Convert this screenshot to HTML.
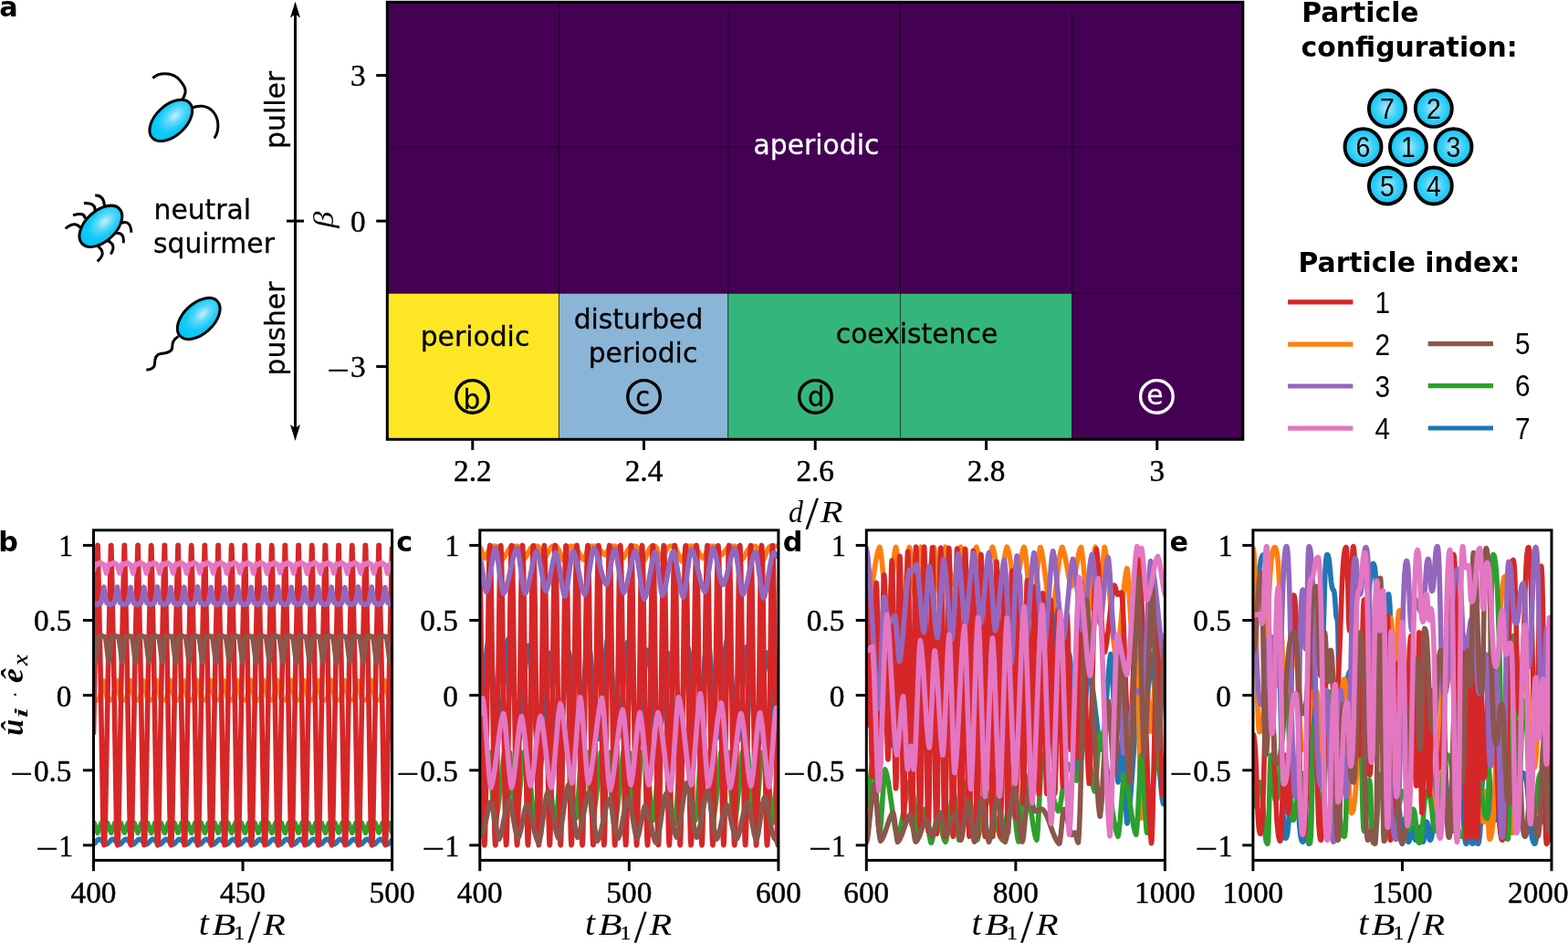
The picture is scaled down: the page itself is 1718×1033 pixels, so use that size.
<!DOCTYPE html>
<html lang="en"><head><meta charset="utf-8"><title>Squirmer cluster state diagram</title>
<style>
html,body{margin:0;padding:0;background:#fff;}
body{width:1718px;height:1033px;overflow:hidden;}
svg{display:block;}
text{white-space:pre;}
</style></head>
<body>
<svg width="1718" height="1033" viewBox="0 0 1718 1033">
<rect x="0" y="0" width="1718" height="1033" fill="#fff"/>
<defs>
<radialGradient id="cy" cx="62%" cy="48%" r="62%">
<stop offset="0" stop-color="#c4f2fe"/><stop offset="0.3" stop-color="#5fd8f9"/><stop offset="0.65" stop-color="#10caf7"/><stop offset="1" stop-color="#00c5f6"/>
</radialGradient>
</defs>
<rect x="424.3" y="2.3" width="937.5" height="479.0" fill="#440154"/>
<rect x="424.3" y="321.3" width="188.09999999999997" height="160.0" fill="#fde725"/>
<rect x="612.4" y="321.3" width="185.30000000000007" height="160.0" fill="#8bb5d7"/>
<rect x="797.7" y="321.3" width="376.79999999999995" height="160.0" fill="#34b67a"/>
<line x1="612.4" y1="2.3" x2="612.4" y2="481.3" stroke="#000" stroke-width="1" opacity="0.6"/>
<line x1="797.7" y1="2.3" x2="797.7" y2="481.3" stroke="#000" stroke-width="1" opacity="0.6"/>
<line x1="986.5" y1="2.3" x2="986.5" y2="481.3" stroke="#000" stroke-width="1" opacity="0.6"/>
<line x1="1174.5" y1="2.3" x2="1174.5" y2="481.3" stroke="#000" stroke-width="1" opacity="0.6"/>
<line x1="424.3" y1="161.3" x2="1361.8" y2="161.3" stroke="#000" stroke-width="1" opacity="0.6"/>
<line x1="424.3" y1="321.3" x2="1361.8" y2="321.3" stroke="#000" stroke-width="1" opacity="0.6"/>
<rect x="424.3" y="2.3" width="937.5" height="479.0" fill="none" stroke="#000" stroke-width="3"/>
<line x1="517.8" y1="482.5" x2="517.8" y2="493" stroke="#000" stroke-width="3" />
<text x="517.8" y="527.4" font-family='"Liberation Serif", "DejaVu Serif", serif' font-size="33.3" text-anchor="middle" font-weight="normal" font-style="normal" fill="#000"  stroke="#000" stroke-width="0.45">2.2</text>
<line x1="705.5" y1="482.5" x2="705.5" y2="493" stroke="#000" stroke-width="3" />
<text x="705.5" y="527.4" font-family='"Liberation Serif", "DejaVu Serif", serif' font-size="33.3" text-anchor="middle" font-weight="normal" font-style="normal" fill="#000"  stroke="#000" stroke-width="0.45">2.4</text>
<line x1="893.2" y1="482.5" x2="893.2" y2="493" stroke="#000" stroke-width="3" />
<text x="893.2" y="527.4" font-family='"Liberation Serif", "DejaVu Serif", serif' font-size="33.3" text-anchor="middle" font-weight="normal" font-style="normal" fill="#000"  stroke="#000" stroke-width="0.45">2.6</text>
<line x1="1080.6" y1="482.5" x2="1080.6" y2="493" stroke="#000" stroke-width="3" />
<text x="1080.6" y="527.4" font-family='"Liberation Serif", "DejaVu Serif", serif' font-size="33.3" text-anchor="middle" font-weight="normal" font-style="normal" fill="#000"  stroke="#000" stroke-width="0.45">2.8</text>
<line x1="1267.8" y1="482.5" x2="1267.8" y2="493" stroke="#000" stroke-width="3" />
<text x="1267.8" y="527.4" font-family='"Liberation Serif", "DejaVu Serif", serif' font-size="33.3" text-anchor="middle" font-weight="normal" font-style="normal" fill="#000"  stroke="#000" stroke-width="0.45">3</text>
<line x1="412.2" y1="82.6" x2="423" y2="82.6" stroke="#000" stroke-width="3" />
<text font-family='"Liberation Serif", "DejaVu Serif", serif' font-size="33.3" stroke="#000" stroke-width="0.45" x="383.95" y="94.20">3</text>
<line x1="412.2" y1="242.1" x2="423" y2="242.1" stroke="#000" stroke-width="3" />
<text font-family='"Liberation Serif", "DejaVu Serif", serif' font-size="33.3" stroke="#000" stroke-width="0.45" x="383.95" y="253.70">0</text>
<line x1="412.2" y1="401.5" x2="423" y2="401.5" stroke="#000" stroke-width="3" />
<text font-family='"Liberation Serif", "DejaVu Serif", serif' font-size="33.3" stroke="#000" stroke-width="0.45"><tspan x="358.55" y="416.70" textLength="24.5" lengthAdjust="spacingAndGlyphs">−</tspan><tspan x="383.95" y="413.10">3</tspan></text>
<text fill="#000"><tspan x="863.94" y="571.70" font-family='"Liberation Serif", "DejaVu Serif", serif' font-size="33.09" font-style="italic" font-weight="normal" textLength="15.96" lengthAdjust="spacingAndGlyphs">d</tspan><tspan x="882.01" y="575.80" font-family='"DejaVu Sans Light", "DejaVu Sans", "Liberation Sans", sans-serif' font-size="40.00" font-style="normal" font-weight="normal" textLength="15.47" lengthAdjust="spacingAndGlyphs" stroke="#000" stroke-width="0.3">/</tspan><tspan x="898.90" y="571.70" font-family='"Liberation Serif", "DejaVu Serif", serif' font-size="34.05" font-style="italic" font-weight="normal" textLength="24.54" lengthAdjust="spacingAndGlyphs">R</tspan></text>
<text transform="translate(365.7,250.3) rotate(-90)" fill="#000"><tspan x="0.55" y="-0.51" font-family='"Liberation Serif", "DejaVu Serif", serif' font-size="32.61" font-style="italic" font-weight="normal" textLength="18.16" lengthAdjust="spacingAndGlyphs">β</tspan></text>
<text x="894.4" y="169.4" font-family='"DejaVu Sans", "Liberation Sans", sans-serif' font-size="29.8" text-anchor="middle" font-weight="normal" font-style="normal" fill="#fff"  stroke="#fff" stroke-width="0.3">aperiodic</text>
<text x="520.5" y="378.5" font-family='"DejaVu Sans", "Liberation Sans", sans-serif' font-size="29.8" text-anchor="middle" font-weight="normal" font-style="normal" fill="#000"  stroke="#000" stroke-width="0.3">periodic</text>
<text x="699.5" y="359.8" font-family='"DejaVu Sans", "Liberation Sans", sans-serif' font-size="29.8" text-anchor="middle" font-weight="normal" font-style="normal" fill="#000"  stroke="#000" stroke-width="0.3">disturbed</text>
<text x="704.5" y="396.8" font-family='"DejaVu Sans", "Liberation Sans", sans-serif' font-size="29.8" text-anchor="middle" font-weight="normal" font-style="normal" fill="#000"  stroke="#000" stroke-width="0.3">periodic</text>
<text x="1004.5" y="375.5" font-family='"DejaVu Sans", "Liberation Sans", sans-serif' font-size="29.8" text-anchor="middle" font-weight="normal" font-style="normal" fill="#000"  stroke="#000" stroke-width="0.3">coexistence</text>
<circle cx="517.5" cy="434.4" r="17.8" fill="none" stroke="#000" stroke-width="3.4"/>
<text fill="#000"><tspan x="507.54" y="447.54" font-family='"DejaVu Sans", "Liberation Sans", sans-serif' font-size="30.58" font-style="normal" font-weight="normal" textLength="18.78" lengthAdjust="spacingAndGlyphs" stroke="#000" stroke-width="0.3">b</tspan></text>
<circle cx="705.55" cy="434.4" r="17.8" fill="none" stroke="#000" stroke-width="3.4"/>
<text fill="#000"><tspan x="696.22" y="445.05" font-family='"DejaVu Sans", "Liberation Sans", sans-serif' font-size="29.74" font-style="normal" font-weight="normal" textLength="15.80" lengthAdjust="spacingAndGlyphs" stroke="#000" stroke-width="0.3">c</tspan></text>
<circle cx="893.45" cy="434.4" r="17.8" fill="none" stroke="#000" stroke-width="3.4"/>
<text fill="#000"><tspan x="884.99" y="444.96" font-family='"DejaVu Sans", "Liberation Sans", sans-serif' font-size="29.29" font-style="normal" font-weight="normal" textLength="18.52" lengthAdjust="spacingAndGlyphs" stroke="#000" stroke-width="0.3">d</tspan></text>
<circle cx="1267.4" cy="434.4" r="17.8" fill="none" stroke="#fff" stroke-width="3.4"/>
<text fill="#fff"><tspan x="1256.16" y="442.64" font-family='"DejaVu Sans", "Liberation Sans", sans-serif' font-size="30.43" font-style="normal" font-weight="normal" textLength="18.34" lengthAdjust="spacingAndGlyphs" stroke="#fff" stroke-width="0.3">e</tspan></text>
<line x1="323.5" y1="12" x2="323.5" y2="472" stroke="#000" stroke-width="3" />
<path d="M323.5,1.7 L329,19.6 L323.5,15.6 L318,19.6 Z" fill="#000"/>
<path d="M323.5,482.9 L329,465 L323.5,469 L318,465 Z" fill="#000"/>
<line x1="314" y1="242.1" x2="333" y2="242.1" stroke="#000" stroke-width="3" />
<text transform="translate(312.3,162.9) rotate(-90)" font-family='"DejaVu Sans", "Liberation Sans", sans-serif' font-size="29.8" stroke="#000" stroke-width="0.3">puller</text>
<text transform="translate(312.3,411.4) rotate(-90)" font-family='"DejaVu Sans", "Liberation Sans", sans-serif' font-size="29.8" stroke="#000" stroke-width="0.3">pusher</text>
<text x="168.5" y="239.8" font-family='"DejaVu Sans", "Liberation Sans", sans-serif' font-size="29.8" text-anchor="start" font-weight="normal" font-style="normal" fill="#000"  stroke="#000" stroke-width="0.3">neutral</text>
<text x="168.0" y="276.8" font-family='"DejaVu Sans", "Liberation Sans", sans-serif' font-size="29.8" text-anchor="start" font-weight="normal" font-style="normal" fill="#000"  stroke="#000" stroke-width="0.3">squirmer</text>
<text x="-0.7" y="17.7" font-family='"DejaVu Sans", "Liberation Sans", sans-serif' font-size="30.3" text-anchor="start" font-weight="bold" font-style="normal" fill="#000" >a</text>
<path d="M167.4,85.6 C173.3,79.6 188.7,78.2 197.1,87.9 S204.0,101.9 199.6,109.6" fill="none" stroke="#000" stroke-width="3" stroke-linecap="butt"/>
<path d="M210.6,118.2 C216.6,115.2 226.4,115.2 232.7,121.5 S241.8,141.0 234.8,151.5" fill="none" stroke="#000" stroke-width="3" stroke-linecap="butt"/>
<ellipse cx="187.3" cy="131.9" rx="28" ry="16.6" transform="rotate(-43 187.3 131.9)" fill="url(#cy)" stroke="#000" stroke-width="3"/>
<path d="M114.5,225.4 Q113.7,213.5 104.2,213.9" fill="none" stroke="#000" stroke-width="3" stroke-linecap="butt"/>
<path d="M103.8,230.6 Q105.6,222.2 91.9,222.6" fill="none" stroke="#000" stroke-width="3" stroke-linecap="butt"/>
<path d="M93.3,239.7 Q92.9,231.8 80,235.9" fill="none" stroke="#000" stroke-width="3" stroke-linecap="butt"/>
<path d="M88,249.2 Q81.6,241.5 71.7,250.5" fill="none" stroke="#000" stroke-width="3" stroke-linecap="butt"/>
<path d="M132.8,244.3 Q143.2,240.5 143.9,254.7" fill="none" stroke="#000" stroke-width="3" stroke-linecap="butt"/>
<path d="M126.5,255.4 Q136.8,254.1 135.2,266.3" fill="none" stroke="#000" stroke-width="3" stroke-linecap="butt"/>
<path d="M117.5,263.5 Q128.2,267.8 121.3,278.5" fill="none" stroke="#000" stroke-width="3" stroke-linecap="butt"/>
<path d="M107.3,269.8 Q117.5,277.6 106.6,286.2" fill="none" stroke="#000" stroke-width="3" stroke-linecap="butt"/>
<ellipse cx="110.4" cy="247.8" rx="28" ry="16.6" transform="rotate(-43 110.4 247.8)" fill="url(#cy)" stroke="#000" stroke-width="3"/>
<path d="M195.5,368.5 C190,371.5 188.5,375 188.7,380.5 C188.9,386 181,387 176.1,387.5 C171.5,388 169.5,392 169.5,398.5 C169.5,403 165,405.2 160.3,404.9" fill="none" stroke="#000" stroke-width="3" stroke-linecap="butt"/>
<ellipse cx="217.7" cy="349" rx="28" ry="16.6" transform="rotate(-43 217.7 349)" fill="url(#cy)" stroke="#000" stroke-width="3"/>
<text x="1426.2" y="24.4" font-family='"DejaVu Sans", "Liberation Sans", sans-serif' font-size="29.8" text-anchor="start" font-weight="bold" font-style="normal" fill="#000" >Particle</text>
<text x="1425.6" y="62.0" font-family='"DejaVu Sans", "Liberation Sans", sans-serif' font-size="29.85" text-anchor="start" font-weight="bold" font-style="normal" fill="#000" >configuration:</text>
<radialGradient id="cy2" cx="50%" cy="50%" r="50%">
<stop offset="0" stop-color="#b4ecfc"/><stop offset="0.5" stop-color="#4ad3f7"/><stop offset="1" stop-color="#06c5f5"/>
</radialGradient>
<circle cx="1519.9" cy="118.9" r="20" fill="url(#cy2)" stroke="#000" stroke-width="3.9"/>
<text transform="translate(1519.9,130.1) scale(0.9,1)" font-family='"Liberation Sans", "DejaVu Sans", sans-serif' font-size="31.5" text-anchor="middle">7</text>
<circle cx="1570.8" cy="118.9" r="20" fill="url(#cy2)" stroke="#000" stroke-width="3.9"/>
<text transform="translate(1570.8,130.1) scale(0.9,1)" font-family='"Liberation Sans", "DejaVu Sans", sans-serif' font-size="31.5" text-anchor="middle">2</text>
<circle cx="1493.5" cy="161.1" r="20" fill="url(#cy2)" stroke="#000" stroke-width="3.9"/>
<text transform="translate(1493.5,172.29999999999998) scale(0.9,1)" font-family='"Liberation Sans", "DejaVu Sans", sans-serif' font-size="31.5" text-anchor="middle">6</text>
<circle cx="1542.9" cy="161.1" r="20" fill="url(#cy2)" stroke="#000" stroke-width="3.9"/>
<text transform="translate(1542.9,172.29999999999998) scale(0.9,1)" font-family='"Liberation Sans", "DejaVu Sans", sans-serif' font-size="31.5" text-anchor="middle">1</text>
<circle cx="1592.5" cy="161.1" r="20" fill="url(#cy2)" stroke="#000" stroke-width="3.9"/>
<text transform="translate(1592.5,172.29999999999998) scale(0.9,1)" font-family='"Liberation Sans", "DejaVu Sans", sans-serif' font-size="31.5" text-anchor="middle">3</text>
<circle cx="1519.9" cy="203.5" r="20" fill="url(#cy2)" stroke="#000" stroke-width="3.9"/>
<text transform="translate(1519.9,214.7) scale(0.9,1)" font-family='"Liberation Sans", "DejaVu Sans", sans-serif' font-size="31.5" text-anchor="middle">5</text>
<circle cx="1570.8" cy="203.5" r="20" fill="url(#cy2)" stroke="#000" stroke-width="3.9"/>
<text transform="translate(1570.8,214.7) scale(0.9,1)" font-family='"Liberation Sans", "DejaVu Sans", sans-serif' font-size="31.5" text-anchor="middle">4</text>
<text x="1422.5" y="297.9" font-family='"DejaVu Sans", "Liberation Sans", sans-serif' font-size="29.8" text-anchor="start" font-weight="bold" font-style="normal" fill="#000" >Particle index:</text>
<line x1="1411.1" y1="330.9" x2="1482.4" y2="330.9" stroke="#d62728" stroke-width="5.2" />
<text transform="translate(1514.7,342.59999999999997) scale(0.92,1)" font-family='"Liberation Sans", "DejaVu Sans", sans-serif' font-size="32.4" text-anchor="middle">1</text>
<line x1="1411.1" y1="377.1" x2="1482.4" y2="377.1" stroke="#ff7f0e" stroke-width="5.2" />
<text transform="translate(1514.7,388.8) scale(0.92,1)" font-family='"Liberation Sans", "DejaVu Sans", sans-serif' font-size="32.4" text-anchor="middle">2</text>
<line x1="1411.1" y1="423.0" x2="1482.4" y2="423.0" stroke="#9467bd" stroke-width="5.2" />
<text transform="translate(1514.7,434.7) scale(0.92,1)" font-family='"Liberation Sans", "DejaVu Sans", sans-serif' font-size="32.4" text-anchor="middle">3</text>
<line x1="1411.1" y1="469.2" x2="1482.4" y2="469.2" stroke="#e377c2" stroke-width="5.2" />
<text transform="translate(1514.7,480.9) scale(0.92,1)" font-family='"Liberation Sans", "DejaVu Sans", sans-serif' font-size="32.4" text-anchor="middle">4</text>
<line x1="1564.7" y1="376.7" x2="1636" y2="376.7" stroke="#8c564b" stroke-width="5.2" />
<text transform="translate(1668.2,388.4) scale(0.92,1)" font-family='"Liberation Sans", "DejaVu Sans", sans-serif' font-size="32.4" text-anchor="middle">5</text>
<line x1="1564.7" y1="422.6" x2="1636" y2="422.6" stroke="#2ca02c" stroke-width="5.2" />
<text transform="translate(1668.2,434.3) scale(0.92,1)" font-family='"Liberation Sans", "DejaVu Sans", sans-serif' font-size="32.4" text-anchor="middle">6</text>
<line x1="1564.7" y1="469.0" x2="1636" y2="469.0" stroke="#1f77b4" stroke-width="5.2" />
<text transform="translate(1668.2,480.7) scale(0.92,1)" font-family='"Liberation Sans", "DejaVu Sans", sans-serif' font-size="32.4" text-anchor="middle">7</text>
<rect x="102.5" y="580.8" width="327.1" height="361.6" fill="#fff"/>
<clipPath id="clipb"><rect x="102.5" y="580.8" width="327.1" height="361.6"/></clipPath>
<g clip-path="url(#clipb)" fill="none" stroke-width="5.6" stroke-linejoin="round" stroke-linecap="round">
<path d="M102.5,924.6 103.8,923.7 107.0,920.1 108.0,919.5 108.8,919.3 109.8,919.6 110.8,920.2 114.5,924.2 115.5,924.8 116.2,924.9 117.0,924.7 118.0,924.1 121.8,920.1 122.8,919.5 123.5,919.3 124.2,919.5 125.0,919.9 129.0,924.1 130.0,924.7 130.8,924.9 131.5,924.8 132.5,924.2 136.2,920.2 137.2,919.5 138.0,919.3 138.8,919.4 139.8,920.0 143.5,924.0 144.5,924.7 145.5,924.9 146.2,924.8 147.0,924.3 151.0,920.1 152.0,919.5 152.8,919.3 153.8,919.5 154.8,920.2 158.5,924.2 159.5,924.8 160.2,924.9 161.0,924.7 162.0,924.1 165.8,920.1 166.8,919.5 167.5,919.3 168.2,919.5 169.0,919.9 173.0,924.1 174.0,924.7 174.8,924.9 175.8,924.7 176.8,924.0 180.5,920.0 181.5,919.4 182.2,919.3 183.0,919.5 184.0,920.2 187.8,924.2 188.8,924.8 189.5,924.9 190.2,924.8 191.2,924.2 195.0,920.1 196.0,919.5 196.8,919.3 197.8,919.5 198.8,920.2 202.5,924.2 203.5,924.8 204.2,924.9 205.0,924.7 206.0,924.1 209.8,920.1 210.8,919.5 211.5,919.3 212.2,919.5 213.2,920.1 217.0,924.1 218.0,924.7 218.8,924.9 219.5,924.8 220.5,924.2 224.2,920.2 225.2,919.5 226.2,919.3 227.0,919.5 228.0,920.1 231.8,924.2 232.8,924.8 233.5,924.9 234.2,924.8 235.2,924.2 239.0,920.2 240.0,919.5 240.8,919.3 241.5,919.4 242.5,920.0 246.2,924.0 247.2,924.7 248.2,924.9 249.0,924.7 250.0,924.1 254.0,919.9 254.8,919.5 255.5,919.3 256.2,919.5 257.2,920.1 261.0,924.1 262.0,924.7 262.8,924.9 263.5,924.8 264.5,924.2 268.2,920.2 269.2,919.5 270.2,919.3 271.0,919.5 272.0,920.1 276.0,924.3 276.8,924.8 277.5,924.9 278.2,924.8 279.2,924.2 283.0,920.2 284.0,919.5 284.8,919.3 285.5,919.4 286.5,920.0 290.2,924.0 291.2,924.7 292.2,924.9 293.0,924.7 294.0,924.1 298.0,919.9 298.8,919.5 299.5,919.3 300.2,919.5 301.2,920.1 305.0,924.1 306.0,924.7 306.8,924.9 307.5,924.8 308.5,924.2 312.2,920.2 313.2,919.6 314.0,919.3 314.8,919.4 315.8,919.9 319.8,924.1 320.8,924.8 321.5,924.9 322.2,924.8 323.2,924.2 327.0,920.2 328.0,919.5 328.8,919.3 329.5,919.4 330.5,920.0 334.2,924.0 335.2,924.7 336.2,924.9 337.0,924.8 338.0,924.1 342.0,919.9 342.8,919.5 343.5,919.3 344.2,919.5 345.2,920.1 349.0,924.1 350.0,924.7 350.8,924.9 351.5,924.8 352.5,924.3 356.2,920.2 357.2,919.6 358.0,919.3 358.8,919.4 359.8,919.9 363.8,924.1 364.8,924.8 365.5,924.9 366.2,924.8 367.2,924.2 371.0,920.2 372.0,919.5 372.8,919.3 373.5,919.4 374.5,920.0 378.2,924.0 379.2,924.7 380.2,924.9 381.0,924.8 382.0,924.1 385.5,920.3 386.5,919.6 387.2,919.4 388.0,919.4 389.0,919.9 393.0,924.1 394.0,924.7 394.8,924.9 395.5,924.8 396.5,924.3 400.2,920.3 401.2,919.6 402.0,919.3 402.8,919.4 403.8,919.9 407.8,924.1 408.8,924.8 409.5,924.9 410.2,924.8 411.2,924.2 414.8,920.4 415.8,919.7 416.5,919.4 417.5,919.4 418.5,920.0 422.2,924.0 423.2,924.7 424.0,924.9 425.0,924.8 426.0,924.1 429.5,920.3" stroke="#1f77b4"/>
<path d="M102.5,763.7 103.0,766.1 103.2,766.6 108.8,766.6 109.0,766.4 113.2,745.7 113.5,745.9 117.8,766.5 123.5,766.6 123.8,766.0 128.0,745.4 132.5,766.6 138.2,766.6 142.8,745.5 147.0,766.1 147.2,766.6 152.8,766.6 153.0,766.4 157.2,745.8 157.5,745.9 161.8,766.5 167.5,766.6 167.8,766.0 172.0,745.4 176.5,766.6 182.2,766.6 186.8,745.4 191.0,766.0 191.2,766.6 197.0,766.5 201.2,745.8 201.5,745.8 205.8,766.4 206.0,766.6 211.5,766.6 211.8,766.1 216.0,745.5 220.5,766.6 226.2,766.6 230.8,745.4 235.0,766.0 235.2,766.6 241.0,766.5 245.2,745.9 245.5,745.8 249.8,766.4 250.0,766.6 255.5,766.6 255.8,766.1 260.0,745.5 264.5,766.6 270.2,766.6 274.8,745.3 279.2,766.6 285.0,766.6 289.2,745.9 289.5,745.7 293.8,766.3 294.0,766.6 299.5,766.6 299.8,766.2 304.0,745.6 304.2,746.1 308.5,766.6 314.2,766.6 318.8,745.3 323.2,766.6 329.0,766.6 333.2,746.0 333.5,745.7 337.8,766.3 338.0,766.6 343.5,766.6 343.8,766.2 348.0,745.6 348.2,746.1 352.5,766.6 358.2,766.6 362.8,745.2 367.2,766.6 373.0,766.6 377.2,746.0 377.5,745.6 381.8,766.2 382.0,766.6 387.5,766.6 387.8,766.3 392.0,745.7 392.2,746.0 396.5,766.6 402.2,766.6 406.8,745.3 411.2,766.6 417.0,766.6 421.2,746.1 421.5,745.6 425.8,766.2 426.0,766.6 429.5,766.6" stroke="#ff7f0e"/>
<path d="M102.5,901.3 103.0,901.4 107.0,912.3 111.2,901.3 117.5,901.3 121.8,912.3 125.8,901.5 126.0,901.3 132.2,901.3 136.2,912.1 136.5,912.1 140.5,901.3 146.8,901.3 147.0,901.4 151.0,912.3 155.2,901.3 161.5,901.3 165.8,912.4 169.8,901.5 170.0,901.3 176.2,901.3 180.2,912.0 180.5,912.2 184.5,901.3 184.8,901.3 191.0,901.4 195.0,912.2 195.2,911.9 199.2,901.3 205.5,901.3 209.8,912.4 213.8,901.5 214.0,901.3 220.2,901.3 224.2,912.0 224.5,912.2 228.5,901.3 228.8,901.3 235.0,901.3 239.0,912.2 239.2,912.0 243.2,901.3 249.5,901.3 249.8,901.6 253.8,912.4 257.8,901.6 258.0,901.3 264.2,901.3 268.2,912.0 268.5,912.2 272.5,901.3 272.8,901.3 279.0,901.3 283.0,912.2 283.2,912.0 287.2,901.3 293.5,901.3 293.8,901.5 297.8,912.4 302.0,901.3 308.2,901.3 312.2,911.9 312.5,912.2 316.5,901.4 316.8,901.3 323.0,901.3 327.0,912.2 327.2,912.0 331.2,901.3 337.5,901.3 337.8,901.5 341.8,912.4 346.0,901.3 352.2,901.3 356.5,912.3 360.5,901.4 360.8,901.3 367.0,901.3 371.0,912.1 371.2,912.1 375.2,901.3 381.5,901.3 381.8,901.5 385.8,912.3 390.0,901.3 396.2,901.3 400.5,912.3 404.5,901.4 404.8,901.3 411.0,901.3 415.0,912.1 415.2,912.1 419.2,901.3 425.5,901.3 425.8,901.4 429.5,911.6" stroke="#2ca02c"/>
<path d="M102.5,803.0 104.8,687.6 106.8,601.2 107.0,597.4 107.2,597.5 110.0,730.0 112.8,894.5 113.5,920.3 114.0,925.8 114.2,925.4 114.5,923.1 115.0,912.4 115.5,894.3 118.8,717.8 121.5,597.5 121.8,597.4 122.0,601.4 124.5,720.9 127.5,898.1 128.2,921.8 128.5,925.0 128.8,925.9 129.0,924.9 129.5,916.9 130.2,890.8 133.5,714.0 136.0,605.2 136.2,597.4 136.5,597.4 139.2,725.2 142.0,890.2 142.8,918.2 143.0,923.1 143.2,925.5 143.5,925.8 144.0,920.6 144.8,898.1 148.2,710.3 150.8,601.6 151.0,597.4 151.2,597.4 154.0,729.4 156.8,894.0 157.5,920.0 157.8,924.1 158.0,925.8 158.2,925.5 158.8,919.0 159.5,894.7 162.8,718.3 165.5,598.0 165.8,597.4 166.0,600.9 168.5,720.4 171.5,897.7 172.2,921.6 172.5,924.9 172.8,925.9 173.0,925.0 173.2,922.1 173.5,917.2 174.2,891.3 177.5,714.5 180.0,605.7 180.2,597.4 180.5,597.4 183.2,724.6 186.0,889.7 186.8,918.0 187.0,922.9 187.2,925.5 187.5,925.8 188.0,920.7 188.8,898.5 192.2,710.8 194.8,602.1 195.0,597.4 195.2,597.4 198.0,728.9 200.8,893.6 201.5,919.8 201.8,924.0 202.0,925.8 202.2,925.5 202.8,919.2 203.5,895.2 206.8,718.8 209.5,598.5 209.8,597.4 210.0,600.5 212.5,719.9 215.5,897.2 216.2,921.4 216.5,924.8 216.8,925.9 217.0,925.0 217.2,922.2 217.5,917.4 218.2,891.7 221.5,715.0 224.0,606.2 224.2,597.4 224.5,597.4 227.2,724.1 230.0,889.2 230.8,917.7 231.0,922.8 231.2,925.4 231.5,925.8 232.0,920.9 232.8,898.9 236.2,711.2 238.8,602.5 239.0,597.4 239.2,597.4 242.0,728.4 244.8,893.1 245.5,919.6 245.8,923.9 246.0,925.8 246.2,925.6 246.8,919.4 247.5,895.6 250.8,719.2 253.5,598.9 253.8,597.4 254.0,600.0 256.5,719.4 259.5,896.8 260.2,921.2 260.5,924.7 260.8,925.9 261.0,925.1 261.2,922.4 261.5,917.6 262.2,892.1 265.5,715.4 268.0,606.6 268.2,597.4 268.5,597.4 271.2,723.6 274.0,888.7 274.8,917.5 275.0,922.6 275.2,925.4 275.5,925.8 276.0,921.1 276.8,899.3 280.2,711.7 282.8,603.0 283.0,597.4 283.2,597.4 286.0,727.8 288.8,892.6 289.5,919.4 289.8,923.8 290.0,925.7 290.2,925.6 290.8,919.6 291.5,896.0 294.8,719.7 297.5,599.4 297.8,597.4 298.0,599.5 300.5,718.9 303.5,896.3 304.2,921.1 304.5,924.7 304.8,925.9 305.0,925.2 305.2,922.5 305.5,917.9 306.2,892.6 309.5,715.9 312.0,607.1 312.2,597.4 312.5,597.4 315.2,723.0 318.0,888.2 318.8,917.2 319.0,922.5 319.2,925.3 319.5,925.9 320.0,921.3 320.8,899.7 324.2,712.2 326.8,603.4 327.0,597.4 327.2,597.4 330.0,727.3 332.8,892.1 333.5,919.2 333.8,923.6 334.0,925.7 334.2,925.6 334.8,919.8 335.5,896.4 338.8,720.2 341.5,599.8 341.8,597.4 342.0,599.0 344.5,718.3 347.5,895.9 348.2,920.9 348.8,925.9 349.0,925.2 349.2,922.7 349.5,918.1 350.2,893.0 353.5,716.4 356.2,597.4 356.5,597.4 356.8,602.9 359.2,722.5 362.0,887.7 362.8,917.0 363.0,922.3 363.2,925.2 363.5,925.9 364.0,921.4 364.2,916.2 365.0,889.5 368.2,712.6 370.8,603.9 371.0,597.4 371.2,597.4 374.0,726.8 376.8,891.7 377.5,918.9 377.8,923.5 378.0,925.7 378.2,925.7 378.8,920.0 379.5,896.8 382.8,720.7 385.5,600.3 385.8,597.4 386.0,598.5 388.5,717.8 391.5,895.4 392.2,920.7 392.8,925.9 393.0,925.3 393.2,922.8 393.5,918.3 394.2,893.4 397.5,716.9 400.2,597.4 400.5,597.4 400.8,602.4 403.2,722.0 406.2,899.0 407.0,922.1 407.2,925.2 407.5,925.9 408.0,921.6 408.2,916.5 409.0,889.9 412.2,713.1 414.8,604.3 415.0,597.4 415.2,597.4 418.0,726.2 420.8,891.2 421.5,918.7 421.8,923.4 422.0,925.6 422.2,925.7 422.5,924.0 423.0,914.4 423.8,886.2 426.5,733.4 429.5,600.7" stroke="#d62728"/>
<path d="M102.5,660.5 103.5,660.6 105.5,662.1 106.5,662.4 107.5,662.1 109.5,660.6 110.5,660.5 111.0,659.0 112.0,654.1 113.8,643.1 115.8,654.9 117.0,660.5 118.2,660.7 120.2,662.2 121.2,662.4 122.2,662.0 124.0,660.7 124.5,660.5 125.2,660.5 126.8,653.6 128.5,643.0 130.2,654.0 131.2,658.9 131.8,660.5 132.8,660.6 134.8,662.1 135.8,662.4 136.8,662.1 138.8,660.7 139.8,660.5 140.0,660.3 141.5,653.2 143.0,643.7 143.2,643.5 144.8,653.1 146.2,660.2 146.5,660.5 147.0,660.5 147.8,660.8 149.8,662.3 150.5,662.4 151.0,662.3 153.2,660.7 154.0,660.5 154.5,660.5 154.8,660.0 156.2,652.8 157.8,643.2 159.8,654.8 161.0,660.5 162.2,660.7 164.5,662.3 165.5,662.4 168.0,660.7 168.8,660.5 169.2,660.5 170.8,653.7 172.5,642.9 174.2,653.9 175.8,660.5 176.8,660.6 178.8,662.1 179.8,662.4 180.8,662.1 182.8,660.7 184.0,660.3 185.5,653.3 187.0,643.8 187.2,643.5 188.8,653.0 190.2,660.2 190.5,660.5 191.0,660.5 191.8,660.8 193.8,662.3 194.8,662.4 195.5,662.1 197.5,660.6 198.5,660.5 198.8,660.1 200.2,652.8 201.8,643.2 203.8,654.8 205.0,660.4 206.2,660.7 208.2,662.2 209.2,662.4 210.2,662.0 212.0,660.7 212.8,660.5 213.2,660.5 214.8,653.7 216.5,642.8 218.2,653.9 219.8,660.5 220.8,660.6 222.8,662.1 223.8,662.4 224.8,662.1 226.8,660.7 228.0,660.4 229.5,653.3 231.0,643.9 231.2,643.4 232.8,652.9 234.2,660.2 234.5,660.5 235.5,660.6 237.5,662.1 238.5,662.4 239.5,662.1 241.5,660.6 242.5,660.5 243.0,659.1 244.0,654.2 245.8,643.3 246.0,644.0 247.8,654.7 249.0,660.4 250.2,660.7 252.2,662.2 253.2,662.4 254.0,662.2 256.2,660.6 257.2,660.5 258.8,653.8 260.5,642.7 262.2,653.8 263.8,660.5 264.8,660.6 267.0,662.2 267.8,662.4 268.8,662.2 270.8,660.7 272.0,660.4 273.2,654.7 275.0,643.9 275.2,643.3 277.0,654.3 278.0,659.1 278.5,660.5 279.5,660.6 281.5,662.1 282.5,662.4 283.5,662.1 285.5,660.6 286.5,660.5 287.0,659.2 288.0,654.3 289.8,643.4 290.0,643.9 291.8,654.7 293.0,660.4 294.2,660.7 296.2,662.2 297.2,662.4 298.2,662.1 300.2,660.6 301.2,660.5 302.8,653.9 304.5,642.8 306.2,653.8 307.8,660.5 308.2,660.5 309.0,660.7 310.8,662.0 311.8,662.4 312.8,662.2 314.8,660.7 316.0,660.4 317.2,654.8 319.2,643.3 321.0,654.2 322.0,659.1 322.5,660.5 323.5,660.6 325.5,662.1 326.5,662.4 327.5,662.1 329.5,660.6 330.5,660.5 331.0,659.2 332.0,654.3 333.8,643.4 334.0,643.8 335.5,653.3 337.0,660.3 338.2,660.7 340.2,662.1 341.2,662.4 342.2,662.1 344.2,660.6 345.2,660.5 345.5,659.9 347.0,652.5 348.5,642.9 350.2,653.7 351.8,660.5 352.2,660.5 353.0,660.7 354.8,662.0 355.8,662.4 356.8,662.2 358.8,660.7 360.0,660.5 361.2,654.8 363.2,643.2 365.0,654.1 366.0,659.0 366.5,660.5 367.5,660.6 369.5,662.1 370.5,662.4 371.5,662.1 373.5,660.6 374.5,660.5 374.8,660.2 375.0,659.2 376.0,654.4 377.8,643.5 378.0,643.8 379.5,653.2 381.0,660.3 382.2,660.7 384.2,662.1 385.2,662.4 386.2,662.1 388.2,660.6 389.2,660.5 389.5,659.9 391.0,652.6 392.5,642.9 394.2,653.7 395.8,660.5 396.5,660.5 397.0,660.7 398.8,662.0 399.8,662.4 400.8,662.2 402.8,660.7 404.0,660.5 405.2,654.9 407.2,643.1 409.0,654.1 410.0,659.0 410.5,660.5 411.5,660.6 413.5,662.1 414.5,662.4 415.5,662.1 417.5,660.6 418.5,660.5 418.8,660.2 419.8,655.7 421.8,643.6 422.0,643.7 423.5,653.2 425.0,660.3 425.2,660.5 425.8,660.5 426.5,660.8 428.5,662.3 429.5,662.4" stroke="#9467bd"/>
<path d="M102.5,709.9 104.2,724.2 104.5,724.8 108.0,697.6 108.2,697.2 109.0,697.8 109.8,697.9 111.2,696.8 112.0,696.6 112.5,696.8 114.0,697.8 114.5,697.9 115.2,697.6 115.5,698.0 116.5,704.9 119.0,724.9 119.2,724.2 122.8,697.1 124.0,697.9 124.8,697.7 126.5,696.6 127.2,696.8 128.8,697.9 129.2,697.9 130.0,697.5 131.5,707.3 133.8,725.5 136.2,705.4 137.5,697.2 138.8,697.9 139.2,697.8 140.8,696.8 141.2,696.6 141.8,696.7 143.5,697.9 144.0,697.9 144.8,697.4 146.2,707.9 148.2,724.2 148.5,724.9 152.0,697.7 152.2,697.2 153.0,697.8 153.8,697.9 155.5,696.7 156.2,696.7 158.0,697.8 158.5,697.9 159.2,697.6 159.5,698.0 161.0,708.5 163.0,724.8 163.2,724.3 166.8,697.1 167.8,697.8 168.2,697.9 168.8,697.7 170.0,696.8 170.8,696.6 172.8,697.9 173.2,697.9 174.0,697.5 174.2,698.5 177.8,725.4 180.5,703.6 181.5,697.2 182.2,697.7 183.0,697.9 184.8,696.8 185.5,696.6 187.5,697.9 188.0,697.9 188.8,697.4 190.2,707.8 192.2,724.1 192.5,725.0 196.0,697.8 196.2,697.2 197.0,697.8 197.8,697.9 199.5,696.7 200.0,696.6 200.5,696.8 202.0,697.8 202.5,697.9 203.2,697.6 203.5,697.9 205.0,708.4 207.0,724.7 207.2,724.4 210.8,697.2 211.8,697.8 212.2,697.9 212.8,697.8 214.0,696.8 214.8,696.6 216.8,697.9 217.2,697.9 218.0,697.5 218.2,698.4 221.8,725.3 224.5,703.7 225.5,697.2 226.2,697.7 227.0,697.9 228.8,696.8 229.5,696.6 231.5,697.9 232.0,697.9 232.8,697.4 236.5,725.0 240.0,697.8 240.2,697.2 241.0,697.8 241.8,697.9 243.5,696.7 244.0,696.6 244.5,696.8 246.0,697.8 246.5,697.9 247.2,697.6 247.5,697.8 249.0,708.3 251.0,724.6 251.2,724.5 254.8,697.3 256.2,697.9 256.8,697.8 258.0,696.8 258.8,696.6 260.8,697.9 261.2,697.9 262.0,697.5 262.2,698.4 265.8,725.3 268.5,703.7 269.5,697.1 270.2,697.7 271.0,697.9 272.8,696.8 273.5,696.6 275.5,697.9 276.0,697.9 276.8,697.5 280.5,725.1 284.0,697.9 284.2,697.2 285.0,697.8 285.8,697.9 287.5,696.7 288.0,696.6 288.5,696.7 290.0,697.8 290.5,697.9 291.2,697.6 291.5,697.7 293.0,708.3 295.0,724.6 295.2,724.5 298.8,697.3 299.0,697.3 300.0,697.9 300.5,697.9 302.0,696.8 302.8,696.6 304.8,697.9 305.2,697.9 306.0,697.5 306.2,698.3 307.8,708.9 309.8,725.2 313.5,697.1 314.2,697.7 315.0,697.9 316.8,696.8 317.5,696.6 319.5,697.9 320.0,697.9 320.8,697.5 322.0,705.7 324.5,725.2 328.0,698.0 328.2,697.2 329.0,697.8 329.8,697.9 331.5,696.7 332.0,696.6 332.5,696.7 334.2,697.9 335.2,697.6 335.5,697.7 337.0,708.2 339.0,724.5 339.2,724.6 342.8,697.4 343.0,697.3 343.8,697.8 344.5,697.9 346.0,696.8 346.8,696.6 348.8,697.9 349.2,697.9 350.0,697.5 350.2,698.2 351.8,708.8 353.8,725.1 357.5,697.1 358.2,697.7 359.0,697.9 360.8,696.8 361.5,696.6 363.5,697.9 364.0,697.9 364.8,697.5 366.0,705.6 368.5,725.3 372.0,698.0 372.2,697.2 373.0,697.8 373.8,697.9 375.5,696.7 376.0,696.6 376.5,696.7 378.2,697.9 379.5,697.6 381.0,708.1 383.0,724.4 383.2,724.7 386.8,697.5 387.0,697.3 387.8,697.8 388.5,697.9 390.0,696.8 390.8,696.6 392.8,697.9 393.2,697.9 394.0,697.5 394.2,698.2 395.8,708.7 397.8,725.0 398.0,724.1 401.5,697.1 402.2,697.7 403.0,697.9 404.8,696.8 405.5,696.6 407.5,697.9 408.0,697.9 408.8,697.5 410.2,707.4 412.5,725.3 415.2,703.4 416.2,697.2 417.0,697.8 417.8,697.9 419.5,696.7 420.0,696.6 420.5,696.7 422.2,697.9 423.5,697.5 425.0,708.0 427.0,724.3 427.2,724.8 429.5,706.6" stroke="#8c564b"/>
<path d="M102.5,624.4 103.5,620.3 104.5,617.8 104.8,617.7 106.0,618.4 106.8,618.4 109.2,616.6 110.2,616.5 111.0,616.8 112.8,618.1 113.5,618.4 114.5,621.0 116.5,627.9 118.0,620.9 118.8,618.6 119.2,617.7 120.5,618.3 121.2,618.4 122.0,618.1 123.8,616.7 124.8,616.5 125.5,616.7 127.2,618.0 128.2,618.5 129.5,622.1 131.0,627.7 131.2,627.4 132.8,620.6 133.8,618.0 134.0,617.6 135.0,618.3 136.0,618.4 136.8,618.0 138.5,616.7 139.5,616.5 140.2,616.7 143.0,618.7 144.5,623.2 145.8,628.1 147.2,621.2 148.5,617.8 148.8,617.7 149.8,618.3 150.8,618.4 153.0,616.8 154.0,616.5 155.0,616.8 156.8,618.1 157.5,618.4 157.8,618.9 160.5,627.9 162.0,620.9 162.8,618.7 163.2,617.7 164.5,618.3 165.2,618.4 166.0,618.1 167.8,616.7 168.8,616.5 169.5,616.7 171.2,618.0 172.2,618.5 173.5,622.0 175.0,627.7 175.2,627.5 176.8,620.7 177.8,618.0 178.0,617.6 179.2,618.4 180.0,618.4 180.8,618.0 182.5,616.7 183.5,616.5 184.2,616.7 187.0,618.7 188.5,623.1 189.8,628.0 191.2,621.3 192.5,617.8 192.8,617.6 193.8,618.3 194.8,618.4 197.0,616.8 198.0,616.5 199.0,616.8 200.8,618.1 201.5,618.4 201.8,618.8 203.0,622.6 204.5,628.0 206.0,621.0 206.8,618.7 207.2,617.7 207.5,617.7 208.5,618.3 209.2,618.4 210.0,618.1 211.8,616.7 212.8,616.5 213.5,616.7 215.2,618.0 216.2,618.5 217.5,622.0 219.0,627.6 219.2,627.5 220.8,620.7 221.5,618.5 222.0,617.6 223.2,618.4 224.0,618.4 224.8,618.0 226.5,616.7 227.5,616.5 228.2,616.7 231.0,618.6 232.5,623.1 233.8,628.0 235.2,621.3 236.5,617.9 236.8,617.6 237.8,618.3 238.8,618.4 241.0,616.8 242.0,616.5 243.0,616.8 244.8,618.1 245.5,618.4 245.8,618.8 247.0,622.5 248.5,628.0 250.0,621.0 250.8,618.7 251.2,617.7 251.5,617.7 252.5,618.3 253.2,618.4 254.0,618.1 255.8,616.8 256.8,616.5 257.5,616.7 259.2,618.0 260.2,618.5 261.5,622.0 263.0,627.6 263.2,627.6 264.8,620.7 265.5,618.5 266.0,617.7 267.2,618.4 268.0,618.4 268.8,618.0 270.5,616.7 271.5,616.5 272.2,616.7 275.0,618.6 276.5,623.1 277.8,628.0 279.2,621.3 280.5,617.9 280.8,617.6 281.8,618.3 282.8,618.4 285.0,616.8 286.0,616.5 287.0,616.8 288.8,618.1 289.5,618.4 289.8,618.8 291.0,622.5 292.5,628.1 294.0,621.0 295.2,617.8 295.5,617.7 296.5,618.3 297.2,618.4 298.0,618.1 299.8,616.8 300.8,616.5 301.5,616.7 303.2,618.0 304.2,618.5 305.5,621.9 307.0,627.6 307.2,627.6 308.8,620.8 309.5,618.5 310.0,617.7 311.2,618.4 312.0,618.4 312.8,618.0 314.5,616.7 315.5,616.5 316.2,616.7 318.0,618.1 319.0,618.6 320.5,623.0 321.8,627.9 323.2,621.4 324.5,617.9 324.8,617.6 325.8,618.3 326.8,618.4 329.2,616.7 330.0,616.5 331.0,616.8 332.8,618.1 333.5,618.4 333.8,618.8 335.0,622.5 336.5,628.2 338.0,621.1 339.2,617.8 339.5,617.7 340.5,618.3 341.2,618.4 342.0,618.1 343.8,616.8 344.8,616.5 345.5,616.7 347.2,618.0 348.2,618.4 349.5,621.9 351.0,627.5 351.2,627.7 352.8,620.8 353.5,618.6 354.0,617.7 355.2,618.3 356.0,618.4 356.8,618.1 358.5,616.7 359.5,616.5 360.2,616.7 362.0,618.1 363.0,618.6 364.2,622.2 365.8,627.9 367.2,621.4 368.5,617.9 368.8,617.6 369.8,618.3 370.8,618.4 373.2,616.7 374.0,616.5 375.0,616.8 376.8,618.1 377.5,618.4 377.8,618.7 379.2,623.3 380.5,628.2 382.0,621.1 383.2,617.8 383.5,617.7 384.8,618.4 385.5,618.4 387.8,616.8 388.8,616.5 389.5,616.7 391.2,618.0 392.2,618.4 393.5,621.9 395.0,627.5 395.2,627.8 396.8,620.8 397.5,618.6 398.0,617.7 399.2,618.3 400.0,618.4 400.8,618.1 402.5,616.7 403.5,616.5 404.2,616.7 406.0,618.1 407.0,618.6 408.2,622.1 409.8,627.8 410.0,627.3 411.5,620.5 412.5,617.9 412.8,617.6 413.8,618.3 414.8,618.4 417.2,616.7 418.0,616.5 419.0,616.8 421.8,618.7 423.2,623.2 424.5,628.2 425.8,622.1 427.0,618.2 427.5,617.7 428.5,618.3 429.5,618.4" stroke="#e377c2"/>
</g>
<rect x="102.5" y="580.8" width="327.1" height="361.6" fill="none" stroke="#000" stroke-width="3"/>
<line x1="102.5" y1="943.5" x2="102.5" y2="954.2" stroke="#000" stroke-width="3" />
<text x="102.5" y="989.3" font-family='"Liberation Serif", "DejaVu Serif", serif' font-size="33.3" text-anchor="middle" font-weight="normal" font-style="normal" fill="#000"  stroke="#000" stroke-width="0.45">400</text>
<line x1="266.05" y1="943.5" x2="266.05" y2="954.2" stroke="#000" stroke-width="3" />
<text x="266.05" y="989.3" font-family='"Liberation Serif", "DejaVu Serif", serif' font-size="33.3" text-anchor="middle" font-weight="normal" font-style="normal" fill="#000"  stroke="#000" stroke-width="0.45">450</text>
<line x1="429.6" y1="943.5" x2="429.6" y2="954.2" stroke="#000" stroke-width="3" />
<text x="429.6" y="989.3" font-family='"Liberation Serif", "DejaVu Serif", serif' font-size="33.3" text-anchor="middle" font-weight="normal" font-style="normal" fill="#000"  stroke="#000" stroke-width="0.45">500</text>
<line x1="90.9" y1="597.4" x2="101.5" y2="597.4" stroke="#000" stroke-width="3" />
<text font-family='"Liberation Serif", "DejaVu Serif", serif' font-size="33.3" stroke="#000" stroke-width="0.45" x="64.32" y="609.30" textLength="15.77" lengthAdjust="spacingAndGlyphs">1</text>
<line x1="90.9" y1="679.525" x2="101.5" y2="679.525" stroke="#000" stroke-width="3" />
<text font-family='"Liberation Serif", "DejaVu Serif", serif' font-size="33.3" stroke="#000" stroke-width="0.45" x="36.88" y="691.42">0.5</text>
<line x1="90.9" y1="761.65" x2="101.5" y2="761.65" stroke="#000" stroke-width="3" />
<text font-family='"Liberation Serif", "DejaVu Serif", serif' font-size="33.3" stroke="#000" stroke-width="0.45" x="61.85" y="773.55">0</text>
<line x1="90.9" y1="843.775" x2="101.5" y2="843.775" stroke="#000" stroke-width="3" />
<text font-family='"Liberation Serif", "DejaVu Serif", serif' font-size="33.3" stroke="#000" stroke-width="0.45"><tspan x="11.47" y="859.27" textLength="24.5" lengthAdjust="spacingAndGlyphs">−</tspan><tspan x="36.88" y="855.67">0.5</tspan></text>
<line x1="90.9" y1="925.9" x2="101.5" y2="925.9" stroke="#000" stroke-width="3" />
<text font-family='"Liberation Serif", "DejaVu Serif", serif' font-size="33.3" stroke="#000" stroke-width="0.45"><tspan x="39.45" y="941.40" textLength="24.5" lengthAdjust="spacingAndGlyphs">−</tspan><tspan x="64.32" y="937.80" textLength="15.77" lengthAdjust="spacingAndGlyphs">1</tspan></text>
<text fill="#000"><tspan x="217.80" y="1024.00" font-family='"Liberation Serif", "DejaVu Serif", serif' font-size="37.88" font-style="italic" font-weight="normal" textLength="11.11" lengthAdjust="spacingAndGlyphs">t</tspan><tspan x="232.17" y="1024.00" font-family='"Liberation Serif", "DejaVu Serif", serif' font-size="34.66" font-style="italic" font-weight="normal" textLength="26.01" lengthAdjust="spacingAndGlyphs">B</tspan><tspan x="256.19" y="1028.70" font-family='"Liberation Serif", "DejaVu Serif", serif' font-size="21.82" font-style="normal" font-weight="normal" textLength="11.83" lengthAdjust="spacingAndGlyphs" stroke="#000" stroke-width="0.3">1</tspan><tspan x="271.04" y="1028.66" font-family='"DejaVu Sans Light", "DejaVu Sans", "Liberation Sans", sans-serif' font-size="41.45" font-style="normal" font-weight="normal" textLength="14.91" lengthAdjust="spacingAndGlyphs" stroke="#000" stroke-width="0.3">/</tspan><tspan x="288.20" y="1024.00" font-family='"Liberation Serif", "DejaVu Serif", serif' font-size="34.66" font-style="italic" font-weight="normal" textLength="24.64" lengthAdjust="spacingAndGlyphs">R</tspan></text>
<text x="-1.7" y="604.4" font-family='"DejaVu Sans", "Liberation Sans", sans-serif' font-size="30.3" text-anchor="start" font-weight="bold" font-style="normal" fill="#000" >b</text>
<rect x="525.8" y="580.8" width="327.1" height="361.6" fill="#fff"/>
<clipPath id="clipc"><rect x="525.8" y="580.8" width="327.1" height="361.6"/></clipPath>
<g clip-path="url(#clipc)" fill="none" stroke-width="5.6" stroke-linejoin="round" stroke-linecap="round">
<path d="M525.8,809.9 526.8,802.0 527.8,790.5 531.5,733.5 532.8,717.4 533.5,710.0 534.3,704.8 535.0,701.9 535.5,701.5 536.0,702.1 536.8,705.1 537.5,710.5 538.3,718.0 539.5,734.0 542.5,778.8 544.0,796.5 545.3,805.4 545.8,807.1 546.3,807.8 546.8,807.3 547.5,804.5 548.3,799.3 549.0,792.0 550.3,776.2 553.5,727.4 555.0,710.1 555.8,704.3 556.5,700.9 557.0,699.9 557.3,699.9 557.5,700.1 558.0,701.4 559.0,707.3 560.3,720.1 564.3,779.9 565.5,795.8 566.3,803.1 567.0,808.1 567.8,810.8 568.3,811.2 568.8,810.5 569.5,807.4 571.0,794.5 575.3,734.3 576.8,717.3 577.5,711.6 578.3,708.2 578.8,707.3 579.0,707.3 579.5,708.0 580.0,709.9 580.8,714.8 582.0,727.6 586.0,787.9 587.5,806.8 588.8,816.8 589.5,819.6 590.0,820.2 590.5,819.6 591.3,816.6 592.0,811.3 592.8,803.9 594.0,787.9 597.0,743.4 598.5,725.9 599.8,717.1 600.5,715.0 600.8,714.9 601.0,715.0 601.5,716.1 602.3,719.8 603.8,733.8 607.8,792.5 609.3,811.1 610.5,820.8 611.3,823.6 611.8,824.0 612.3,823.3 613.0,820.1 614.3,809.8 615.5,794.2 619.8,731.7 621.3,718.1 622.0,714.7 622.5,713.7 622.8,713.7 623.0,713.9 623.8,716.3 625.0,725.4 626.5,743.3 629.5,787.6 630.8,803.1 631.5,810.2 632.3,815.2 633.0,817.8 633.5,818.2 634.0,817.4 634.8,814.2 636.0,803.7 637.3,787.9 641.5,724.2 643.0,710.1 643.8,706.3 644.3,705.2 644.5,705.1 644.8,705.2 645.5,707.4 646.8,716.1 648.3,733.7 651.3,778.0 652.5,793.8 653.3,801.0 654.0,806.2 654.8,809.1 655.3,809.6 655.8,809.0 656.5,806.1 657.8,796.0 659.3,777.1 663.0,721.1 664.3,707.8 665.0,702.6 665.5,700.5 666.0,699.4 666.3,699.3 666.5,699.5 667.0,700.7 667.8,704.6 668.5,710.7 670.0,728.6 674.3,790.7 675.8,804.2 676.5,807.5 677.0,808.4 677.3,808.4 677.5,808.2 678.3,805.7 679.0,800.9 679.8,793.9 681.3,775.0 684.3,730.5 685.8,713.3 687.0,705.0 687.8,703.2 688.0,703.1 688.3,703.4 688.8,704.7 689.5,708.7 691.0,723.3 695.0,783.6 696.5,802.5 697.8,812.6 698.5,815.5 699.0,816.1 699.5,815.5 700.3,812.6 701.0,807.3 701.8,800.0 703.0,784.2 706.0,740.0 707.5,722.7 708.8,714.2 709.5,712.2 709.8,712.1 710.0,712.2 710.5,713.4 711.3,717.2 712.8,731.5 716.8,791.1 718.3,810.0 719.5,820.0 720.3,822.9 720.8,823.4 721.3,822.8 722.0,819.9 722.8,814.5 723.5,807.1 724.8,791.0 727.8,745.7 729.3,727.6 730.5,718.3 731.3,715.8 731.5,715.6 731.8,715.6 732.3,716.4 733.0,719.8 734.5,733.1 738.5,790.7 740.0,809.0 741.3,818.7 742.0,821.4 742.5,821.8 743.0,821.1 743.8,818.0 745.0,807.6 746.3,791.9 750.5,728.5 751.8,716.1 752.5,711.6 753.0,709.9 753.5,709.4 753.8,709.5 754.3,710.7 755.0,714.4 755.8,720.4 757.3,737.8 760.3,781.9 761.5,797.6 762.3,804.8 763.0,809.9 763.8,812.7 764.3,813.2 764.8,812.5 765.5,809.5 766.8,799.2 768.3,780.1 772.0,723.4 773.3,709.8 774.0,704.5 774.5,702.2 775.0,701.1 775.3,701.0 775.5,701.1 776.0,702.2 776.8,705.9 777.5,711.9 779.0,729.5 782.0,774.4 783.3,790.6 784.8,803.7 785.5,806.9 786.0,807.7 786.5,807.3 787.3,804.7 788.5,795.2 790.0,776.9 793.0,731.8 794.3,715.9 795.0,708.6 795.8,703.4 796.5,700.7 797.0,700.2 797.5,700.9 798.3,704.0 799.5,714.3 800.8,729.8 805.0,793.0 806.3,805.3 807.0,809.7 807.5,811.4 808.0,811.9 808.3,811.7 808.8,810.6 809.5,806.8 810.3,800.8 811.8,783.3 814.8,739.2 816.0,723.5 816.8,716.3 817.5,711.2 818.3,708.5 818.8,708.0 819.3,708.7 820.0,711.8 821.3,722.0 822.8,741.2 826.5,798.2 827.8,811.8 828.5,817.2 829.0,819.5 829.5,820.6 829.8,820.8 830.0,820.7 830.5,819.6 831.3,816.0 832.0,810.1 833.5,792.6 836.5,748.0 837.8,731.9 839.3,719.0 840.0,715.9 840.5,715.2 841.0,715.6 841.8,718.3 842.5,723.3 843.3,730.5 844.8,750.0 847.8,795.4 849.5,815.2 850.5,821.7 851.3,823.7 851.5,823.9 852.0,823.2 852.8,820.2" stroke="#1f77b4"/>
<path d="M525.8,599.5 527.3,602.1 530.0,609.5 531.3,611.5 532.0,610.8 532.8,609.6 536.5,601.0 538.0,598.7 538.8,598.2 543.5,598.3 544.3,599.0 545.0,600.3 548.5,609.8 549.5,611.8 550.0,612.4 550.3,612.5 551.5,611.4 552.8,609.9 557.5,601.9 559.8,599.1 561.3,598.2 567.3,598.3 568.0,599.0 568.8,600.3 572.3,609.8 573.3,611.8 573.8,612.4 574.0,612.4 575.0,611.6 576.3,609.9 581.3,600.8 582.5,599.3 583.8,598.4 584.3,598.2 588.8,598.2 589.8,598.9 591.5,601.5 595.0,609.0 596.0,610.5 596.5,610.9 596.8,610.9 597.5,610.3 598.5,609.0 602.3,601.8 604.0,599.3 605.0,598.5 605.8,598.2 609.0,598.2 610.0,598.9 611.3,600.6 612.5,603.3 615.8,611.7 616.8,613.4 617.3,614.0 617.5,614.0 618.3,612.9 619.0,611.3 622.8,600.6 623.8,598.9 624.8,598.2 628.8,598.2 629.5,598.5 630.5,599.3 632.5,602.1 637.0,610.6 638.3,612.3 639.3,613.0 640.0,612.1 641.0,610.1 644.8,600.6 645.8,599.0 646.8,598.2 653.0,598.2 654.0,598.6 656.0,600.3 660.8,606.2 662.0,607.2 663.0,607.7 664.5,605.9 667.3,600.7 668.8,598.6 669.5,598.2 674.3,598.3 675.0,598.8 676.0,600.3 680.0,609.6 681.0,611.3 681.8,612.0 682.8,611.2 684.0,609.6 688.3,602.0 690.3,599.3 691.3,598.5 692.0,598.2 696.3,598.2 697.3,598.8 698.5,600.8 699.8,604.0 702.8,612.8 703.8,614.8 704.5,615.7 705.5,614.6 706.8,612.4 710.3,603.9 711.8,600.9 713.3,598.9 714.5,598.2 717.8,598.2 718.8,599.2 720.0,601.9 723.0,611.3 724.3,613.5 725.3,612.6 726.3,611.1 730.5,602.1 731.5,600.4 732.5,599.1 733.3,598.5 734.0,598.2 738.0,598.2 738.5,598.4 739.5,599.2 740.8,601.2 745.0,611.6 746.0,613.4 747.0,614.6 747.8,613.6 748.5,612.0 752.3,600.7 753.3,598.8 754.0,598.2 759.5,598.2 761.0,599.0 763.3,601.5 768.3,609.2 769.5,610.6 770.8,611.5 771.5,610.7 772.3,609.3 775.8,600.4 776.5,599.1 777.3,598.3 782.8,598.2 783.5,598.6 785.3,600.5 788.8,606.0 789.8,607.2 790.5,607.7 791.5,607.2 792.5,606.3 797.0,600.3 798.8,598.7 799.8,598.2 805.5,598.2 806.3,598.7 807.3,600.5 810.8,610.3 811.5,611.9 812.3,613.0 813.3,612.4 814.8,610.6 819.5,602.3 821.8,599.4 822.8,598.6 823.8,598.2 827.5,598.2 828.5,598.8 829.8,601.0 833.5,612.2 834.3,614.0 835.0,615.1 835.3,615.0 835.8,614.5 836.8,612.9 841.0,602.5 842.3,600.1 843.3,598.9 844.5,598.2 852.8,598.3" stroke="#ff7f0e"/>
<path d="M525.8,824.1 536.5,824.1 536.8,824.3 540.0,880.2 541.3,895.2 542.3,902.2 543.0,900.0 544.0,895.5 545.8,884.2 547.5,869.4 551.3,833.9 552.5,824.1 558.3,824.1 558.5,824.2 562.8,883.9 564.0,896.3 565.0,902.2 565.5,900.5 566.3,896.6 567.8,885.0 572.3,834.6 573.3,824.6 573.5,824.1 578.3,824.1 579.3,834.2 583.3,882.3 584.5,893.2 585.8,899.7 586.3,898.3 587.0,894.6 588.5,883.3 594.0,824.4 594.3,824.1 599.5,824.1 600.8,835.4 605.5,884.3 607.0,895.4 607.8,899.3 608.5,902.1 609.0,900.2 609.5,897.0 610.8,885.3 612.3,865.7 615.0,824.5 615.3,824.1 623.0,824.1 628.0,876.2 629.8,889.4 630.5,893.3 631.3,896.1 631.8,894.0 632.3,890.2 633.5,876.2 636.8,824.1 643.8,824.1 647.0,876.9 648.3,890.7 649.0,895.7 649.3,896.0 650.0,893.4 651.0,888.6 652.8,876.6 654.3,863.4 658.3,824.1 667.3,824.1 670.5,881.3 671.5,894.7 672.3,901.9 672.5,902.9 673.8,902.8 674.8,897.7 676.0,889.2 677.8,873.8 681.5,835.3 682.8,824.1 689.3,824.1 689.5,824.6 693.5,881.7 694.8,893.7 695.5,898.1 695.8,898.3 697.0,891.2 698.3,879.8 702.8,824.1 708.3,824.1 713.0,881.7 714.3,892.6 715.0,897.0 715.5,898.5 716.8,891.5 718.0,880.2 722.5,824.4 722.8,824.1 729.0,824.1 735.5,885.4 737.3,897.7 738.3,902.7 738.5,902.9 739.5,902.9 739.8,902.2 740.8,892.2 742.3,869.8 744.8,824.1 753.5,824.1 756.8,860.4 758.5,877.8 760.3,891.1 761.3,896.2 761.8,898.1 762.0,898.4 763.0,892.0 764.3,878.7 767.8,824.2 775.3,824.1 775.5,824.6 778.5,877.5 779.8,892.8 780.8,899.9 781.5,897.2 782.5,892.2 784.3,879.4 789.8,824.1 798.0,824.1 802.0,881.7 803.3,894.6 804.5,902.2 805.3,899.4 806.0,895.4 807.5,884.0 813.3,824.1 819.3,824.1 824.5,882.2 826.0,894.1 827.3,899.9 828.5,893.1 829.8,881.9 834.3,825.4 834.5,824.1 839.8,824.1 840.5,831.3 844.5,882.6 845.8,894.0 847.0,901.0 847.8,896.4 848.8,885.7 852.3,827.3 852.5,824.1 852.8,824.1" stroke="#2ca02c"/>
<path d="M525.8,616.0 526.8,674.0 529.3,874.3 530.0,911.7 530.5,923.9 530.8,925.9 531.0,924.9 531.5,914.7 532.3,879.8 535.5,631.8 536.0,610.1 536.5,598.8 536.8,597.4 537.0,598.8 537.3,603.1 537.8,619.7 538.5,662.6 541.3,879.8 542.0,914.7 542.5,924.9 542.8,925.9 543.0,923.9 543.5,911.7 544.3,874.3 546.8,674.0 547.5,627.2 548.3,601.2 548.5,598.0 548.8,597.6 549.0,600.0 549.5,613.3 550.3,651.9 553.3,885.1 554.0,917.3 554.5,925.6 554.8,925.5 555.0,922.5 555.5,908.3 556.3,868.5 559.3,635.6 560.0,604.8 560.5,597.5 560.8,598.1 561.5,616.8 562.3,657.8 565.3,890.1 566.0,919.6 566.5,925.9 566.8,924.7 567.0,920.8 567.8,892.8 571.0,645.0 571.8,609.4 572.3,598.6 572.5,597.4 572.8,599.1 573.3,610.8 574.0,647.4 576.5,847.5 577.3,894.8 578.0,921.6 578.3,925.1 578.5,925.8 578.8,923.6 579.3,911.0 580.0,873.0 583.0,639.6 583.8,606.7 584.3,597.8 584.5,597.7 584.8,600.4 585.3,614.0 586.0,653.2 589.0,886.3 589.8,917.9 590.3,925.7 590.5,925.4 591.0,916.2 591.8,882.8 595.0,634.5 595.8,604.3 596.3,597.5 596.5,598.3 597.3,617.6 598.0,659.1 601.0,891.2 601.8,920.1 602.0,924.4 602.3,925.9 602.5,924.5 603.0,913.4 603.8,877.4 606.3,677.7 607.0,629.7 607.8,602.2 608.0,598.4 608.3,597.4 608.5,599.3 609.0,611.5 609.8,648.7 612.8,882.2 613.5,915.9 614.0,925.3 614.3,925.7 614.5,923.3 615.0,910.2 615.8,871.7 618.8,638.5 619.5,606.1 620.0,597.7 620.3,597.8 620.5,600.7 621.0,614.8 621.8,654.5 624.8,887.4 625.5,918.4 626.0,925.8 626.3,925.2 626.5,921.8 627.3,895.3 628.0,848.2 630.5,648.1 631.3,611.1 631.8,599.2 632.0,597.4 632.3,598.5 632.5,602.4 633.3,630.3 636.5,878.0 637.3,913.7 637.8,924.6 638.0,925.9 638.3,924.3 638.8,912.7 639.5,876.2 642.0,676.2 642.8,628.7 643.5,601.8 643.8,598.2 644.0,597.5 644.3,599.6 644.8,612.2 645.5,650.0 648.5,883.4 649.3,916.5 649.8,925.4 650.0,925.6 650.3,923.0 650.8,909.5 651.5,870.5 654.5,637.3 655.3,605.6 655.8,597.6 656.0,597.9 656.8,615.6 657.5,655.8 660.5,888.5 661.3,918.9 661.8,925.8 662.0,925.0 662.3,921.4 663.0,894.3 663.8,846.8 666.3,646.8 667.0,610.4 667.5,598.9 667.8,597.4 668.0,598.7 668.5,609.8 669.3,645.6 672.5,893.3 673.3,921.0 673.5,924.8 673.8,925.9 674.0,924.0 674.5,912.0 675.3,874.9 678.3,641.4 679.0,607.6 679.5,598.1 679.8,597.5 680.0,599.9 680.5,612.9 681.3,651.2 684.3,884.5 685.0,917.1 685.5,925.5 685.8,925.5 686.0,922.7 686.5,908.7 687.3,869.2 690.3,636.2 691.0,605.0 691.5,597.5 691.8,598.1 692.3,607.6 693.0,641.4 696.0,874.9 696.8,912.0 697.3,924.0 697.5,925.9 697.8,924.8 698.0,921.0 698.8,893.3 702.0,645.6 702.8,609.8 703.3,598.7 703.5,597.4 703.8,598.9 704.3,610.4 705.0,646.8 707.5,846.8 708.3,894.3 709.0,921.4 709.3,925.0 709.5,925.8 709.8,923.8 710.3,911.3 711.0,873.7 714.0,640.2 714.8,607.0 715.3,597.9 715.5,597.6 716.0,605.6 716.8,637.3 719.8,870.5 720.5,909.5 721.0,923.0 721.3,925.6 721.5,925.4 722.0,916.5 722.8,883.4 725.8,650.0 726.5,612.2 727.0,599.6 727.3,597.5 727.5,598.2 727.8,601.8 728.5,628.7 729.3,676.2 731.8,876.2 732.5,912.7 733.0,924.3 733.3,925.9 733.5,924.6 734.0,913.7 734.8,878.0 738.0,630.3 738.8,602.4 739.0,598.5 739.3,597.4 739.5,599.2 740.0,611.1 740.8,648.1 743.3,848.2 744.0,895.3 744.8,921.8 745.0,925.2 745.3,925.8 745.5,923.5 746.0,910.6 746.8,872.4 749.8,639.0 750.5,606.4 751.0,597.8 751.3,597.7 751.5,600.5 752.0,614.4 752.8,653.8 755.8,886.8 756.5,918.1 757.0,925.7 757.3,925.3 757.8,915.9 758.5,882.2 761.5,648.7 762.3,611.5 762.8,599.3 763.0,597.4 763.3,598.4 763.5,602.2 764.3,629.7 765.0,677.7 767.5,877.4 768.3,913.4 768.8,924.5 769.0,925.9 769.3,924.4 769.8,913.0 770.5,876.8 773.0,676.9 773.8,629.2 774.5,602.0 774.8,598.3 775.0,597.5 775.3,599.5 775.8,611.8 776.5,649.3 779.5,882.8 780.3,916.2 780.8,925.4 781.0,925.7 781.3,923.2 781.8,909.8 782.5,871.1 785.5,637.9 786.3,605.8 786.8,597.7 787.0,597.8 787.8,615.2 788.5,655.1 791.5,887.9 792.3,918.7 792.8,925.8 793.0,925.1 793.3,921.6 794.0,894.8 794.8,847.5 797.3,647.4 798.0,610.8 798.5,599.1 798.8,597.4 799.0,598.6 799.5,609.4 800.3,645.0 803.5,892.8 804.3,920.8 804.5,924.7 804.8,925.9 805.0,924.2 805.5,912.4 806.3,875.6 808.8,675.4 809.5,628.2 810.3,601.6 810.5,598.1 810.8,597.5 811.0,599.7 811.5,612.5 812.3,650.6 815.3,884.0 816.0,916.8 816.5,925.5 816.8,925.6 817.0,922.9 817.5,909.1 818.3,869.8 821.3,636.8 822.0,605.3 822.5,597.6 822.8,598.0 823.3,607.3 824.0,640.8 827.0,874.3 827.8,911.7 828.3,923.9 828.5,925.9 828.8,924.9 829.0,921.2 829.8,893.8 830.5,846.0 833.0,646.2 833.8,610.1 834.3,598.8 834.5,597.4 834.8,598.8 835.3,610.1 836.0,646.2 838.5,846.0 839.3,893.8 840.0,921.2 840.3,924.9 840.5,925.9 840.8,923.9 841.3,911.7 842.0,874.3 845.0,640.8 845.8,607.3 846.3,598.0 846.5,597.6 846.8,600.0 847.3,613.3 848.0,651.9 850.3,833.8 851.3,898.3 852.0,922.9 852.3,925.6 852.5,925.5 852.8,922.5" stroke="#d62728"/>
<path d="M525.8,612.6 526.0,612.8 526.5,614.0 527.5,618.3 531.0,641.6 532.0,646.3 532.8,648.3 533.3,647.6 533.8,646.3 535.0,641.4 536.3,634.4 540.3,609.0 541.5,603.5 542.3,601.4 542.8,600.6 543.8,603.4 545.0,609.8 548.5,635.7 549.8,643.6 550.8,648.1 551.5,650.2 551.8,650.3 552.5,649.2 553.5,647.1 555.5,640.9 557.3,633.7 561.3,615.4 563.3,607.6 565.0,602.8 565.8,601.4 566.5,600.6 567.5,603.4 568.8,609.8 572.3,635.7 573.5,643.6 574.5,648.1 575.3,650.2 575.5,650.2 576.8,648.0 578.3,643.3 580.0,635.9 584.8,612.9 586.5,606.8 588.0,603.8 588.3,603.5 589.0,605.0 590.3,609.3 591.8,616.8 595.5,638.9 596.8,644.2 598.0,647.3 598.3,647.3 599.0,645.9 600.5,641.4 602.0,634.7 606.3,613.1 607.8,607.9 609.0,605.5 609.5,606.4 610.3,608.6 611.5,614.1 615.5,639.6 616.8,646.5 618.0,651.4 618.8,653.1 619.0,653.2 620.0,650.2 621.3,643.8 625.8,611.4 626.8,606.5 627.8,603.6 628.5,604.5 629.3,606.1 631.0,611.9 632.5,618.6 636.3,637.6 638.0,645.0 639.5,649.4 640.3,650.8 640.8,651.3 642.0,647.8 643.3,641.8 648.3,608.7 649.5,603.2 650.5,600.6 651.3,601.3 652.3,603.0 654.0,607.5 655.8,613.6 659.8,629.3 661.5,635.0 663.0,638.6 664.0,640.1 664.5,640.4 665.5,638.1 666.8,633.1 670.3,612.8 671.5,606.7 672.8,602.6 673.3,601.6 673.5,601.8 674.8,605.3 676.0,611.1 679.8,635.2 681.0,642.2 682.3,647.2 683.3,649.4 684.5,647.3 686.0,642.9 687.8,635.7 692.8,612.1 694.5,606.4 695.3,604.7 696.0,603.6 696.5,604.3 697.0,605.7 698.3,611.2 699.5,618.8 703.5,646.9 704.8,653.0 705.5,655.4 706.0,656.3 707.3,653.7 708.5,649.2 710.0,641.7 714.8,614.3 716.3,608.2 717.0,606.1 717.8,604.6 718.0,604.8 718.5,606.2 719.5,610.9 723.8,643.6 724.8,649.2 725.8,652.3 726.5,651.2 727.3,649.3 728.8,643.7 733.5,617.9 735.0,610.8 736.5,605.7 737.3,604.1 737.5,603.7 737.8,603.7 739.0,606.7 740.5,613.2 746.0,646.3 747.3,651.4 748.5,654.3 749.5,651.6 750.8,645.0 755.5,609.1 756.5,604.2 757.0,602.5 757.5,601.6 758.3,602.5 759.3,604.4 761.3,610.2 763.0,616.9 767.0,634.2 769.0,641.5 770.8,646.1 772.3,648.4 773.3,645.9 774.3,641.3 778.8,610.3 780.0,603.9 781.0,600.9 781.3,600.6 782.0,601.8 783.5,606.1 785.0,612.4 789.3,633.0 790.8,638.1 792.0,640.4 792.8,639.7 793.5,638.3 795.3,633.5 796.8,628.0 800.5,612.1 802.3,605.9 803.8,602.2 804.5,601.0 805.0,600.7 806.0,603.6 807.0,608.6 811.5,641.7 812.8,648.2 813.8,651.2 814.0,651.2 814.3,650.9 815.0,649.6 816.8,645.0 818.5,638.3 822.5,619.9 824.3,612.7 826.0,607.4 827.0,605.4 827.8,604.6 828.8,607.5 829.8,612.5 834.3,645.6 835.5,652.2 836.5,655.2 836.8,655.1 837.0,654.7 837.8,652.8 839.3,646.8 844.3,617.0 845.5,611.0 846.5,607.5 847.3,605.8 847.5,605.5 847.8,605.6 849.0,606.4 851.5,609.3 852.8,610.3" stroke="#9467bd"/>
<path d="M525.8,910.4 527.0,913.3 527.8,914.3 528.0,914.2 528.5,913.5 529.3,911.7 531.0,905.2 535.3,884.9 536.5,880.8 537.8,878.4 538.8,880.6 540.0,885.7 544.8,913.6 545.8,917.3 546.3,918.6 546.8,919.3 548.0,916.7 549.5,911.3 555.0,883.3 556.3,879.0 557.5,876.5 558.5,878.3 559.8,882.6 561.0,888.7 564.8,909.9 566.0,915.0 567.3,918.1 567.5,918.3 568.3,917.0 569.5,913.4 570.8,908.2 574.8,888.4 576.0,884.0 577.3,881.5 577.8,881.8 578.5,883.1 580.0,886.9 581.8,893.4 585.5,910.0 587.0,915.9 588.8,921.0 589.5,922.4 590.3,923.2 591.3,920.5 592.5,914.5 597.5,878.2 598.8,871.6 600.0,867.7 600.3,867.7 600.5,868.1 601.3,869.8 602.8,875.1 604.3,882.5 609.0,909.3 610.5,915.1 611.3,917.1 612.0,918.3 613.3,914.9 614.5,909.1 620.0,870.8 621.5,863.4 622.8,859.8 623.0,859.9 623.8,861.9 625.0,867.8 626.3,876.1 630.3,906.9 631.5,913.6 632.8,917.4 634.0,915.1 635.5,910.4 637.3,902.6 642.3,877.0 644.0,870.7 644.8,868.9 645.5,867.6 645.8,867.8 646.5,870.0 647.5,874.9 648.8,883.5 652.3,911.5 653.5,918.3 654.5,921.3 655.8,919.3 657.3,915.0 659.0,907.9 664.0,884.2 665.8,878.4 666.5,876.7 667.3,875.6 667.5,875.6 667.8,876.0 668.5,877.8 669.8,882.5 674.0,906.6 675.3,912.7 676.5,916.9 677.3,918.3 677.5,918.1 678.8,915.2 680.3,909.3 684.3,887.3 685.8,880.1 687.0,875.8 687.8,874.1 688.3,873.6 689.5,876.6 690.8,881.9 695.8,911.2 697.0,916.0 698.0,918.3 698.5,917.7 699.0,916.5 700.0,913.2 704.8,888.7 706.0,884.3 707.0,882.4 708.3,884.5 709.5,888.1 711.0,893.9 715.8,915.6 717.3,920.4 718.0,922.1 718.8,923.2 719.3,922.6 720.0,920.6 721.3,915.4 722.8,906.8 727.0,879.1 728.5,872.5 729.3,870.4 729.8,869.5 730.5,870.8 731.3,872.7 732.8,878.2 737.5,903.5 739.0,910.4 740.5,915.3 741.5,917.2 741.8,917.1 743.0,913.4 744.5,905.7 748.8,874.8 750.0,866.9 751.3,861.0 752.0,858.6 752.5,857.6 753.8,861.1 755.0,867.0 756.3,875.0 760.5,905.9 762.0,913.5 763.3,917.2 763.5,917.2 763.8,916.8 764.5,915.1 766.0,909.9 767.5,902.5 772.3,875.7 773.8,869.8 774.5,867.8 775.3,866.5 776.3,869.1 777.5,874.7 782.5,909.0 783.8,915.3 785.0,919.1 785.3,919.2 786.0,918.0 787.5,913.9 789.0,907.9 793.3,888.3 794.8,883.6 796.0,881.4 796.5,882.0 797.3,883.5 798.8,888.1 803.0,907.6 804.5,913.7 805.8,917.4 806.5,918.8 807.0,919.3 807.8,918.1 808.5,916.5 810.0,911.6 814.8,890.0 816.3,884.1 817.5,880.5 818.8,878.4 819.3,879.1 820.0,881.0 821.3,885.8 825.3,908.1 826.5,914.2 827.8,918.5 828.5,920.1 828.8,920.2 829.8,917.5 830.8,912.9 835.3,882.4 836.5,876.3 837.5,873.6 838.0,874.1 838.8,875.8 840.3,881.2 845.0,906.8 846.8,914.3 848.0,917.6 849.8,919.6 851.8,923.2 852.8,924.6" stroke="#8c564b"/>
<path d="M525.8,781.6 527.8,768.9 528.5,765.5 528.8,764.8 529.0,765.2 529.5,767.9 530.5,776.2 531.5,787.7 535.8,847.5 536.8,857.0 537.8,862.9 538.5,861.1 539.3,858.4 540.8,850.9 542.5,839.3 548.0,797.3 549.8,787.6 550.8,783.7 551.5,781.7 551.8,781.9 552.5,785.5 553.5,793.1 558.3,847.6 559.5,858.0 560.5,862.9 561.0,861.5 561.8,858.3 563.0,850.4 564.3,840.1 568.5,800.2 570.0,790.0 571.3,784.8 571.5,784.7 572.3,787.6 573.5,795.4 574.8,806.2 578.8,846.3 580.0,855.4 581.3,860.8 581.8,859.7 582.5,856.5 584.0,847.1 588.5,806.3 589.8,796.3 591.0,788.7 591.8,785.7 592.3,784.5 593.0,786.9 593.8,790.2 595.3,799.4 600.0,840.2 601.5,851.4 602.8,858.4 604.0,862.8 604.5,861.2 605.0,858.5 606.3,848.8 611.5,787.2 612.8,776.6 613.5,772.3 614.0,770.6 614.8,773.0 615.5,776.2 617.3,787.1 622.3,831.2 624.0,844.8 625.8,854.5 626.8,857.8 627.0,857.3 628.0,851.0 629.3,838.4 633.8,778.1 634.8,769.0 635.8,763.7 636.8,769.4 638.0,781.4 642.8,844.5 643.8,853.3 644.5,857.5 644.8,857.7 645.5,855.6 646.5,851.5 648.5,839.9 650.3,826.6 654.3,792.8 656.3,778.5 658.0,769.3 658.8,766.5 659.5,764.7 660.5,770.8 661.8,783.7 665.3,835.4 666.5,851.5 667.5,860.9 668.3,865.4 668.5,865.6 669.3,863.4 670.3,859.2 672.0,848.7 677.5,803.1 679.3,790.4 680.8,782.4 681.5,779.5 682.3,777.5 683.3,782.5 684.3,790.5 688.8,843.3 690.0,854.2 691.0,859.5 691.3,859.6 692.0,856.6 693.3,848.4 694.5,837.1 698.5,795.5 699.8,786.1 701.0,780.5 701.5,782.0 702.3,785.8 703.5,794.9 708.8,847.9 710.0,856.3 710.8,859.4 711.0,859.8 712.0,855.5 713.3,846.7 718.3,795.8 719.5,786.4 720.8,780.6 721.0,780.8 721.5,782.2 722.5,786.0 724.3,795.8 726.0,808.7 730.0,841.6 731.8,853.7 733.5,862.4 734.5,865.5 734.8,865.6 735.8,859.2 736.8,849.1 741.3,783.6 742.5,770.3 743.5,763.9 743.8,764.0 744.8,767.5 746.5,777.3 748.3,790.9 752.3,828.1 754.0,842.6 755.8,853.6 756.8,857.9 757.3,859.5 757.5,859.7 758.5,854.4 759.8,843.4 764.8,779.2 766.0,767.2 767.3,759.9 767.5,760.4 768.3,765.0 769.3,774.6 774.0,842.3 775.3,855.1 776.3,860.9 777.8,855.7 779.3,847.3 781.0,834.3 786.5,787.1 788.3,776.3 789.3,772.0 790.0,769.8 790.3,770.1 791.0,773.8 792.3,783.5 793.5,796.9 797.5,845.8 798.8,856.6 800.0,862.9 801.3,858.4 802.8,849.5 804.3,837.5 808.8,797.4 810.3,787.6 811.0,784.2 811.8,781.7 812.0,781.8 812.8,784.5 814.3,793.4 815.8,806.0 820.0,846.3 821.5,856.1 822.8,861.0 824.0,855.3 825.3,846.0 829.3,803.8 830.5,792.3 831.8,784.0 832.5,780.8 832.8,780.8 834.0,786.8 835.3,796.5 840.3,848.7 841.5,857.6 842.5,861.9 843.5,856.2 844.5,846.3 848.0,797.1 849.5,781.1 850.5,775.5 851.3,777.3 852.8,783.2" stroke="#e377c2"/>
</g>
<rect x="525.8" y="580.8" width="327.1" height="361.6" fill="none" stroke="#000" stroke-width="3"/>
<line x1="525.8" y1="943.5" x2="525.8" y2="954.2" stroke="#000" stroke-width="3" />
<text x="525.8" y="989.3" font-family='"Liberation Serif", "DejaVu Serif", serif' font-size="33.3" text-anchor="middle" font-weight="normal" font-style="normal" fill="#000"  stroke="#000" stroke-width="0.45">400</text>
<line x1="689.3499999999999" y1="943.5" x2="689.3499999999999" y2="954.2" stroke="#000" stroke-width="3" />
<text x="689.3499999999999" y="989.3" font-family='"Liberation Serif", "DejaVu Serif", serif' font-size="33.3" text-anchor="middle" font-weight="normal" font-style="normal" fill="#000"  stroke="#000" stroke-width="0.45">500</text>
<line x1="852.9" y1="943.5" x2="852.9" y2="954.2" stroke="#000" stroke-width="3" />
<text x="852.9" y="989.3" font-family='"Liberation Serif", "DejaVu Serif", serif' font-size="33.3" text-anchor="middle" font-weight="normal" font-style="normal" fill="#000"  stroke="#000" stroke-width="0.45">600</text>
<line x1="514.1999999999999" y1="597.4" x2="524.8" y2="597.4" stroke="#000" stroke-width="3" />
<text font-family='"Liberation Serif", "DejaVu Serif", serif' font-size="33.3" stroke="#000" stroke-width="0.45" x="487.62" y="609.30" textLength="15.77" lengthAdjust="spacingAndGlyphs">1</text>
<line x1="514.1999999999999" y1="679.525" x2="524.8" y2="679.525" stroke="#000" stroke-width="3" />
<text font-family='"Liberation Serif", "DejaVu Serif", serif' font-size="33.3" stroke="#000" stroke-width="0.45" x="460.17" y="691.42">0.5</text>
<line x1="514.1999999999999" y1="761.65" x2="524.8" y2="761.65" stroke="#000" stroke-width="3" />
<text font-family='"Liberation Serif", "DejaVu Serif", serif' font-size="33.3" stroke="#000" stroke-width="0.45" x="485.15" y="773.55">0</text>
<line x1="514.1999999999999" y1="843.775" x2="524.8" y2="843.775" stroke="#000" stroke-width="3" />
<text font-family='"Liberation Serif", "DejaVu Serif", serif' font-size="33.3" stroke="#000" stroke-width="0.45"><tspan x="434.77" y="859.27" textLength="24.5" lengthAdjust="spacingAndGlyphs">−</tspan><tspan x="460.17" y="855.67">0.5</tspan></text>
<line x1="514.1999999999999" y1="925.9" x2="524.8" y2="925.9" stroke="#000" stroke-width="3" />
<text font-family='"Liberation Serif", "DejaVu Serif", serif' font-size="33.3" stroke="#000" stroke-width="0.45"><tspan x="462.75" y="941.40" textLength="24.5" lengthAdjust="spacingAndGlyphs">−</tspan><tspan x="487.62" y="937.80" textLength="15.77" lengthAdjust="spacingAndGlyphs">1</tspan></text>
<text fill="#000"><tspan x="641.10" y="1024.00" font-family='"Liberation Serif", "DejaVu Serif", serif' font-size="37.88" font-style="italic" font-weight="normal" textLength="11.11" lengthAdjust="spacingAndGlyphs">t</tspan><tspan x="655.47" y="1024.00" font-family='"Liberation Serif", "DejaVu Serif", serif' font-size="34.66" font-style="italic" font-weight="normal" textLength="26.01" lengthAdjust="spacingAndGlyphs">B</tspan><tspan x="679.49" y="1028.70" font-family='"Liberation Serif", "DejaVu Serif", serif' font-size="21.82" font-style="normal" font-weight="normal" textLength="11.83" lengthAdjust="spacingAndGlyphs" stroke="#000" stroke-width="0.3">1</tspan><tspan x="694.34" y="1028.66" font-family='"DejaVu Sans Light", "DejaVu Sans", "Liberation Sans", sans-serif' font-size="41.45" font-style="normal" font-weight="normal" textLength="14.91" lengthAdjust="spacingAndGlyphs" stroke="#000" stroke-width="0.3">/</tspan><tspan x="711.50" y="1024.00" font-family='"Liberation Serif", "DejaVu Serif", serif' font-size="34.66" font-style="italic" font-weight="normal" textLength="24.64" lengthAdjust="spacingAndGlyphs">R</tspan></text>
<text x="434.3" y="604.4" font-family='"DejaVu Sans", "Liberation Sans", sans-serif' font-size="30.3" text-anchor="start" font-weight="bold" font-style="normal" fill="#000" >c</text>
<rect x="949.3" y="580.8" width="327.1" height="361.6" fill="#fff"/>
<clipPath id="clipd"><rect x="949.3" y="580.8" width="327.1" height="361.6"/></clipPath>
<g clip-path="url(#clipd)" fill="none" stroke-width="5.6" stroke-linejoin="round" stroke-linecap="round">
<path d="M949.3,674.0 950.3,679.3 951.5,691.4 953.0,712.3 957.0,776.8 958.5,793.7 959.8,801.5 960.3,800.1 960.8,797.7 962.0,788.8 963.3,776.3 967.0,733.4 968.3,723.0 969.5,716.8 969.8,716.6 970.3,719.4 971.3,729.0 972.5,747.1 975.5,797.9 976.5,810.0 977.5,817.0 977.8,817.0 978.5,814.0 979.8,805.7 981.0,793.9 985.0,750.7 986.3,741.3 987.0,737.6 987.5,736.1 988.0,738.3 988.8,743.3 990.0,755.9 994.0,814.0 995.3,829.7 996.5,840.7 997.3,844.7 997.5,844.7 998.3,840.8 999.0,835.1 1000.5,818.6 1005.0,749.0 1006.5,728.4 1008.0,713.5 1009.3,706.4 1010.0,708.6 1010.8,711.9 1012.3,721.4 1014.0,736.5 1017.8,775.3 1019.5,791.6 1021.3,804.0 1022.3,808.8 1023.0,811.2 1023.3,811.1 1023.5,810.2 1024.3,806.4 1025.8,794.4 1027.3,777.7 1032.0,717.1 1033.5,703.9 1034.3,699.4 1035.0,696.5 1035.8,698.5 1036.8,702.3 1038.5,712.1 1040.5,727.4 1044.8,765.9 1046.8,782.2 1048.8,794.4 1049.8,798.6 1050.8,801.5 1051.0,801.2 1051.5,799.6 1052.3,796.4 1053.8,786.7 1055.3,773.8 1058.8,739.6 1060.3,727.6 1061.3,721.6 1062.3,717.5 1062.8,716.4 1063.3,717.6 1064.0,720.1 1065.0,724.7 1067.0,737.5 1073.0,790.4 1075.0,805.7 1076.8,815.6 1077.8,819.4 1078.5,821.3 1079.3,819.2 1080.3,814.8 1082.0,803.2 1084.0,785.1 1088.3,739.3 1090.3,720.0 1092.3,705.3 1093.3,700.2 1094.3,696.8 1094.5,696.9 1094.8,697.8 1095.5,701.2 1097.0,712.2 1098.5,727.5 1103.3,782.8 1104.8,794.9 1105.5,799.0 1106.3,801.5 1107.3,793.1 1108.5,774.1 1112.0,696.0 1113.3,671.8 1114.3,658.1 1115.0,651.8 1115.3,651.5 1116.5,661.3 1118.0,681.8 1122.3,764.7 1123.5,786.1 1124.8,802.1 1126.0,811.4 1126.8,805.8 1127.8,792.0 1131.8,704.6 1132.8,687.9 1133.8,677.8 1134.0,676.9 1135.0,681.8 1136.5,694.5 1138.0,712.4 1142.8,778.4 1144.3,793.0 1145.0,798.0 1145.8,801.4 1146.3,799.4 1146.8,795.7 1148.0,781.7 1149.3,762.1 1153.3,690.5 1154.5,675.2 1155.3,669.2 1155.8,667.1 1156.3,672.9 1157.0,687.7 1160.0,781.5 1160.8,799.4 1161.5,810.3 1161.8,811.2 1162.5,807.8 1163.8,798.3 1165.0,784.6 1169.0,733.9 1170.3,722.8 1171.5,716.4 1172.0,718.7 1172.8,724.8 1174.0,740.4 1178.0,813.1 1179.3,832.9 1180.5,847.1 1181.0,850.8 1181.5,852.9 1182.8,846.7 1184.3,833.9 1185.8,816.4 1190.0,760.6 1191.5,746.0 1192.3,740.8 1193.0,737.1 1193.3,736.3 1193.5,736.5 1194.3,738.5 1195.3,742.5 1196.3,747.9 1198.0,760.1 1202.0,793.6 1203.8,806.6 1204.8,812.6 1205.8,817.3 1206.8,820.5 1207.0,821.1 1207.3,821.1 1208.5,813.9 1209.8,801.4 1214.8,733.1 1216.0,721.7 1217.0,716.5 1217.5,719.4 1218.0,724.7 1219.0,740.6 1222.5,821.9 1223.5,841.0 1224.3,851.1 1225.0,856.9 1225.8,852.6 1226.5,844.8 1228.8,815.3 1229.5,809.0 1229.8,807.8 1230.0,807.6 1230.5,812.7 1231.3,826.0 1233.8,888.0 1234.5,899.5 1234.8,901.7 1235.0,902.1 1235.8,898.7 1236.5,893.9 1238.3,877.4 1240.0,855.2 1244.5,791.1 1246.0,774.0 1247.3,763.4 1248.5,756.7 1248.8,755.9 1249.3,757.7 1250.5,766.6 1253.3,794.1 1254.0,799.1 1254.5,801.2 1254.8,801.2 1255.5,795.1 1256.3,784.8 1259.3,729.4 1260.0,720.4 1260.5,716.8 1260.8,716.9 1261.5,720.7 1262.5,728.4 1264.3,748.0 1270.0,838.0 1272.3,865.9 1273.5,876.0 1274.5,880.7 1275.3,877.4 1276.3,869.8" stroke="#1f77b4"/>
<path d="M949.3,670.0 950.0,668.7 950.8,666.6 952.5,659.5 954.3,649.6 958.3,622.9 960.0,612.4 962.0,603.5 963.0,600.6 963.8,599.2 964.8,603.2 966.0,612.2 969.5,649.5 970.8,661.1 971.8,667.7 972.5,670.7 972.8,670.8 973.8,666.6 975.0,657.2 978.5,619.8 979.8,608.4 981.0,601.0 981.5,599.3 981.8,599.8 982.5,604.0 983.5,613.2 987.3,661.1 988.3,669.5 989.0,672.7 989.8,669.1 990.8,660.6 994.5,612.6 995.5,603.6 996.3,599.6 996.5,599.4 996.8,600.4 997.8,606.8 1001.3,645.2 1002.0,651.0 1002.8,654.5 1003.0,654.2 1003.5,651.9 1004.3,646.5 1007.5,610.5 1008.5,602.4 1009.3,599.2 1010.0,601.2 1011.0,606.4 1014.8,634.2 1015.5,637.7 1016.0,639.2 1016.3,639.5 1017.0,637.2 1018.0,631.9 1021.8,604.1 1022.8,600.0 1023.0,599.4 1023.3,599.5 1024.0,602.9 1024.8,608.5 1028.0,641.9 1028.8,647.2 1029.5,650.3 1030.3,647.7 1031.0,642.6 1034.3,609.3 1035.3,602.0 1036.0,599.2 1037.0,601.7 1038.3,607.4 1042.5,634.3 1043.5,638.5 1044.3,640.3 1044.5,640.4 1045.5,637.7 1046.5,633.2 1051.0,604.9 1052.0,601.0 1052.8,599.2 1053.5,602.0 1054.5,608.9 1055.8,621.7 1059.0,660.4 1060.3,670.7 1060.8,673.3 1061.3,674.8 1062.0,671.6 1063.0,664.4 1067.5,612.8 1068.5,604.5 1069.5,599.5 1069.8,599.3 1070.3,600.4 1071.5,604.7 1072.8,611.2 1076.3,632.1 1077.5,637.2 1078.5,639.5 1079.5,637.4 1080.8,632.4 1085.5,604.9 1086.5,601.2 1087.0,599.9 1087.5,599.3 1088.3,601.1 1089.3,605.5 1093.3,631.8 1094.3,636.7 1095.3,639.5 1095.5,639.4 1096.0,638.2 1097.0,634.2 1101.3,606.5 1102.3,601.8 1103.3,599.2 1103.8,600.0 1104.5,602.0 1105.8,607.2 1109.5,629.3 1110.8,635.6 1111.8,639.1 1112.5,640.8 1112.8,640.9 1113.8,638.6 1115.0,633.7 1120.0,605.3 1121.0,601.5 1122.0,599.2 1122.5,600.6 1123.0,603.0 1124.0,610.0 1128.8,661.6 1130.0,671.0 1131.0,675.0 1132.0,670.7 1133.0,663.3 1137.5,614.0 1138.8,604.1 1139.8,599.5 1140.0,599.4 1141.0,602.4 1142.5,610.2 1144.0,621.2 1148.8,660.9 1150.3,669.6 1151.0,672.5 1151.8,674.5 1153.0,670.6 1154.5,662.5 1156.0,651.4 1160.5,613.6 1162.0,604.6 1162.8,601.5 1163.5,599.4 1163.8,599.3 1164.5,600.8 1165.8,604.8 1167.3,611.8 1171.3,633.7 1172.8,639.4 1174.0,642.1 1175.0,640.2 1176.3,636.0 1177.5,630.2 1181.8,607.0 1183.0,602.2 1184.3,599.4 1184.5,599.4 1185.0,601.5 1186.0,608.4 1187.3,621.3 1190.3,657.3 1191.3,665.8 1192.3,670.8 1192.5,670.4 1193.0,668.2 1194.0,661.0 1198.3,612.0 1199.3,603.7 1200.3,599.2 1200.8,602.9 1201.5,613.0 1204.0,662.3 1204.8,671.9 1205.3,674.6 1205.8,670.6 1206.5,660.2 1209.0,610.9 1209.8,601.7 1210.0,599.8 1210.3,599.5 1211.0,602.6 1211.8,607.0 1213.5,622.3 1218.5,684.8 1220.3,703.7 1221.8,715.2 1223.0,720.6 1224.3,715.7 1225.8,705.1 1227.3,690.5 1231.8,641.1 1233.3,629.4 1234.0,625.4 1234.8,622.6 1235.0,622.9 1235.5,626.3 1236.3,634.8 1239.3,685.9 1240.5,699.3 1240.8,700.6 1241.0,700.4 1241.5,698.4 1243.8,681.2 1244.3,678.4 1244.8,676.8 1245.5,690.6 1246.3,715.8 1249.5,868.2 1250.3,889.4 1250.8,896.1 1251.3,887.9 1251.8,874.4 1254.3,770.5 1255.0,747.1 1255.5,737.8 1255.8,736.5 1256.5,742.7 1259.5,791.9 1260.3,799.7 1260.5,801.2 1260.8,801.1 1261.5,796.8 1262.5,787.3 1266.3,734.9 1267.8,720.1 1268.5,716.3 1269.5,715.1 1270.8,712.3 1274.5,699.8 1276.3,695.3" stroke="#ff7f0e"/>
<path d="M949.3,883.5 950.0,881.3 951.0,875.5 954.8,841.7 955.8,834.9 956.8,831.0 957.0,831.7 957.5,834.8 958.3,842.1 962.0,899.5 963.0,910.1 963.8,914.4 964.5,909.7 965.3,901.4 968.5,851.7 969.3,845.0 969.8,842.9 970.5,844.5 971.5,847.8 973.3,856.5 975.0,867.8 978.8,895.0 980.5,905.7 982.0,912.4 982.8,914.7 983.5,916.3 984.3,915.1 985.0,913.2 986.5,907.7 988.3,898.8 993.8,866.4 995.5,859.1 996.5,856.3 997.3,854.8 997.5,854.9 998.3,857.1 999.5,863.3 1000.8,872.1 1004.8,905.0 1006.0,912.2 1007.3,916.3 1008.0,914.5 1008.8,911.1 1012.0,890.3 1012.8,887.3 1013.3,886.4 1014.0,888.4 1014.8,891.8 1018.3,915.8 1019.3,920.8 1020.0,923.1 1020.3,923.2 1020.5,922.8 1021.5,920.0 1025.3,901.4 1026.3,897.8 1027.0,896.3 1027.3,896.4 1028.0,897.5 1029.0,899.9 1033.8,917.7 1035.0,920.9 1036.0,922.3 1037.0,919.1 1038.0,913.7 1042.5,877.5 1043.8,870.2 1044.8,866.8 1045.0,866.9 1045.5,869.2 1046.3,875.0 1049.3,910.0 1050.0,916.4 1050.8,920.1 1051.0,919.8 1051.5,917.9 1052.5,911.5 1056.8,868.0 1057.8,860.7 1058.8,856.6 1060.0,859.9 1061.5,866.8 1063.0,876.2 1067.5,908.2 1069.0,915.8 1069.8,918.4 1070.5,920.2 1070.8,920.1 1071.5,918.1 1072.8,912.7 1074.0,904.9 1078.0,876.2 1079.3,870.0 1080.5,866.5 1081.5,867.7 1082.8,870.0 1085.0,876.2 1087.3,884.5 1092.3,905.1 1094.5,912.8 1095.8,916.1 1096.8,918.2 1098.0,920.0 1098.3,920.3 1098.5,920.0 1099.8,916.1 1101.0,909.5 1104.8,882.4 1106.0,874.6 1107.3,869.0 1107.8,867.5 1108.3,866.6 1109.0,869.1 1110.0,875.0 1114.0,911.3 1115.0,918.0 1116.0,922.0 1116.3,921.8 1116.8,918.5 1117.5,910.4 1120.5,861.3 1121.3,852.2 1122.0,847.0 1122.3,847.0 1122.5,847.5 1123.5,850.4 1125.0,856.9 1127.0,869.1 1132.3,906.1 1134.0,914.9 1135.0,918.3 1135.8,920.1 1136.0,919.9 1136.5,916.1 1137.3,906.3 1140.3,845.6 1141.0,834.3 1141.8,827.5 1142.0,827.1 1143.5,829.5 1144.5,832.0 1145.8,835.9 1148.0,844.8 1153.0,868.5 1155.3,877.9 1156.5,882.1 1157.8,885.5 1159.0,887.8 1159.5,888.5 1159.8,888.5 1160.8,885.9 1162.0,880.3 1166.8,848.0 1168.0,841.5 1169.0,838.0 1169.5,836.9 1169.8,836.9 1171.3,838.7 1172.8,841.6 1177.0,851.8 1178.3,853.9 1179.0,854.7 1179.5,855.0 1180.5,852.6 1181.8,847.5 1186.8,816.3 1188.0,810.6 1189.3,807.3 1189.5,807.4 1190.3,809.6 1191.5,815.7 1192.8,824.3 1196.8,856.1 1198.0,863.0 1198.8,865.7 1199.3,866.9 1200.0,862.7 1200.8,855.4 1204.0,811.2 1204.8,805.2 1205.3,803.3 1206.3,805.6 1207.5,809.8 1209.8,821.0 1212.3,837.7 1219.3,891.3 1221.5,904.5 1222.8,910.1 1223.8,913.5 1225.0,916.3 1226.0,910.9 1227.3,898.2 1230.3,859.9 1231.3,851.6 1231.8,849.2 1232.0,848.9 1232.8,850.5 1233.5,852.9 1235.3,861.1 1240.3,894.9 1242.0,905.1 1243.5,911.4 1244.8,914.4 1245.5,908.9 1246.3,898.9 1249.5,838.2 1250.3,829.8 1250.8,827.1 1251.5,833.0 1252.3,843.1 1255.3,898.7 1256.0,908.0 1256.5,911.7 1256.8,912.2 1258.0,907.3 1259.5,897.4 1265.3,841.3 1266.8,830.3 1268.0,824.4 1268.5,823.0 1269.0,824.3 1269.5,826.6 1270.5,833.5 1272.8,852.7 1273.5,857.5 1274.3,860.5 1274.5,860.9 1275.0,859.0 1276.3,850.0" stroke="#2ca02c"/>
<path d="M949.3,794.9 950.5,682.7 951.3,651.5 951.8,645.1 952.0,646.3 952.5,657.7 953.3,695.4 954.8,819.8 955.5,846.9 955.8,850.3 956.0,850.8 956.3,848.4 956.8,834.9 957.5,794.5 958.3,721.1 959.0,669.4 959.8,642.5 960.0,639.1 960.3,638.5 960.8,645.9 961.5,677.3 962.5,764.0 963.3,811.8 964.0,835.6 964.3,838.1 964.5,837.8 965.0,828.8 965.8,795.7 966.8,707.9 967.5,659.0 968.3,633.5 968.5,630.3 968.8,629.8 969.3,637.1 970.0,667.8 971.0,752.6 971.8,799.7 972.5,827.0 972.8,830.9 973.0,832.0 973.5,825.7 974.3,794.9 976.0,649.4 976.8,619.5 977.0,615.3 977.3,614.1 977.8,621.4 978.5,655.9 979.8,780.8 980.5,834.2 981.3,861.1 981.5,863.7 981.8,863.0 982.3,851.7 983.0,810.4 984.0,700.3 984.8,642.4 985.5,612.5 985.8,609.2 986.0,609.3 986.5,620.3 987.3,662.4 989.0,848.3 989.8,887.5 990.3,896.1 990.5,894.9 990.8,890.0 991.5,853.3 992.3,781.9 992.8,708.2 993.5,642.8 994.3,608.7 994.5,604.6 994.8,604.2 995.3,614.7 996.0,657.4 997.3,806.1 998.0,868.8 998.8,900.1 999.0,903.2 999.3,902.6 999.8,890.2 1000.5,844.8 1002.3,648.8 1003.0,608.1 1003.5,599.1 1003.8,600.2 1004.0,605.0 1004.8,641.6 1005.5,710.2 1006.5,838.0 1007.3,888.4 1007.8,904.4 1008.0,906.8 1008.3,905.5 1008.5,900.5 1009.3,863.7 1010.0,795.2 1011.0,667.8 1011.8,617.5 1012.3,601.5 1012.5,599.0 1012.8,600.3 1013.0,605.3 1013.8,642.0 1014.5,710.2 1015.5,838.8 1016.3,890.4 1016.8,907.2 1017.0,910.2 1017.3,909.3 1017.5,904.8 1018.3,869.5 1019.0,802.7 1019.5,727.2 1020.3,652.4 1021.0,610.0 1021.5,599.7 1021.8,600.1 1022.3,612.1 1023.0,657.0 1024.3,810.0 1025.0,875.3 1025.8,909.2 1026.0,913.2 1026.3,913.4 1026.8,902.7 1027.5,859.6 1028.3,783.4 1028.8,707.5 1029.5,640.6 1030.3,605.2 1030.5,600.8 1030.8,600.1 1031.3,610.0 1032.0,652.2 1032.8,727.3 1033.3,804.5 1034.0,873.4 1034.8,910.2 1035.0,915.2 1035.3,916.3 1035.5,913.6 1036.0,897.0 1036.8,845.3 1037.8,714.6 1038.5,644.6 1039.3,607.0 1039.5,601.8 1039.8,600.4 1040.0,602.9 1040.5,619.1 1041.3,670.6 1042.3,801.5 1043.0,871.9 1043.8,909.8 1044.0,915.0 1044.3,916.3 1044.5,913.8 1045.0,897.3 1045.8,845.3 1046.8,713.7 1047.5,643.9 1048.3,606.7 1048.5,601.9 1048.8,600.9 1049.3,610.7 1050.0,653.5 1050.8,730.4 1051.3,808.1 1052.0,876.4 1052.8,911.7 1053.0,915.8 1053.3,916.0 1053.8,904.5 1054.5,859.0 1056.3,654.5 1057.0,611.1 1057.5,601.4 1057.8,602.5 1058.0,607.6 1058.8,646.0 1059.5,718.5 1060.5,850.4 1061.3,900.7 1061.8,915.1 1062.0,916.3 1062.5,906.5 1063.3,862.7 1065.0,657.3 1065.8,613.1 1066.3,603.3 1066.5,604.5 1066.8,609.7 1067.5,649.1 1069.3,854.4 1070.0,902.9 1070.5,915.7 1070.8,916.0 1071.0,912.1 1071.8,876.6 1072.5,806.5 1073.0,727.7 1073.8,652.9 1074.5,613.5 1074.8,608.4 1075.0,607.4 1075.5,617.7 1076.3,662.9 1078.0,867.9 1078.8,909.0 1079.0,914.8 1079.3,916.4 1079.8,907.1 1080.5,863.2 1082.3,659.6 1083.0,618.5 1083.3,612.8 1083.5,611.3 1084.0,620.7 1084.8,665.0 1086.5,868.8 1087.3,909.5 1087.5,915.0 1087.8,916.3 1088.3,906.5 1089.0,861.6 1090.8,659.5 1091.5,620.8 1091.8,616.0 1092.0,615.4 1092.5,626.7 1093.0,654.2 1093.8,724.7 1094.8,855.2 1095.5,903.6 1096.0,915.9 1096.3,915.8 1096.5,911.5 1097.3,874.5 1099.0,675.2 1099.8,630.2 1100.3,620.2 1100.5,621.4 1100.8,626.8 1101.3,649.7 1102.0,712.7 1103.3,864.6 1104.0,905.1 1104.3,910.6 1104.5,912.1 1105.0,902.9 1105.8,860.2 1107.5,667.7 1108.3,630.7 1108.5,626.1 1108.8,625.4 1109.3,635.6 1110.0,678.6 1111.0,796.1 1111.8,860.9 1112.3,885.8 1112.8,895.9 1113.0,895.3 1113.3,891.0 1114.0,856.4 1115.8,678.4 1116.5,639.0 1117.0,630.3 1117.3,631.3 1117.5,635.9 1118.3,670.2 1120.0,838.7 1120.8,873.6 1121.0,878.5 1121.3,880.0 1121.8,872.7 1122.5,837.5 1124.3,674.6 1125.0,641.8 1125.3,637.2 1125.5,635.9 1126.0,643.0 1126.8,676.8 1128.5,833.1 1129.3,864.8 1129.5,869.3 1129.8,870.6 1130.3,863.9 1131.0,831.2 1132.8,679.1 1133.5,648.3 1133.8,644.0 1134.0,642.7 1134.5,649.4 1135.0,667.8 1135.8,716.5 1137.0,831.6 1137.8,863.3 1138.3,870.1 1138.5,869.0 1138.8,864.9 1139.5,835.7 1141.3,689.9 1142.0,657.5 1142.5,649.8 1142.8,650.3 1143.0,653.7 1143.8,680.5 1144.5,731.2 1145.5,823.8 1146.0,849.7 1146.5,865.1 1146.8,868.7 1147.0,869.5 1147.3,867.5 1148.0,845.1 1148.8,799.7 1150.0,693.3 1150.8,663.9 1151.3,657.3 1151.5,658.2 1151.8,661.7 1152.5,687.7 1153.3,736.1 1154.3,824.3 1155.0,858.0 1155.5,868.0 1155.8,869.0 1156.3,863.3 1157.0,835.9 1158.8,703.2 1159.5,673.2 1160.0,665.4 1160.3,665.3 1160.5,667.6 1161.3,689.1 1162.0,730.8 1163.3,827.5 1164.0,854.7 1164.5,861.2 1164.8,860.9 1165.0,858.2 1165.8,836.7 1166.5,796.1 1167.0,750.4 1167.8,704.4 1168.5,679.0 1169.0,673.0 1169.3,673.4 1169.5,675.9 1170.3,696.5 1171.0,735.0 1171.8,792.9 1172.5,816.4 1173.0,821.4 1173.3,821.3 1173.8,816.8 1174.8,796.6 1176.0,761.8 1176.3,758.0 1176.5,756.9 1176.8,757.7 1177.0,760.1 1177.5,769.3 1179.5,828.7 1179.8,829.8 1180.0,828.4 1180.8,805.6 1183.3,670.4 1184.0,644.6 1184.3,639.4 1184.5,637.9 1185.5,651.1 1186.8,679.8 1191.3,824.0 1192.3,845.7 1193.3,858.5 1193.5,856.9 1194.0,848.9 1195.0,823.0 1199.3,647.1 1200.3,617.7 1201.3,601.6 1202.3,608.0 1203.3,618.9 1207.8,692.5 1209.0,707.3 1210.0,714.2 1210.3,714.5 1211.0,712.2 1212.5,704.1 1214.0,692.4 1218.0,656.4 1219.3,648.0 1220.3,643.3 1221.0,641.1 1221.5,641.8 1223.8,649.8 1224.5,651.3 1225.5,651.1 1228.3,649.2 1228.8,649.1 1229.0,649.5 1229.8,657.5 1230.8,675.9 1234.8,787.9 1235.8,808.6 1236.8,820.7 1237.0,820.5 1237.3,818.6 1238.0,810.8 1239.3,790.7 1240.8,757.2 1245.0,649.8 1246.5,624.1 1247.3,615.9 1247.8,612.5 1248.5,619.2 1249.3,629.0 1250.8,657.3 1252.5,702.4 1256.3,817.6 1258.0,865.9 1259.8,902.6 1260.8,916.7 1261.5,923.7 1261.8,922.3 1262.3,913.3 1263.0,891.9 1266.8,721.9 1267.8,690.1 1268.5,676.9 1269.0,685.7 1269.8,711.2 1272.0,826.5 1272.8,855.7 1273.3,867.8 1273.5,870.7 1274.3,864.8 1275.0,854.4 1276.3,831.7" stroke="#d62728"/>
<path d="M949.3,600.7 950.0,604.3 950.8,609.9 952.3,626.3 954.0,652.5 959.3,742.8 961.0,764.0 962.0,772.0 962.8,775.9 963.5,768.0 964.3,753.9 967.5,669.4 968.3,657.8 968.8,654.1 969.8,658.1 972.3,676.9 973.0,681.1 973.5,682.8 973.8,683.0 974.0,682.9 975.3,681.7 978.3,677.0 979.5,675.5 980.5,674.8 980.8,675.4 981.3,678.5 982.0,685.9 984.3,715.5 985.0,722.2 985.5,724.6 986.0,722.9 986.8,719.0 988.0,709.0 989.3,695.7 993.5,643.8 995.0,630.9 996.3,624.7 996.5,624.3 996.8,624.3 999.5,625.5 1000.5,625.6 1001.5,624.0 1003.8,618.9 1004.3,618.4 1004.8,620.0 1005.5,624.6 1006.5,633.8 1010.5,682.2 1011.5,689.8 1012.3,692.9 1013.0,688.0 1013.8,679.5 1017.0,629.3 1017.8,622.4 1018.0,621.0 1018.3,620.6 1019.3,625.2 1020.5,635.3 1025.0,686.4 1026.0,694.1 1027.0,698.7 1027.3,698.1 1027.8,694.9 1028.5,687.4 1032.3,628.0 1033.3,616.9 1034.0,612.4 1035.0,617.3 1036.3,628.4 1039.8,674.2 1041.0,688.5 1042.0,696.6 1042.8,700.4 1043.0,700.4 1043.8,695.0 1044.8,682.4 1048.3,621.0 1049.0,612.2 1049.8,606.8 1050.0,607.0 1050.5,609.4 1051.5,617.0 1055.8,669.3 1056.8,678.1 1057.8,683.0 1058.8,678.7 1060.0,669.0 1063.5,628.8 1064.8,616.3 1065.8,609.2 1066.5,605.9 1066.8,605.8 1067.8,611.3 1068.8,620.5 1072.8,671.0 1073.8,679.2 1074.5,682.8 1075.0,681.6 1075.5,679.2 1076.5,671.9 1081.3,619.2 1082.5,609.6 1083.0,607.1 1083.5,605.6 1084.3,610.2 1085.3,621.3 1089.0,680.0 1089.8,687.3 1090.3,690.4 1090.5,690.7 1091.8,685.3 1093.0,676.1 1098.0,625.7 1099.3,617.3 1100.3,613.5 1100.8,616.0 1101.3,620.3 1102.3,633.1 1106.5,710.5 1107.5,722.0 1108.3,726.4 1109.0,718.3 1109.8,704.4 1113.0,622.7 1113.8,611.7 1114.0,609.5 1114.3,608.8 1115.3,614.9 1116.5,628.2 1121.0,694.7 1122.0,704.7 1123.0,710.6 1123.5,709.0 1124.0,706.1 1125.3,695.1 1126.5,679.8 1130.5,623.9 1131.8,611.9 1132.5,607.3 1133.0,605.6 1134.3,611.8 1135.5,622.4 1141.0,690.9 1142.5,704.2 1143.8,710.5 1144.0,710.2 1144.8,706.2 1146.0,695.2 1147.3,679.7 1151.3,622.6 1152.5,610.3 1153.3,605.5 1153.8,603.6 1155.0,609.2 1156.3,618.9 1157.5,631.9 1161.8,682.2 1163.3,694.6 1164.5,700.5 1164.8,700.5 1165.0,699.7 1165.8,696.4 1167.0,688.0 1168.5,673.9 1172.8,628.3 1174.3,617.4 1175.5,612.4 1176.8,616.9 1178.3,626.6 1182.5,667.0 1184.0,679.6 1185.5,688.2 1186.3,690.7 1186.5,690.7 1187.8,684.8 1189.0,674.8 1194.0,620.5 1195.3,611.6 1196.3,607.5 1197.3,611.5 1198.5,620.8 1203.3,672.2 1204.3,679.3 1204.8,681.6 1205.3,682.9 1206.3,678.7 1207.3,671.5 1211.8,624.3 1213.0,614.9 1214.0,610.7 1214.3,611.1 1214.8,614.3 1215.8,625.2 1219.0,679.1 1220.3,694.1 1221.0,698.8 1222.0,698.5 1224.3,696.8 1224.8,696.6 1225.0,696.7 1225.5,701.7 1226.8,726.6 1229.5,804.2 1230.3,818.3 1230.8,824.1 1231.0,825.2 1231.8,823.6 1232.5,821.4 1234.3,813.7 1236.0,803.2 1240.8,771.3 1242.3,763.5 1243.5,758.8 1244.5,756.3 1244.8,755.9 1245.0,755.9 1246.0,756.4 1247.0,757.2 1251.0,761.2 1252.5,762.0 1252.8,761.6 1253.5,754.7 1254.5,739.0 1258.5,643.0 1259.5,625.3 1260.5,615.0 1260.8,614.7 1261.3,616.1 1262.8,622.1 1264.0,629.3 1265.3,638.1 1267.5,657.7 1273.3,714.0 1274.8,726.6 1276.3,737.1" stroke="#9467bd"/>
<path d="M949.3,923.1 950.3,919.5 951.3,913.0 955.5,871.5 956.8,862.7 957.8,858.7 958.5,861.6 959.3,867.1 963.0,910.2 964.0,918.2 964.8,921.3 966.3,919.7 967.8,916.8 969.5,912.4 975.0,896.1 976.8,892.4 977.8,891.0 978.5,890.3 979.0,891.5 979.8,895.5 982.3,916.3 983.0,920.7 983.5,922.3 984.3,921.7 985.0,920.8 986.5,918.1 988.3,913.8 993.8,898.0 995.5,894.4 996.5,893.0 997.3,892.3 997.5,892.4 998.0,893.7 998.8,896.9 1002.3,919.0 1003.0,921.7 1003.3,922.2 1003.5,922.2 1004.8,920.9 1006.0,918.7 1007.5,915.1 1012.0,903.0 1013.5,900.0 1015.0,898.3 1015.3,898.2 1015.8,899.0 1016.5,900.8 1020.0,914.2 1021.0,916.2 1021.3,916.3 1021.5,916.0 1022.5,914.1 1023.5,911.3 1028.0,894.3 1029.0,891.8 1030.0,890.3 1030.8,891.4 1031.5,893.6 1035.3,910.2 1036.3,913.2 1037.0,914.4 1038.0,913.1 1039.3,910.1 1042.8,898.1 1044.0,894.4 1045.3,891.9 1045.8,891.4 1046.0,891.4 1046.8,893.2 1047.8,897.1 1051.3,916.0 1052.0,918.7 1052.8,920.3 1053.5,918.6 1054.5,914.1 1058.8,884.1 1059.8,879.1 1060.3,877.4 1060.8,876.5 1061.5,879.0 1062.5,885.0 1066.3,916.5 1067.0,920.4 1067.5,922.0 1067.8,922.1 1068.8,918.7 1069.8,913.0 1073.8,881.8 1074.8,876.7 1075.5,874.5 1076.3,876.3 1077.3,881.1 1081.5,913.9 1082.5,919.3 1083.5,922.3 1084.5,919.6 1085.8,913.5 1089.3,888.7 1090.5,881.0 1091.5,876.6 1092.3,874.7 1092.5,874.6 1093.5,877.5 1094.8,883.8 1099.3,914.9 1100.3,919.6 1101.3,922.3 1101.8,921.2 1102.5,918.6 1103.8,911.8 1107.8,880.0 1109.0,871.3 1110.3,865.1 1111.0,862.9 1111.3,862.7 1112.3,866.2 1113.3,872.1 1117.8,910.9 1119.0,918.6 1120.0,922.1 1120.3,921.9 1120.8,919.8 1121.5,915.0 1125.3,876.7 1126.3,869.5 1127.0,866.5 1127.8,867.7 1128.8,870.5 1132.0,884.0 1132.8,886.4 1133.5,888.1 1134.0,888.7 1135.0,888.5 1139.8,886.8 1141.8,886.3 1142.8,887.0 1144.0,888.5 1145.8,891.4 1147.8,895.8 1153.5,911.5 1155.8,917.1 1157.8,921.0 1159.5,923.4 1160.5,924.2 1160.8,924.1 1161.3,922.0 1162.3,914.4 1164.5,892.0 1165.3,887.5 1165.5,886.6 1165.8,886.5 1166.8,888.2 1168.0,891.9 1171.8,907.5 1173.3,912.3 1174.5,914.4 1175.3,914.0 1177.0,912.2 1177.5,912.1 1177.8,912.4 1178.5,914.1 1180.5,921.5 1181.3,923.1 1181.5,922.7 1182.3,912.1 1183.3,888.4 1184.5,846.2 1188.0,707.2 1189.3,672.6 1190.3,656.8 1190.5,656.8 1190.8,658.2 1191.8,666.4 1193.5,689.2 1195.5,725.9 1199.8,819.0 1201.5,852.7 1203.5,881.2 1204.5,890.4 1205.0,893.7 1205.3,894.3 1206.3,886.9 1207.3,874.5 1211.8,791.9 1213.0,775.5 1214.0,768.0 1214.3,768.2 1214.8,771.1 1215.8,780.8 1218.8,825.8 1219.8,838.3 1220.8,846.0 1221.0,847.1 1221.3,845.8 1222.3,835.6 1223.3,819.2 1227.3,734.5 1228.3,721.4 1228.8,717.3 1229.0,716.6 1230.0,724.9 1231.3,743.2 1234.8,817.3 1236.0,840.0 1237.3,855.1 1237.8,858.5 1238.0,857.6 1239.0,843.5 1240.3,813.5 1244.8,666.3 1245.8,644.6 1246.8,632.2 1247.5,642.7 1248.5,667.9 1252.3,803.3 1253.0,820.4 1253.5,827.6 1253.8,828.8 1254.8,817.9 1256.0,793.9 1260.5,672.8 1261.5,654.5 1262.5,643.6 1263.0,648.5 1263.8,665.6 1267.0,790.4 1267.8,811.3 1268.5,823.2 1269.5,816.3 1270.8,800.2 1274.5,728.5 1276.3,702.7" stroke="#8c564b"/>
<path d="M949.3,713.5 950.8,712.8 954.0,709.5 955.8,708.4 956.3,712.3 957.0,724.1 957.8,741.3 961.0,837.5 962.0,857.6 962.8,865.9 963.8,855.3 965.0,831.1 968.5,731.1 969.8,699.9 970.8,682.1 971.3,676.1 971.5,673.9 971.8,673.2 973.0,682.5 974.3,698.3 979.5,794.8 980.8,812.6 981.8,822.6 982.5,827.1 983.0,825.6 983.8,820.6 984.8,810.7 987.8,774.0 988.8,765.8 989.5,762.8 990.0,766.8 990.8,777.7 993.3,830.1 994.0,840.2 994.5,843.0 995.3,839.6 997.3,822.7 998.3,817.3 998.5,817.5 999.0,820.6 1001.0,841.7 1001.3,842.9 1001.8,839.8 1002.5,829.4 1003.3,814.0 1006.8,722.1 1007.5,709.2 1008.3,701.6 1009.3,707.0 1010.5,719.4 1011.8,736.7 1015.5,796.0 1016.8,810.3 1018.0,818.8 1018.3,818.9 1018.5,817.0 1019.3,807.5 1022.8,728.8 1023.5,717.5 1024.0,712.9 1024.3,713.0 1025.3,720.1 1026.5,735.2 1031.0,809.9 1032.0,820.9 1033.0,827.3 1033.8,820.4 1034.8,803.5 1038.5,712.3 1039.3,700.7 1039.8,695.8 1040.0,695.1 1040.8,705.7 1041.5,723.9 1044.5,823.1 1045.3,839.5 1045.8,846.1 1046.0,846.5 1047.3,836.6 1048.8,815.9 1053.0,732.4 1054.3,710.9 1055.5,694.9 1056.8,685.7 1057.5,695.0 1058.5,717.8 1062.3,841.0 1063.0,856.7 1063.5,863.3 1063.8,864.4 1064.5,855.6 1065.5,835.4 1069.5,712.4 1070.5,689.8 1071.5,676.5 1071.8,677.0 1072.3,682.9 1073.3,702.4 1077.5,836.9 1078.5,859.7 1079.5,872.7 1080.5,861.7 1081.5,841.7 1085.8,722.7 1086.8,705.2 1087.3,699.8 1087.5,699.0 1088.3,707.1 1089.3,725.7 1093.3,839.1 1094.3,859.9 1095.3,872.2 1095.5,871.6 1096.0,865.7 1097.0,846.3 1101.3,712.5 1102.3,689.7 1103.3,676.8 1104.3,686.6 1105.5,709.3 1110.3,833.1 1111.3,850.0 1112.0,857.8 1112.3,858.5 1113.5,845.1 1114.8,822.0 1119.8,695.2 1121.0,674.0 1122.0,664.3 1122.5,667.9 1123.0,674.7 1124.0,694.9 1128.8,841.6 1130.0,868.3 1130.5,875.3 1131.0,879.6 1132.3,866.9 1133.5,845.1 1139.0,703.5 1140.5,675.8 1141.8,662.5 1142.0,663.0 1142.8,671.8 1144.0,696.3 1145.3,731.0 1149.3,859.1 1150.5,886.9 1151.3,897.8 1151.8,902.5 1152.3,898.0 1153.0,887.4 1154.3,860.5 1158.3,736.7 1159.5,703.1 1160.8,679.4 1161.5,670.9 1161.8,670.6 1163.0,687.6 1164.3,716.8 1169.3,875.8 1170.5,902.1 1171.5,914.1 1172.0,910.0 1172.8,899.0 1174.0,871.4 1175.5,825.8 1179.5,688.1 1181.0,651.5 1182.3,633.7 1182.5,632.4 1183.3,635.3 1184.0,639.7 1185.0,647.7 1186.5,663.3 1191.3,720.4 1192.8,733.1 1193.5,737.4 1194.3,740.3 1194.8,738.3 1195.3,734.9 1196.5,721.7 1201.3,648.8 1202.3,638.7 1202.8,635.3 1203.3,633.5 1204.5,646.7 1206.0,673.9 1207.8,718.2 1212.8,863.7 1214.5,898.8 1215.3,909.0 1216.0,915.9 1216.3,914.7 1216.8,907.9 1217.8,885.7 1221.8,742.7 1222.8,715.0 1223.8,697.8 1224.0,695.5 1225.0,697.4 1226.0,700.5 1227.5,707.0 1232.3,732.1 1233.8,737.3 1234.8,739.3 1235.0,738.9 1236.3,730.2 1237.8,712.2 1242.0,639.4 1243.3,620.6 1244.5,606.6 1245.8,598.6 1246.3,599.8 1247.5,606.0 1248.0,607.7 1248.3,607.7 1248.8,606.6 1250.0,602.0 1250.5,600.8 1250.8,600.7 1251.3,602.9 1252.5,614.0 1255.3,648.2 1256.0,654.4 1256.5,656.9 1256.8,657.2 1257.8,655.3 1259.3,650.3 1260.8,643.4 1265.5,618.1 1267.0,612.6 1267.8,610.7 1268.5,609.5 1269.5,611.9 1270.8,617.4 1274.5,642.2 1276.3,651.1" stroke="#e377c2"/>
</g>
<rect x="949.3" y="580.8" width="327.1" height="361.6" fill="none" stroke="#000" stroke-width="3"/>
<line x1="949.3" y1="943.5" x2="949.3" y2="954.2" stroke="#000" stroke-width="3" />
<text x="949.3" y="989.3" font-family='"Liberation Serif", "DejaVu Serif", serif' font-size="33.3" text-anchor="middle" font-weight="normal" font-style="normal" fill="#000"  stroke="#000" stroke-width="0.45">600</text>
<line x1="1112.85" y1="943.5" x2="1112.85" y2="954.2" stroke="#000" stroke-width="3" />
<text x="1112.85" y="989.3" font-family='"Liberation Serif", "DejaVu Serif", serif' font-size="33.3" text-anchor="middle" font-weight="normal" font-style="normal" fill="#000"  stroke="#000" stroke-width="0.45">800</text>
<line x1="1276.4" y1="943.5" x2="1276.4" y2="954.2" stroke="#000" stroke-width="3" />
<text x="1276.4" y="989.3" font-family='"Liberation Serif", "DejaVu Serif", serif' font-size="33.3" text-anchor="middle" font-weight="normal" font-style="normal" fill="#000"  stroke="#000" stroke-width="0.45">1000</text>
<line x1="937.6999999999999" y1="597.4" x2="948.3" y2="597.4" stroke="#000" stroke-width="3" />
<text font-family='"Liberation Serif", "DejaVu Serif", serif' font-size="33.3" stroke="#000" stroke-width="0.45" x="911.12" y="609.30" textLength="15.77" lengthAdjust="spacingAndGlyphs">1</text>
<line x1="937.6999999999999" y1="679.525" x2="948.3" y2="679.525" stroke="#000" stroke-width="3" />
<text font-family='"Liberation Serif", "DejaVu Serif", serif' font-size="33.3" stroke="#000" stroke-width="0.45" x="883.67" y="691.42">0.5</text>
<line x1="937.6999999999999" y1="761.65" x2="948.3" y2="761.65" stroke="#000" stroke-width="3" />
<text font-family='"Liberation Serif", "DejaVu Serif", serif' font-size="33.3" stroke="#000" stroke-width="0.45" x="908.65" y="773.55">0</text>
<line x1="937.6999999999999" y1="843.775" x2="948.3" y2="843.775" stroke="#000" stroke-width="3" />
<text font-family='"Liberation Serif", "DejaVu Serif", serif' font-size="33.3" stroke="#000" stroke-width="0.45"><tspan x="858.27" y="859.27" textLength="24.5" lengthAdjust="spacingAndGlyphs">−</tspan><tspan x="883.67" y="855.67">0.5</tspan></text>
<line x1="937.6999999999999" y1="925.9" x2="948.3" y2="925.9" stroke="#000" stroke-width="3" />
<text font-family='"Liberation Serif", "DejaVu Serif", serif' font-size="33.3" stroke="#000" stroke-width="0.45"><tspan x="886.25" y="941.40" textLength="24.5" lengthAdjust="spacingAndGlyphs">−</tspan><tspan x="911.12" y="937.80" textLength="15.77" lengthAdjust="spacingAndGlyphs">1</tspan></text>
<text fill="#000"><tspan x="1064.60" y="1024.00" font-family='"Liberation Serif", "DejaVu Serif", serif' font-size="37.88" font-style="italic" font-weight="normal" textLength="11.11" lengthAdjust="spacingAndGlyphs">t</tspan><tspan x="1078.97" y="1024.00" font-family='"Liberation Serif", "DejaVu Serif", serif' font-size="34.66" font-style="italic" font-weight="normal" textLength="26.01" lengthAdjust="spacingAndGlyphs">B</tspan><tspan x="1102.99" y="1028.70" font-family='"Liberation Serif", "DejaVu Serif", serif' font-size="21.82" font-style="normal" font-weight="normal" textLength="11.83" lengthAdjust="spacingAndGlyphs" stroke="#000" stroke-width="0.3">1</tspan><tspan x="1117.84" y="1028.66" font-family='"DejaVu Sans Light", "DejaVu Sans", "Liberation Sans", sans-serif' font-size="41.45" font-style="normal" font-weight="normal" textLength="14.91" lengthAdjust="spacingAndGlyphs" stroke="#000" stroke-width="0.3">/</tspan><tspan x="1135.00" y="1024.00" font-family='"Liberation Serif", "DejaVu Serif", serif' font-size="34.66" font-style="italic" font-weight="normal" textLength="24.64" lengthAdjust="spacingAndGlyphs">R</tspan></text>
<text x="857.7" y="604.4" font-family='"DejaVu Sans", "Liberation Sans", sans-serif' font-size="30.3" text-anchor="start" font-weight="bold" font-style="normal" fill="#000" >d</text>
<rect x="1372.9" y="580.8" width="327.1" height="361.6" fill="#fff"/>
<clipPath id="clipe"><rect x="1372.9" y="580.8" width="327.1" height="361.6"/></clipPath>
<g clip-path="url(#clipe)" fill="none" stroke-width="5.6" stroke-linejoin="round" stroke-linecap="round">
<path d="M1372.9,654.2 1373.9,653.8 1374.9,652.5 1375.9,649.9 1376.7,646.7 1377.9,638.9 1380.2,620.7 1381.7,612.5 1382.4,610.2 1383.4,608.3 1383.9,607.8 1384.7,607.5 1385.2,607.7 1385.4,608.2 1386.2,611.6 1386.7,615.9 1387.7,631.2 1390.7,721.0 1391.4,735.6 1392.4,746.2 1392.9,748.8 1393.4,750.1 1393.7,750.3 1394.2,750.1 1394.9,748.5 1395.9,742.3 1397.4,725.2 1398.2,719.6 1398.9,717.0 1399.7,716.3 1400.2,717.0 1400.7,719.4 1401.7,730.7 1402.7,754.7 1404.9,854.1 1405.9,889.2 1406.4,900.6 1407.2,911.5 1407.7,915.6 1408.4,918.3 1408.9,918.2 1409.7,917.0 1410.4,914.1 1410.9,910.9 1411.9,900.5 1413.9,868.1 1414.9,856.2 1415.4,852.4 1416.2,848.8 1416.9,847.1 1417.2,846.8 1417.7,846.8 1418.4,847.6 1419.2,849.6 1419.9,853.4 1420.4,857.2 1421.4,868.6 1423.9,906.2 1424.7,913.5 1425.4,918.1 1425.9,920.1 1426.7,921.8 1427.4,922.3 1427.9,921.9 1428.7,918.7 1429.9,908.3 1430.4,906.6 1430.7,906.2 1431.2,906.2 1431.7,907.3 1431.9,908.5 1433.4,922.3 1433.7,923.4 1434.2,924.3 1434.4,924.2 1434.7,923.6 1434.9,922.3 1435.7,913.3 1436.4,893.4 1437.2,858.3 1438.7,767.5 1439.2,746.2 1439.9,726.8 1440.4,720.1 1440.7,718.1 1441.2,716.3 1441.7,716.4 1442.2,716.8 1442.9,718.1 1443.7,720.7 1445.2,727.8 1446.2,730.0 1446.9,730.5 1447.4,730.4 1447.9,728.8 1448.4,725.2 1449.2,714.6 1449.7,702.7 1451.4,641.2 1452.2,622.5 1452.7,614.9 1453.2,610.4 1453.7,608.1 1453.9,607.6 1454.2,607.5 1454.7,607.8 1455.2,608.7 1456.2,612.9 1456.9,619.3 1458.4,636.3 1459.2,641.9 1459.9,644.9 1460.4,645.9 1461.4,646.6 1461.9,648.5 1462.4,652.9 1463.9,674.3 1464.4,677.0 1465.2,678.3 1465.4,680.3 1465.9,690.9 1466.4,715.1 1467.4,796.8 1467.9,824.4 1468.4,837.4 1468.9,841.2 1469.2,841.1 1469.7,840.5 1470.4,838.1 1471.2,833.6 1471.7,828.9 1472.9,809.9 1474.7,771.5 1475.7,754.0 1476.9,741.6 1477.7,738.0 1478.4,736.3 1478.9,736.1 1479.7,736.6 1480.7,738.7 1481.7,743.2 1482.4,748.5 1483.7,762.3 1486.2,798.7 1486.9,806.9 1487.9,814.5 1489.2,819.5 1489.9,820.9 1490.7,821.4 1491.2,821.1 1491.4,820.8 1491.9,819.5 1492.9,814.6 1493.7,808.3 1494.4,799.2 1495.7,775.9 1498.9,680.7 1500.2,651.3 1500.9,638.9 1501.7,630.0 1502.4,623.9 1503.2,620.0 1503.7,618.4 1504.2,617.6 1504.7,617.4 1505.2,617.9 1505.7,619.2 1506.2,621.4 1506.9,627.2 1507.9,641.0 1509.9,683.2 1510.7,695.5 1511.7,705.4 1512.2,708.1 1512.9,710.3 1513.4,710.8 1513.9,710.5 1514.2,710.2 1514.9,708.1 1515.4,705.5 1516.4,696.1 1518.2,669.5 1519.2,658.4 1519.7,655.0 1520.4,652.2 1521.2,651.1 1521.4,651.0 1521.7,651.4 1522.4,656.8 1522.9,664.7 1523.9,696.0 1526.2,841.6 1527.2,889.2 1528.2,912.0 1528.7,917.2 1529.2,919.2 1529.4,919.3 1529.7,918.9 1530.2,916.1 1531.7,891.0 1532.2,887.3 1532.7,886.3 1533.2,887.3 1533.7,890.9 1535.2,918.8 1535.7,923.0 1536.2,924.3 1536.4,924.2 1536.7,923.8 1537.2,921.4 1538.7,900.9 1539.2,897.4 1539.7,896.2 1539.9,896.2 1540.2,896.6 1540.7,898.8 1542.2,918.7 1542.4,920.5 1542.9,922.1 1543.2,922.3 1543.7,922.0 1544.2,920.8 1545.9,908.5 1546.4,906.8 1546.7,906.4 1547.2,906.1 1547.7,906.4 1547.9,906.9 1548.4,908.6 1549.9,918.4 1550.4,919.8 1550.7,920.1 1551.2,920.3 1551.7,919.9 1551.9,919.4 1552.4,917.6 1553.9,907.9 1554.7,906.3 1555.2,906.1 1555.4,906.3 1555.9,907.2 1556.4,909.5 1557.9,920.5 1558.7,922.2 1559.2,922.3 1559.4,922.0 1559.9,920.6 1560.4,917.3 1561.9,902.5 1562.4,900.7 1562.9,900.2 1563.4,900.5 1563.7,901.1 1564.2,903.2 1565.4,915.2 1565.9,918.4 1566.4,919.9 1566.9,920.3 1567.4,920.0 1567.9,919.1 1568.7,916.4 1569.2,913.5 1570.4,900.9 1571.4,883.9 1573.4,841.1 1574.7,821.9 1575.9,811.7 1576.7,808.7 1577.2,807.6 1577.7,807.2 1578.4,807.4 1578.9,808.0 1579.9,810.3 1580.9,814.7 1581.9,821.8 1583.4,838.8 1586.7,887.0 1587.9,899.0 1589.2,905.9 1590.4,909.4 1590.9,910.1 1591.7,910.4 1592.2,910.1 1592.7,909.1 1593.4,905.9 1594.2,899.8 1594.7,893.7 1596.4,865.3 1597.2,856.1 1597.7,852.1 1598.4,848.5 1599.2,846.9 1599.7,846.7 1599.9,847.0 1600.4,848.2 1600.9,850.8 1601.7,858.2 1602.4,871.3 1603.9,905.2 1604.7,916.1 1605.4,921.8 1605.9,923.6 1606.4,924.3 1606.9,924.1 1607.4,923.3 1608.7,917.8 1609.2,916.5 1609.7,916.0 1610.4,916.3 1610.9,917.2 1612.2,922.5 1612.7,923.8 1613.2,924.3 1613.7,924.2 1614.2,923.5 1615.4,917.5 1615.7,916.7 1616.2,916.0 1616.7,916.1 1617.2,916.9 1618.4,922.9 1618.9,924.1 1619.4,924.3 1619.7,924.1 1620.4,922.0 1621.4,914.3 1622.2,902.9 1624.2,854.3 1624.9,840.7 1625.9,830.8 1626.4,828.4 1626.7,827.6 1627.2,827.0 1627.7,827.0 1628.2,827.5 1629.2,829.9 1629.9,833.2 1630.7,838.3 1631.7,848.6 1633.9,878.8 1634.7,886.4 1635.4,891.8 1636.4,896.1 1637.4,898.2 1637.9,898.5 1638.4,898.5 1638.9,898.0 1639.4,897.0 1640.2,894.3 1640.7,891.5 1641.9,879.8 1644.7,834.5 1645.9,819.0 1647.2,810.8 1647.9,808.4 1648.7,807.3 1649.2,807.2 1649.7,807.6 1650.4,809.5 1651.2,813.3 1651.7,817.2 1652.9,833.3 1655.7,883.4 1656.9,895.1 1657.7,898.6 1658.4,900.2 1658.7,900.5 1659.2,900.5 1659.7,900.2 1660.2,899.5 1660.9,897.6 1661.7,894.2 1662.7,886.8 1664.7,864.8 1665.7,855.8 1666.9,849.5 1667.4,848.2 1668.2,847.0 1668.7,846.7 1669.4,846.9 1670.4,848.2 1671.4,851.1 1672.2,854.6 1673.7,866.4 1676.4,899.9 1677.7,911.9 1678.4,916.7 1679.2,920.1 1680.2,922.9 1681.2,924.1 1681.7,924.3 1681.9,924.2 1682.4,923.0 1682.7,921.8 1683.2,917.4 1684.2,903.3 1684.9,897.5 1685.4,896.3 1685.7,896.2 1686.2,896.4 1686.7,897.1 1687.7,899.8 1688.2,900.4 1688.7,900.6 1689.4,900.4 1690.2,899.9 1690.9,899.0 1691.7,897.5 1692.7,894.6 1693.4,891.4 1696.2,875.5 1697.2,870.8 1698.4,866.8 1699.2,865.4 1699.9,864.4" stroke="#1f77b4"/>
<path d="M1372.9,600.7 1373.2,600.9 1373.4,601.8 1373.9,605.7 1374.4,613.2 1374.9,625.6 1375.7,656.5 1377.7,767.3 1378.7,793.1 1379.2,798.8 1379.7,801.3 1379.9,801.6 1380.4,801.4 1381.2,800.2 1381.9,797.8 1382.7,794.2 1383.9,784.6 1384.9,772.7 1386.7,740.9 1390.2,655.3 1391.2,636.4 1392.2,622.2 1393.2,612.2 1394.4,604.4 1394.9,602.5 1395.7,600.5 1396.4,599.6 1396.9,599.6 1397.2,599.8 1397.7,600.5 1398.2,601.8 1399.2,606.4 1400.2,614.6 1400.9,623.7 1402.4,651.1 1405.4,722.0 1406.4,738.7 1407.7,752.0 1408.7,758.1 1409.7,761.2 1410.2,761.9 1410.9,761.9 1411.7,761.1 1412.2,760.0 1412.9,757.2 1413.7,752.5 1415.9,729.7 1416.9,722.2 1417.7,718.9 1418.4,717.1 1418.9,716.5 1419.4,716.3 1419.9,716.7 1420.2,717.3 1420.7,719.5 1421.2,723.1 1422.2,737.1 1424.2,789.0 1425.2,808.5 1425.9,816.4 1426.4,819.4 1426.9,820.9 1427.2,821.3 1427.7,821.4 1428.4,820.9 1428.9,820.4 1429.9,818.4 1430.9,815.0 1431.9,809.7 1432.7,804.2 1435.7,775.5 1437.2,764.9 1438.2,760.5 1439.2,757.8 1440.4,756.2 1441.2,755.9 1441.7,756.1 1442.4,757.4 1443.2,760.3 1444.4,770.4 1445.4,784.6 1447.4,819.6 1448.4,831.2 1449.2,836.5 1449.9,839.5 1450.4,840.6 1450.9,841.1 1451.4,841.1 1451.7,840.7 1452.2,839.4 1452.7,836.9 1453.4,830.0 1455.9,786.0 1456.4,780.1 1457.2,774.9 1457.7,773.1 1457.9,772.6 1458.4,772.3 1459.2,772.9 1459.9,774.8 1460.9,780.7 1462.9,802.6 1463.7,808.2 1464.2,810.5 1464.9,812.4 1465.7,812.9 1466.2,812.5 1466.7,811.2 1467.2,808.7 1467.9,801.9 1470.2,761.6 1470.9,752.0 1471.4,748.1 1472.2,744.9 1472.4,744.4 1472.9,744.0 1473.4,744.8 1473.9,747.1 1474.4,751.4 1475.4,768.3 1477.7,847.7 1478.7,873.9 1479.7,886.6 1480.2,889.4 1480.7,890.6 1481.2,890.5 1481.9,889.5 1482.7,887.3 1483.2,885.1 1484.4,876.2 1485.4,864.8 1487.2,833.0 1489.9,763.3 1491.2,736.6 1491.9,724.4 1492.9,712.3 1493.7,706.0 1494.7,700.4 1495.2,698.7 1495.9,697.0 1496.7,696.5 1497.4,696.9 1498.2,698.1 1498.7,699.4 1499.9,705.0 1500.9,712.7 1501.9,723.8 1504.9,769.8 1506.4,787.0 1507.4,794.1 1508.4,798.4 1508.9,799.8 1509.7,801.1 1510.4,801.6 1510.9,801.4 1511.4,800.8 1511.9,799.7 1512.9,795.6 1513.7,790.5 1514.4,783.0 1515.7,764.5 1518.7,706.2 1519.7,693.0 1520.9,683.0 1521.9,678.8 1522.4,677.6 1522.9,676.9 1523.4,676.7 1523.7,677.0 1524.4,680.1 1525.2,689.2 1526.9,723.8 1527.7,729.3 1527.9,730.1 1528.2,730.5 1528.4,730.5 1528.9,729.4 1529.2,728.1 1529.7,723.5 1530.2,715.2 1531.7,679.5 1532.4,671.3 1532.7,670.0 1533.2,668.8 1533.7,669.0 1534.2,669.9 1535.2,673.7 1536.2,681.4 1536.9,690.5 1538.4,719.8 1541.7,805.5 1542.9,825.2 1544.2,835.9 1544.7,838.3 1545.4,840.5 1545.9,841.1 1546.2,841.2 1546.7,840.9 1547.4,839.3 1547.9,837.5 1548.9,831.2 1549.7,823.5 1550.4,812.6 1553.4,750.2 1554.7,731.7 1555.7,723.0 1556.7,718.3 1557.2,717.1 1557.7,716.4 1557.9,716.3 1558.4,716.5 1558.9,717.2 1559.9,720.5 1560.9,726.8 1561.7,734.2 1562.4,744.5 1563.7,768.8 1566.4,837.1 1567.9,863.4 1568.7,871.8 1569.4,877.6 1570.4,882.4 1570.9,883.8 1571.4,884.5 1571.9,884.7 1572.2,884.6 1572.7,883.9 1573.4,881.7 1573.9,879.3 1574.9,871.6 1575.9,859.1 1577.4,828.7 1580.4,746.2 1581.2,730.4 1582.2,715.0 1582.9,707.2 1583.9,700.6 1584.9,697.3 1585.4,696.6 1585.7,696.5 1586.2,696.7 1586.9,697.7 1587.4,698.9 1588.4,703.1 1589.4,710.2 1590.2,717.9 1591.4,736.2 1594.2,786.8 1595.7,806.0 1596.4,812.1 1597.2,816.3 1598.2,819.8 1598.7,820.7 1599.2,821.3 1599.7,821.4 1600.4,820.9 1601.2,819.6 1601.7,818.2 1602.7,813.8 1603.7,806.7 1605.2,789.5 1608.2,743.5 1608.9,734.8 1609.9,726.3 1611.2,720.0 1611.7,718.5 1612.4,717.0 1613.2,716.3 1613.7,716.4 1614.2,717.2 1614.7,718.9 1615.4,723.3 1616.2,730.6 1617.4,751.7 1620.9,856.2 1621.7,872.8 1622.7,887.7 1623.4,894.5 1624.2,898.5 1624.9,900.3 1625.4,900.5 1625.7,900.1 1626.2,897.5 1626.4,895.0 1627.9,870.1 1628.4,867.2 1628.7,866.6 1628.9,866.5 1629.2,867.1 1629.7,871.0 1629.9,875.2 1630.9,905.0 1631.4,914.9 1631.7,917.5 1632.2,919.3 1632.4,919.3 1632.9,918.7 1633.4,917.5 1634.7,911.4 1635.7,902.4 1636.7,888.7 1637.7,869.1 1639.2,827.2 1642.4,713.1 1644.2,669.4 1645.2,653.4 1646.2,642.5 1647.4,634.6 1647.9,632.8 1648.7,631.4 1649.2,631.3 1649.4,632.0 1650.2,638.6 1651.2,662.2 1652.2,711.7 1654.4,864.5 1655.4,897.7 1655.9,906.1 1656.7,912.0 1656.9,912.4 1657.2,912.4 1657.7,911.6 1658.7,907.1 1659.4,900.6 1660.2,890.4 1661.7,855.7 1663.9,779.4 1664.9,752.1 1665.7,737.6 1666.4,727.6 1667.2,721.3 1668.2,717.1 1668.7,716.3 1669.2,716.4 1669.9,717.6 1670.4,719.2 1671.4,724.7 1672.2,731.7 1673.4,750.1 1675.9,803.5 1676.9,820.2 1678.2,833.1 1678.9,837.4 1679.7,840.0 1680.2,840.9 1680.7,841.2 1681.2,840.8 1681.7,839.5 1682.4,835.4 1683.2,827.9 1684.4,804.8 1686.4,745.5 1687.4,721.3 1688.7,704.2 1689.4,699.2 1690.2,696.9 1690.7,696.5 1691.2,696.9 1691.7,697.8 1692.2,699.4 1692.9,703.4 1693.7,709.9 1694.9,727.7 1697.7,781.4 1698.7,793.5 1699.2,797.4 1699.9,801.4" stroke="#ff7f0e"/>
<path d="M1372.9,883.5 1373.7,883.2 1374.2,882.4 1375.2,879.0 1377.2,864.2 1378.2,859.1 1378.9,857.3 1379.7,856.7 1380.4,856.9 1380.9,857.8 1381.9,861.7 1382.9,869.9 1385.2,903.3 1386.2,914.9 1386.7,918.6 1387.4,922.2 1388.2,923.9 1388.7,924.3 1388.9,924.2 1389.4,921.1 1389.9,912.1 1391.4,845.8 1392.2,829.8 1392.7,827.0 1392.9,827.0 1393.2,827.4 1393.7,829.2 1394.2,833.3 1395.9,865.4 1396.7,873.7 1397.2,876.1 1397.7,876.8 1398.2,876.6 1398.7,875.9 1399.4,873.7 1400.7,866.1 1401.9,851.6 1404.9,794.2 1406.2,776.7 1406.9,770.1 1407.7,765.8 1408.7,762.7 1409.2,762.0 1409.7,761.9 1410.2,763.1 1410.7,766.3 1411.7,781.8 1414.2,872.2 1414.9,888.2 1415.4,894.1 1415.9,897.3 1416.4,898.5 1416.9,898.4 1417.4,897.9 1418.2,896.1 1418.9,892.7 1419.9,884.8 1422.2,858.8 1423.2,851.6 1423.9,848.7 1424.7,847.2 1425.4,846.7 1426.2,847.3 1426.9,849.1 1427.4,851.1 1428.7,860.6 1431.4,901.7 1432.7,915.0 1433.4,919.5 1434.2,922.0 1434.7,922.9 1435.2,923.3 1435.4,923.2 1435.7,922.4 1436.4,913.9 1436.9,900.3 1438.4,825.1 1438.9,807.8 1439.7,795.6 1439.9,794.0 1440.2,793.3 1440.4,793.4 1440.9,794.6 1441.4,797.7 1442.4,812.0 1444.4,876.1 1445.4,899.1 1445.9,905.2 1446.4,908.6 1446.9,910.2 1447.2,910.4 1447.4,910.3 1448.2,908.1 1448.7,904.7 1449.4,896.1 1449.9,887.0 1450.9,859.7 1452.7,798.5 1453.7,775.1 1454.2,767.9 1454.9,761.3 1455.4,758.9 1455.7,758.3 1456.2,757.9 1456.9,758.3 1457.4,759.1 1458.7,762.8 1459.7,768.0 1460.7,776.0 1461.7,787.2 1462.7,802.2 1465.9,864.9 1467.7,891.3 1468.7,901.3 1469.9,909.6 1471.2,914.2 1471.7,915.3 1472.4,916.2 1472.9,916.4 1473.2,916.0 1473.7,913.2 1474.2,906.9 1474.7,895.5 1476.7,802.9 1477.2,786.1 1477.9,772.4 1478.2,770.0 1478.7,767.7 1480.4,767.3 1481.7,766.6 1482.9,765.3 1484.9,762.1 1485.9,760.9 1487.2,760.0 1488.4,759.7 1489.2,759.7 1489.7,761.4 1490.2,766.8 1490.7,777.5 1491.4,807.6 1492.7,875.6 1493.2,893.2 1493.9,906.8 1494.2,908.9 1494.7,910.4 1495.2,909.9 1495.4,909.2 1495.9,906.4 1496.7,897.8 1497.9,872.7 1498.7,861.4 1499.4,856.2 1499.9,854.8 1500.2,854.6 1500.4,854.8 1500.9,857.0 1501.2,859.3 1501.7,867.5 1502.9,905.5 1503.4,916.0 1503.9,921.3 1504.4,923.2 1504.7,923.3 1505.2,923.0 1505.9,921.5 1506.7,918.5 1507.2,915.3 1508.4,902.2 1510.4,870.7 1511.4,858.5 1512.7,850.2 1513.4,847.8 1513.9,847.0 1514.4,846.7 1514.9,846.8 1515.4,847.2 1516.4,849.0 1517.2,851.5 1517.9,855.2 1519.2,865.1 1521.4,889.9 1522.4,898.8 1523.7,905.8 1524.4,908.2 1525.4,910.0 1525.9,910.3 1526.4,910.4 1527.2,910.2 1527.7,909.8 1528.7,908.1 1529.4,906.0 1530.9,898.6 1533.4,879.8 1534.7,872.8 1535.4,870.1 1536.2,868.3 1537.2,866.9 1538.2,866.5 1538.7,866.8 1539.2,867.9 1539.9,871.9 1540.7,879.9 1542.2,900.5 1542.7,904.6 1543.2,906.9 1543.7,908.1 1544.2,908.5 1544.7,908.0 1544.9,907.3 1545.7,902.6 1546.7,891.5 1547.2,888.1 1547.4,887.2 1547.9,886.4 1548.4,886.4 1548.9,886.9 1549.7,889.0 1550.4,893.2 1552.9,917.7 1553.7,921.3 1554.4,922.9 1554.9,923.3 1555.4,923.2 1556.2,922.1 1556.9,919.7 1557.4,917.1 1558.4,908.6 1560.4,882.9 1561.2,875.5 1561.7,872.1 1562.4,868.8 1562.9,867.5 1563.7,866.6 1564.2,866.5 1564.7,866.8 1565.4,867.8 1566.2,869.7 1566.9,872.9 1567.9,879.6 1570.2,899.7 1571.4,906.6 1572.2,908.8 1572.9,910.0 1573.4,910.4 1573.9,910.4 1574.7,909.9 1575.7,907.8 1576.4,904.8 1577.7,896.0 1578.7,884.7 1581.2,849.0 1582.4,836.9 1583.2,832.4 1583.9,829.4 1584.7,827.7 1585.2,827.1 1585.7,826.9 1586.4,827.2 1586.9,827.6 1588.2,829.8 1589.4,834.1 1590.4,839.6 1592.2,854.6 1595.4,892.0 1596.4,900.8 1597.4,907.2 1598.4,911.5 1599.7,914.8 1600.2,915.5 1600.9,916.2 1601.7,916.4 1602.2,916.1 1603.2,914.5 1604.2,911.0 1605.2,905.1 1605.9,898.5 1607.2,882.9 1609.9,838.6 1611.4,821.3 1612.2,815.8 1613.2,810.9 1614.2,808.2 1614.7,807.5 1615.2,807.2 1615.9,807.3 1616.4,807.7 1617.4,809.6 1618.4,813.2 1619.2,817.3 1620.7,830.5 1623.7,869.7 1625.2,884.2 1626.2,890.2 1627.2,893.9 1627.7,895.1 1628.4,896.2 1629.2,896.6 1629.4,896.4 1629.9,893.2 1630.4,885.6 1631.4,850.4 1633.4,692.1 1634.2,646.0 1634.7,627.1 1635.2,615.5 1635.7,609.4 1636.2,607.5 1636.7,607.8 1636.9,608.3 1637.4,609.8 1638.7,617.7 1639.7,629.1 1640.7,646.7 1642.4,696.3 1645.4,817.6 1646.7,859.1 1647.4,877.9 1648.4,896.2 1649.4,908.2 1650.4,915.4 1650.9,917.5 1651.7,919.2 1651.9,919.3 1652.2,919.2 1652.4,918.1 1652.9,912.5 1653.4,901.1 1654.2,867.6 1656.2,728.6 1656.9,705.6 1657.4,698.7 1657.9,696.5 1658.2,697.0 1658.4,698.6 1658.7,701.6 1659.4,722.5 1661.4,854.4 1661.9,870.8 1662.2,875.5 1662.7,880.3 1662.9,880.8 1663.2,880.5 1663.7,879.0 1664.2,875.6 1664.7,869.6 1665.4,854.3 1667.7,785.4 1668.7,771.8 1669.2,768.8 1669.4,768.0 1669.7,767.6 1669.9,767.6 1670.4,768.3 1670.7,769.1 1671.2,771.6 1671.9,778.3 1672.4,785.5 1673.4,807.8 1675.7,873.7 1676.7,890.2 1677.7,898.1 1678.4,900.4 1678.7,900.5 1679.2,900.4 1680.2,899.1 1681.2,895.7 1682.4,887.2 1684.7,862.6 1685.7,854.4 1686.4,850.6 1687.2,848.3 1687.9,847.1 1688.4,846.8 1688.9,846.8 1689.7,847.8 1690.4,850.0 1691.7,858.0 1692.7,869.7 1694.9,903.2 1696.2,914.3 1696.7,916.8 1697.4,919.2 1698.2,920.2 1698.7,920.3 1699.2,919.2 1699.4,917.8 1699.9,912.9" stroke="#2ca02c"/>
<path d="M1372.9,804.4 1373.4,804.8 1373.7,805.4 1374.4,809.4 1375.4,821.4 1376.2,837.5 1377.9,886.1 1378.9,903.4 1379.4,908.3 1380.2,912.3 1380.4,913.0 1380.9,913.4 1381.4,912.6 1382.2,908.6 1382.7,903.5 1383.7,885.0 1384.4,862.0 1386.4,781.7 1387.4,755.2 1388.2,744.1 1388.9,738.2 1389.4,736.5 1389.7,736.1 1389.9,736.1 1390.7,737.2 1391.2,738.8 1391.9,742.9 1392.7,749.4 1393.4,759.1 1394.2,772.7 1395.2,797.2 1397.7,870.8 1398.9,896.7 1399.7,906.9 1400.7,915.5 1401.7,920.0 1402.4,921.3 1402.7,921.3 1402.9,921.0 1403.7,915.7 1404.2,907.0 1405.9,845.5 1406.4,834.8 1407.2,827.8 1407.4,827.1 1407.7,827.0 1407.9,827.4 1408.4,830.8 1408.7,834.1 1410.2,877.1 1410.7,886.0 1411.2,889.9 1411.4,890.6 1411.7,890.6 1412.2,887.5 1412.4,884.1 1413.2,863.7 1413.7,838.1 1415.7,688.6 1416.2,669.1 1416.7,658.0 1417.2,652.9 1417.4,652.0 1417.7,652.1 1418.2,653.2 1418.7,655.9 1419.4,663.1 1420.7,687.5 1421.9,733.0 1424.7,863.2 1425.7,891.1 1426.2,900.2 1426.9,909.2 1427.4,912.8 1427.9,914.8 1428.4,915.4 1428.9,914.4 1429.7,909.4 1430.4,898.8 1431.7,862.4 1433.7,763.7 1434.7,726.5 1435.2,714.6 1435.9,703.3 1436.7,697.8 1436.9,697.0 1437.2,696.6 1437.4,696.6 1437.9,697.6 1438.4,700.3 1439.2,707.7 1440.4,733.4 1441.4,770.1 1443.4,862.1 1444.4,893.2 1444.9,903.4 1445.7,913.5 1446.4,918.7 1446.9,920.2 1447.2,920.3 1447.4,920.1 1447.9,918.1 1448.4,913.7 1449.4,894.8 1450.4,856.6 1452.4,756.0 1453.2,734.2 1454.2,719.9 1454.7,717.0 1454.9,716.4 1455.2,716.3 1455.7,716.6 1456.2,717.3 1457.2,720.9 1458.2,728.3 1460.2,750.3 1460.7,754.1 1461.4,757.8 1462.2,759.6 1462.7,760.1 1463.2,760.2 1463.9,759.1 1464.4,757.4 1465.2,753.0 1465.7,748.7 1466.9,731.1 1467.9,708.8 1470.4,640.3 1471.4,621.3 1472.4,609.3 1473.4,602.7 1473.9,600.9 1474.4,599.8 1474.9,599.5 1475.2,600.1 1475.7,604.5 1476.4,624.4 1477.7,678.1 1478.2,687.4 1478.4,689.6 1478.7,690.7 1478.9,690.9 1479.4,688.4 1479.7,685.3 1480.2,673.5 1481.7,610.5 1482.2,601.7 1482.4,599.6 1482.7,598.7 1482.9,598.6 1483.4,600.8 1483.9,606.4 1484.9,633.1 1487.2,771.8 1487.9,803.6 1488.7,820.2 1489.2,825.5 1489.7,827.3 1489.9,827.0 1490.2,825.7 1490.4,823.0 1491.2,804.5 1493.2,682.5 1493.7,666.8 1493.9,662.2 1494.4,657.5 1494.7,656.9 1494.9,657.3 1495.4,660.8 1496.2,675.0 1496.9,706.1 1498.2,788.0 1498.9,824.5 1499.7,842.6 1500.2,847.8 1500.4,848.8 1500.7,849.1 1501.2,847.4 1501.7,842.6 1502.4,826.4 1504.7,721.8 1505.2,708.6 1505.9,698.7 1506.4,696.6 1506.7,696.5 1506.9,696.8 1507.7,699.5 1508.2,703.3 1509.2,718.4 1510.7,755.7 1511.4,769.8 1512.4,779.2 1512.9,781.1 1513.4,781.8 1513.7,781.7 1514.2,780.5 1514.7,777.6 1515.7,764.2 1517.7,705.4 1518.4,688.6 1518.9,681.7 1519.4,677.6 1519.9,675.4 1520.4,674.8 1520.7,677.2 1520.9,684.6 1521.4,723.6 1522.7,900.1 1522.9,912.7 1523.2,918.9 1523.4,920.3 1523.9,919.4 1524.2,918.4 1524.7,915.0 1525.4,905.5 1525.9,895.4 1526.9,863.7 1529.2,767.1 1529.9,747.0 1530.9,732.2 1531.7,727.3 1531.9,726.6 1532.2,726.2 1532.4,726.2 1532.9,726.8 1533.4,728.2 1534.2,732.5 1535.2,743.9 1536.9,777.3 1537.9,791.8 1538.4,796.1 1539.2,800.0 1539.9,801.5 1540.2,801.6 1540.4,801.4 1540.9,799.6 1541.4,795.3 1542.2,782.1 1544.4,710.3 1545.2,700.2 1545.9,696.7 1546.2,696.5 1546.4,697.0 1546.9,700.2 1547.7,713.1 1548.4,740.7 1550.2,833.1 1550.9,852.4 1551.4,858.5 1551.9,860.8 1552.2,860.7 1552.4,858.0 1552.9,839.3 1553.9,735.6 1554.4,702.9 1554.9,692.9 1555.2,693.0 1555.4,696.7 1555.9,720.3 1556.2,744.3 1557.2,866.0 1557.4,879.8 1557.9,890.4 1558.2,890.3 1558.4,888.0 1558.7,883.4 1559.2,864.1 1560.7,731.3 1561.2,707.5 1561.4,701.3 1561.9,696.5 1562.2,697.1 1562.4,699.4 1562.7,704.0 1563.2,722.5 1564.7,842.0 1565.2,862.1 1565.7,870.0 1565.9,870.9 1566.2,870.3 1566.4,868.6 1566.9,860.0 1567.4,841.4 1568.7,773.4 1569.2,760.9 1569.7,756.3 1569.9,755.9 1570.2,756.1 1570.7,757.8 1571.2,761.6 1571.7,768.3 1573.7,821.5 1574.7,836.8 1575.2,839.9 1575.4,840.7 1575.7,841.1 1575.9,841.2 1576.4,840.8 1576.9,839.9 1577.9,836.5 1578.9,830.3 1579.9,820.7 1580.9,806.5 1581.7,792.5 1582.9,762.3 1585.9,676.3 1587.7,640.0 1588.7,626.5 1589.7,617.3 1590.9,610.5 1591.4,609.0 1592.2,607.7 1592.7,607.5 1592.9,607.9 1593.4,610.9 1593.9,617.4 1594.4,628.7 1595.4,671.1 1597.2,777.3 1597.9,803.7 1598.4,813.5 1598.9,819.0 1599.4,821.3 1599.7,821.3 1600.2,817.6 1600.4,813.2 1600.9,796.5 1602.4,711.7 1602.7,704.8 1603.2,697.8 1603.4,696.6 1603.7,697.2 1603.9,701.6 1604.4,728.8 1605.7,891.8 1605.9,906.9 1606.4,918.2 1606.7,917.4 1606.9,912.5 1607.2,902.1 1608.7,724.3 1608.9,710.4 1609.4,700.5 1609.7,701.8 1609.9,707.2 1610.2,718.4 1611.4,873.6 1611.9,907.7 1612.2,914.3 1612.4,916.4 1612.7,914.7 1612.9,908.8 1613.4,877.2 1614.7,725.3 1614.9,713.7 1615.2,708.0 1615.4,706.4 1615.7,708.6 1615.9,715.2 1616.2,727.9 1617.4,882.5 1617.7,901.2 1618.2,917.2 1618.4,918.3 1618.9,913.3 1619.4,896.7 1620.9,760.8 1621.4,731.7 1621.9,719.0 1622.2,716.7 1622.4,716.5 1622.9,723.9 1623.4,749.1 1624.4,834.1 1624.9,850.2 1625.2,852.8 1625.4,853.0 1625.9,852.0 1626.2,850.9 1626.7,847.5 1627.7,833.3 1628.4,814.0 1630.2,752.9 1630.9,734.4 1631.9,721.2 1632.4,718.0 1632.7,717.1 1633.2,716.3 1633.7,716.6 1633.9,717.1 1634.4,718.6 1635.4,724.4 1636.4,735.2 1637.2,747.7 1638.4,778.4 1641.2,866.8 1641.9,885.0 1642.9,902.2 1643.9,912.7 1644.9,918.3 1645.4,919.7 1645.9,920.3 1646.2,920.3 1646.7,919.4 1647.2,917.1 1647.9,910.6 1648.7,899.5 1649.9,866.9 1650.9,825.1 1653.2,705.5 1654.4,656.7 1655.2,637.9 1655.9,625.5 1656.7,617.9 1657.2,615.0 1657.7,613.6 1657.9,613.4 1658.2,613.6 1658.7,615.7 1659.2,620.5 1659.7,628.8 1660.7,660.9 1662.7,753.6 1663.7,774.9 1664.2,779.6 1664.4,780.9 1664.7,781.6 1664.9,781.8 1665.4,781.1 1665.9,779.2 1666.7,773.7 1667.4,763.7 1667.9,753.8 1668.9,725.0 1670.9,649.9 1672.2,618.7 1672.9,608.3 1673.9,601.2 1674.4,599.8 1674.7,599.6 1674.9,599.6 1675.4,601.2 1675.7,602.9 1676.7,616.6 1677.4,637.7 1679.7,748.6 1680.4,775.5 1681.4,794.7 1681.9,799.2 1682.2,800.5 1682.7,801.6 1682.9,801.3 1683.2,800.1 1683.7,795.0 1684.4,777.2 1685.2,741.9 1686.4,664.9 1687.2,636.4 1687.9,623.6 1688.4,620.6 1688.7,620.3 1688.9,621.2 1689.7,633.0 1690.4,665.0 1692.2,832.8 1692.9,888.3 1693.7,915.3 1693.9,919.8 1694.4,924.1 1694.7,924.3 1695.2,923.0 1695.7,919.6 1696.7,903.4 1697.4,879.7 1698.9,818.8 1699.9,794.9" stroke="#d62728"/>
<path d="M1372.9,693.7 1373.4,694.0 1373.7,694.3 1374.2,695.6 1374.9,699.1 1375.4,702.9 1376.4,715.1 1378.9,757.5 1379.9,766.5 1380.4,769.1 1381.2,771.3 1381.4,771.7 1381.9,771.9 1382.4,771.6 1382.9,770.8 1383.7,768.5 1384.4,764.4 1385.7,751.8 1387.7,720.8 1388.7,708.6 1389.9,700.1 1390.4,698.3 1391.2,696.9 1391.9,696.5 1392.7,697.4 1393.4,699.8 1393.9,702.6 1394.9,712.2 1396.7,736.3 1397.7,745.1 1398.2,747.6 1398.9,749.7 1399.7,750.3 1400.2,749.9 1400.4,749.3 1401.2,745.8 1401.7,741.8 1402.9,723.2 1403.9,697.4 1405.7,642.1 1406.9,615.3 1407.7,606.4 1408.4,601.2 1408.9,599.4 1409.4,598.6 1409.7,598.6 1409.9,598.9 1410.2,599.8 1410.9,605.1 1411.4,611.5 1412.7,642.3 1413.7,686.4 1415.7,799.4 1416.7,838.4 1417.2,851.2 1417.9,863.9 1418.7,870.6 1419.2,872.5 1419.4,872.8 1419.7,872.7 1420.4,868.7 1420.9,862.6 1421.9,837.7 1422.7,804.3 1424.4,703.2 1425.2,673.9 1425.9,656.8 1426.4,650.4 1426.9,647.0 1427.2,646.3 1427.4,646.1 1427.7,646.8 1427.9,648.8 1428.4,659.4 1429.7,705.7 1430.2,710.4 1430.4,710.7 1430.7,709.9 1431.2,704.2 1431.7,690.1 1432.9,622.8 1433.4,606.9 1433.9,600.0 1434.2,598.7 1434.4,598.6 1434.9,599.3 1435.4,601.0 1435.9,603.8 1436.9,613.5 1437.7,625.5 1438.4,642.6 1439.7,684.0 1442.4,797.1 1443.4,825.4 1444.7,847.1 1445.4,854.6 1446.4,859.8 1446.9,860.8 1447.2,861.0 1447.4,860.8 1448.2,857.1 1448.7,851.1 1449.2,841.1 1450.7,789.4 1451.4,769.4 1451.9,761.9 1452.4,757.7 1452.7,756.6 1452.9,756.0 1453.2,755.9 1453.7,756.9 1453.9,758.0 1454.4,761.9 1454.9,768.3 1455.7,784.6 1457.9,875.1 1458.7,898.5 1459.7,915.7 1460.2,919.8 1460.4,921.1 1460.9,922.3 1461.2,922.3 1461.4,921.8 1461.7,921.0 1462.2,917.9 1463.2,903.8 1464.2,874.4 1466.4,784.0 1467.4,764.5 1467.9,759.5 1468.4,756.8 1468.9,755.9 1469.2,756.1 1469.7,758.1 1470.2,762.8 1470.7,771.4 1471.4,793.9 1472.7,843.7 1473.7,865.9 1474.4,871.9 1474.7,872.7 1474.9,872.8 1475.2,872.6 1475.9,869.3 1476.7,861.3 1477.7,840.6 1478.4,814.7 1481.4,662.9 1482.4,633.3 1483.4,617.9 1483.9,613.9 1484.4,611.8 1484.7,611.5 1484.9,611.5 1485.4,612.3 1485.7,613.2 1486.4,618.8 1487.9,641.9 1488.4,647.1 1489.2,650.7 1489.7,651.4 1490.2,651.1 1490.7,650.2 1491.2,648.2 1491.9,642.9 1493.9,614.4 1494.7,606.3 1495.4,601.8 1495.9,600.3 1496.4,599.6 1496.7,599.5 1496.9,599.7 1497.4,601.0 1498.2,605.8 1498.9,614.8 1499.4,624.0 1500.7,661.3 1503.2,761.3 1503.9,779.8 1504.9,794.2 1505.7,799.6 1506.4,801.6 1506.9,801.4 1507.4,800.6 1508.4,796.3 1509.7,783.0 1511.7,750.3 1512.2,744.8 1512.9,739.6 1513.7,736.9 1514.2,736.2 1514.7,736.1 1515.2,736.6 1515.7,737.6 1516.7,741.4 1517.4,746.1 1518.2,753.0 1519.7,774.8 1520.7,796.0 1523.4,865.5 1524.9,892.9 1525.7,902.1 1526.7,910.5 1527.7,915.5 1528.2,917.0 1528.9,918.2 1529.4,918.3 1529.9,917.4 1530.4,915.0 1530.9,911.1 1531.7,901.7 1532.4,886.8 1533.9,835.1 1536.2,717.2 1537.4,664.7 1538.2,643.8 1538.9,629.6 1539.9,618.8 1540.4,615.9 1540.9,614.6 1541.2,614.4 1541.4,614.5 1541.9,615.9 1542.7,621.5 1543.4,633.8 1544.7,666.4 1545.4,681.1 1546.2,688.3 1546.7,690.4 1547.2,691.0 1547.7,690.1 1548.2,687.4 1549.7,664.5 1550.2,659.5 1550.7,657.4 1550.9,657.0 1551.7,657.1 1552.4,657.7 1552.9,658.5 1553.9,661.4 1555.4,667.6 1555.9,669.1 1556.7,670.4 1557.4,671.1 1558.2,671.1 1558.7,670.5 1559.2,669.0 1559.9,664.3 1560.4,658.9 1562.7,622.9 1563.4,616.4 1563.9,614.1 1564.4,612.8 1564.9,612.4 1565.2,612.6 1565.7,614.1 1565.9,615.6 1567.9,644.3 1568.2,645.8 1568.7,647.3 1568.9,647.4 1569.2,647.3 1569.7,646.4 1570.4,642.6 1570.9,637.7 1572.4,613.5 1573.2,604.5 1573.7,601.1 1574.2,599.3 1574.7,598.6 1574.9,598.6 1575.2,599.0 1575.7,601.6 1576.2,607.0 1576.9,622.5 1577.7,649.9 1579.2,721.3 1579.9,744.5 1580.7,756.7 1581.2,760.6 1581.7,762.0 1582.4,761.7 1583.2,760.6 1584.4,756.8 1585.7,749.4 1586.7,740.3 1588.2,719.7 1591.4,661.7 1592.4,648.0 1593.4,637.9 1594.4,631.0 1595.7,625.9 1596.2,624.7 1596.9,623.6 1597.7,623.3 1598.2,623.9 1598.7,625.4 1599.2,628.1 1599.9,635.4 1600.7,647.4 1602.9,695.2 1603.7,703.9 1604.2,707.4 1604.7,709.5 1605.2,710.6 1605.4,710.8 1605.9,710.6 1606.7,709.8 1607.4,707.8 1608.4,702.6 1610.2,687.5 1611.2,681.0 1611.9,678.4 1612.7,677.1 1613.4,676.7 1613.9,677.1 1614.2,677.7 1614.7,679.5 1615.2,682.5 1616.2,694.0 1618.2,735.5 1618.9,747.6 1619.9,756.6 1620.4,758.8 1621.2,760.2 1621.7,760.1 1622.2,759.1 1622.7,757.1 1623.2,753.4 1625.2,725.9 1625.9,719.6 1626.4,717.5 1626.9,716.5 1627.2,716.3 1627.4,716.4 1627.9,718.1 1628.7,726.2 1629.2,737.0 1631.4,821.2 1632.2,834.1 1632.7,837.9 1633.2,839.2 1633.4,839.0 1633.7,838.4 1634.2,835.6 1634.9,825.8 1635.7,806.0 1636.9,762.1 1637.7,745.6 1638.4,738.1 1638.9,736.3 1639.2,736.1 1639.4,736.4 1639.9,738.9 1640.4,744.4 1641.4,768.7 1643.4,869.2 1644.2,896.2 1644.9,910.6 1645.4,915.3 1645.9,917.3 1646.2,917.3 1646.4,916.5 1646.9,911.6 1647.4,901.7 1647.9,884.7 1648.7,841.6 1650.2,709.6 1650.9,659.2 1651.7,630.8 1652.2,621.0 1652.7,616.2 1652.9,615.4 1653.2,615.4 1653.9,616.5 1654.7,619.6 1655.2,623.2 1656.2,635.4 1657.7,661.7 1658.4,672.0 1659.4,679.7 1659.9,681.7 1660.4,682.7 1660.7,683.0 1661.2,683.0 1661.9,682.2 1662.7,680.0 1663.2,677.5 1664.2,669.2 1665.9,649.7 1666.9,642.9 1667.7,640.4 1668.4,639.3 1668.9,639.1 1669.2,639.5 1669.7,641.5 1670.4,649.1 1670.9,658.6 1672.4,704.2 1673.2,720.3 1673.9,728.1 1674.4,730.2 1674.7,730.5 1674.9,730.5 1675.4,729.5 1675.7,728.4 1676.2,725.0 1677.2,711.2 1677.9,692.4 1679.7,633.9 1680.7,612.3 1681.2,606.2 1681.9,601.1 1682.2,600.2 1682.7,599.5 1683.2,600.4 1683.7,603.5 1684.2,609.1 1685.2,631.4 1685.9,661.1 1687.4,738.3 1688.4,774.3 1689.4,791.8 1689.9,795.8 1690.4,797.5 1690.7,797.6 1690.9,796.8 1691.2,794.7 1691.7,785.5 1693.2,712.0 1693.7,696.6 1694.2,689.9 1694.4,688.8 1694.9,688.7 1695.7,689.4 1696.4,691.3 1697.2,694.9 1698.9,707.4 1699.9,711.7" stroke="#9467bd"/>
<path d="M1372.9,713.5 1373.4,713.3 1373.7,712.9 1374.4,710.5 1375.2,705.7 1375.7,700.7 1376.7,685.5 1378.4,650.8 1379.4,637.4 1379.9,633.2 1380.7,629.3 1381.2,627.9 1381.7,627.3 1381.9,627.3 1382.2,628.1 1382.9,639.9 1383.4,659.2 1385.2,789.7 1385.7,811.6 1386.2,822.9 1386.4,825.7 1386.7,827.1 1386.9,827.3 1387.4,826.0 1387.9,822.3 1388.7,809.5 1389.9,773.7 1390.4,764.1 1391.2,757.2 1391.4,756.3 1391.7,755.9 1391.9,755.9 1392.4,756.8 1392.9,758.9 1393.9,768.7 1396.2,818.2 1396.9,829.2 1397.4,833.5 1398.2,836.6 1398.7,837.2 1399.7,836.7 1400.9,834.6 1402.2,830.5 1403.2,825.2 1404.2,817.8 1406.2,795.1 1409.7,739.7 1411.2,720.3 1412.2,710.7 1413.2,703.6 1414.4,697.7 1415.7,694.3 1416.2,693.4 1416.9,692.7 1417.7,692.6 1418.2,693.1 1419.2,696.0 1420.2,702.6 1421.4,718.4 1423.9,762.8 1424.7,771.4 1425.4,776.9 1426.4,780.7 1426.9,781.6 1427.4,781.8 1428.2,781.3 1428.7,780.5 1429.9,776.4 1430.7,772.1 1431.4,766.0 1432.7,751.0 1436.4,681.3 1437.9,660.8 1438.9,652.1 1439.9,646.6 1440.4,644.8 1441.2,643.0 1441.9,642.2 1442.4,642.3 1442.9,644.5 1443.2,646.9 1443.7,655.2 1445.4,718.7 1445.9,730.8 1446.7,739.1 1446.9,740.1 1447.2,740.4 1447.4,740.2 1447.9,738.2 1448.2,736.0 1448.7,728.3 1449.9,699.9 1450.4,694.7 1450.9,692.7 1451.2,692.6 1451.4,692.9 1451.7,693.8 1452.2,698.1 1452.7,707.2 1453.7,734.1 1454.2,742.1 1454.7,745.6 1454.9,746.3 1455.2,746.4 1455.4,745.9 1455.9,742.3 1457.2,717.3 1457.7,713.1 1457.9,712.4 1458.2,712.4 1458.7,713.8 1459.4,720.5 1460.2,734.7 1460.9,759.7 1462.9,863.8 1463.7,892.2 1464.7,912.7 1465.2,917.6 1465.4,919.0 1465.9,920.3 1466.2,920.2 1466.4,919.3 1466.9,915.4 1467.7,901.5 1468.4,873.5 1469.9,800.1 1470.4,785.7 1471.2,774.6 1471.7,771.8 1471.9,771.5 1472.7,772.0 1473.7,774.5 1474.7,779.7 1475.9,792.0 1478.4,831.3 1479.7,845.8 1480.4,851.2 1481.4,855.2 1481.9,856.3 1482.7,857.0 1482.9,857.0 1483.2,856.6 1483.4,855.8 1483.9,852.8 1484.4,847.4 1485.4,826.9 1487.7,736.9 1488.4,714.5 1489.4,698.5 1490.2,693.5 1490.7,692.6 1490.9,692.7 1491.7,696.7 1492.2,703.0 1493.2,728.0 1493.9,761.6 1495.7,863.1 1496.4,892.5 1497.2,909.6 1497.7,916.0 1498.4,920.1 1498.7,920.3 1498.9,920.3 1499.7,919.3 1501.2,912.4 1501.7,910.9 1502.2,910.2 1502.7,910.1 1502.9,910.2 1503.4,910.9 1503.9,912.8 1505.4,922.5 1505.9,923.8 1506.4,924.3 1506.7,924.2 1507.2,920.3 1507.7,910.2 1508.4,877.1 1510.2,714.4 1510.9,664.2 1511.7,640.4 1511.9,636.6 1512.4,633.2 1512.7,633.9 1512.9,637.5 1513.2,644.6 1513.7,674.1 1515.2,871.4 1515.7,905.9 1515.9,914.7 1516.4,921.3 1516.7,921.3 1517.2,920.6 1517.9,918.0 1518.7,913.1 1519.2,908.0 1520.2,892.4 1522.2,845.6 1523.2,826.6 1524.4,813.1 1525.2,809.2 1525.7,807.8 1526.2,807.2 1526.7,807.3 1527.2,808.2 1527.9,811.1 1528.7,816.5 1529.4,825.5 1530.4,844.1 1532.4,891.9 1533.2,905.1 1533.9,914.0 1534.9,920.6 1535.4,922.3 1535.9,923.2 1536.2,923.3 1536.7,923.1 1537.4,921.9 1538.7,917.1 1539.7,909.9 1540.4,902.0 1541.9,878.0 1545.7,783.3 1546.9,757.7 1548.2,740.3 1548.9,733.3 1549.7,728.3 1550.7,724.2 1551.2,723.0 1551.7,722.4 1552.2,722.3 1552.7,725.2 1553.4,741.9 1554.9,809.3 1555.7,820.4 1555.9,821.3 1556.2,821.3 1556.7,818.5 1557.2,811.2 1557.7,796.8 1559.4,710.2 1560.2,693.3 1560.4,690.7 1560.9,688.6 1561.2,688.7 1561.7,689.4 1562.2,691.2 1562.9,696.3 1563.4,701.7 1564.4,719.3 1566.9,780.5 1567.4,788.2 1568.2,795.8 1568.7,798.9 1569.4,801.2 1569.9,801.6 1570.4,801.2 1571.2,799.2 1571.9,794.8 1572.4,790.2 1573.4,775.7 1575.4,735.3 1576.7,719.7 1577.4,715.1 1577.9,713.4 1578.4,712.5 1578.9,712.4 1579.2,712.8 1579.9,716.6 1580.9,729.6 1581.9,756.3 1584.2,858.4 1585.2,891.6 1585.7,902.1 1586.4,911.9 1586.9,915.4 1587.2,916.5 1587.7,917.4 1587.9,917.2 1588.2,916.5 1588.7,913.6 1589.2,908.0 1589.7,898.8 1590.4,876.1 1592.2,803.6 1592.9,784.9 1593.7,775.5 1594.2,772.7 1594.4,772.1 1594.7,772.0 1594.9,772.2 1595.7,774.6 1596.2,778.1 1597.2,792.6 1599.4,844.6 1600.4,854.7 1600.9,856.9 1601.4,857.7 1601.7,857.7 1602.2,856.3 1602.7,852.7 1603.7,835.6 1605.9,747.4 1606.4,732.7 1607.2,719.4 1607.9,713.5 1608.4,712.4 1608.7,712.6 1608.9,713.5 1609.4,718.7 1610.7,746.5 1611.2,749.9 1611.4,750.3 1611.7,749.3 1612.2,737.5 1612.4,724.0 1613.7,618.9 1613.9,610.8 1614.2,606.7 1614.4,605.5 1614.9,606.1 1615.2,606.9 1615.9,611.4 1616.7,620.4 1617.2,629.7 1618.2,657.7 1619.9,719.6 1620.9,743.1 1621.4,750.3 1622.2,756.9 1622.9,759.9 1623.2,760.2 1623.4,760.2 1623.7,759.2 1624.4,748.9 1624.9,732.4 1626.4,640.1 1626.9,618.7 1627.7,603.5 1627.9,601.5 1628.2,600.6 1628.4,600.6 1628.9,601.5 1629.4,603.6 1630.2,609.4 1631.4,629.1 1632.7,665.9 1635.2,764.7 1636.2,790.6 1637.2,805.8 1637.9,812.0 1638.7,814.9 1638.9,815.3 1639.4,815.3 1640.2,813.7 1640.7,811.1 1641.2,806.8 1642.9,781.8 1643.7,775.2 1644.2,772.9 1644.9,771.6 1645.4,771.8 1645.7,772.3 1646.2,774.2 1647.2,783.0 1647.9,796.0 1650.4,861.4 1651.2,872.3 1651.7,876.6 1652.2,879.2 1652.4,880.0 1652.9,880.7 1653.4,880.5 1653.7,880.0 1654.4,876.9 1654.9,873.0 1655.9,859.2 1658.4,805.9 1659.4,795.7 1659.9,793.1 1660.7,791.4 1661.2,791.4 1661.7,792.2 1662.4,795.1 1663.2,800.7 1663.7,806.3 1664.7,823.6 1666.7,875.0 1667.7,895.6 1668.9,910.1 1669.7,914.3 1670.4,916.1 1670.9,916.4 1671.7,915.4 1672.2,913.7 1672.7,910.9 1673.4,903.7 1674.9,881.9 1675.7,873.7 1676.7,868.1 1677.2,866.9 1677.7,866.5 1678.2,866.7 1678.4,867.1 1678.9,868.5 1679.9,874.6 1681.9,902.0 1682.9,911.6 1683.7,915.0 1684.4,916.3 1684.9,916.2 1685.2,915.8 1685.7,914.1 1686.7,905.9 1687.4,893.6 1689.4,839.3 1690.2,823.6 1691.2,811.9 1691.7,809.0 1692.2,807.5 1692.4,807.2 1692.7,807.2 1692.9,808.1 1693.4,813.7 1693.7,819.2 1695.2,889.1 1695.7,903.3 1696.2,909.3 1696.4,910.3 1696.7,910.4 1697.2,909.1 1697.9,902.4 1699.9,855.0" stroke="#8c564b"/>
<path d="M1372.9,674.0 1375.2,673.8 1378.2,672.9 1380.2,672.9 1380.7,673.8 1380.9,674.9 1382.2,682.2 1382.4,682.8 1382.9,683.0 1383.4,681.7 1383.9,677.6 1384.4,669.3 1386.4,609.0 1387.2,600.4 1387.7,598.6 1387.9,598.6 1388.2,599.5 1388.9,608.4 1389.7,631.5 1391.4,745.9 1392.2,781.5 1392.9,798.4 1393.4,802.8 1393.7,803.5 1393.9,803.5 1394.4,801.7 1394.9,797.4 1395.9,777.7 1397.9,689.8 1398.9,658.5 1399.4,650.2 1399.9,645.5 1400.4,643.3 1400.7,643.1 1400.9,643.5 1401.7,651.2 1402.4,672.8 1404.7,820.4 1405.2,840.2 1405.9,855.3 1406.4,858.7 1406.7,859.0 1406.9,858.9 1407.7,858.2 1408.4,856.4 1408.9,854.6 1409.9,849.1 1411.4,834.2 1414.2,791.3 1415.7,773.5 1416.7,766.4 1417.7,762.2 1418.2,760.9 1418.9,759.9 1419.4,759.6 1419.7,759.8 1419.9,760.2 1420.4,762.5 1420.9,766.7 1421.9,783.6 1422.7,806.4 1424.4,875.4 1425.2,895.4 1426.2,909.5 1426.7,912.8 1426.9,913.7 1427.4,914.4 1427.9,913.2 1428.2,911.7 1428.9,903.3 1429.7,886.9 1430.2,869.9 1430.9,833.6 1433.2,694.1 1433.9,664.8 1434.7,647.1 1435.2,640.1 1435.9,635.0 1436.2,634.4 1436.9,634.2 1437.7,633.4 1438.7,630.9 1439.4,627.5 1441.2,616.8 1442.2,612.8 1442.9,611.3 1443.7,610.6 1444.2,610.4 1444.4,610.6 1444.7,611.2 1445.4,616.3 1446.2,627.2 1447.4,664.6 1448.4,716.8 1450.2,829.9 1451.4,885.2 1451.9,898.7 1452.7,911.8 1453.4,918.5 1453.7,919.6 1453.9,920.2 1454.2,920.3 1454.7,919.5 1454.9,918.6 1455.4,915.5 1456.2,907.1 1456.7,898.1 1457.7,870.0 1459.4,801.3 1460.2,778.5 1461.2,760.0 1461.7,754.9 1462.4,750.7 1462.9,749.8 1463.2,750.2 1463.7,758.8 1465.2,863.9 1465.4,872.4 1465.9,878.7 1466.4,878.5 1466.9,877.6 1467.7,874.5 1468.4,869.0 1468.9,863.4 1469.9,846.9 1471.7,807.1 1472.7,788.6 1473.7,777.3 1474.2,773.9 1474.9,770.8 1475.7,769.6 1475.9,769.5 1476.2,770.0 1476.7,773.4 1476.9,776.9 1478.4,823.6 1479.2,836.6 1479.4,838.2 1479.7,839.1 1479.9,839.2 1480.4,838.2 1480.9,835.5 1481.9,823.8 1482.9,799.4 1485.4,694.1 1486.7,661.4 1487.2,654.4 1487.9,648.3 1488.4,646.6 1489.2,646.1 1489.7,645.3 1490.2,643.8 1490.7,641.3 1491.4,635.2 1493.4,612.6 1494.2,608.2 1494.7,606.6 1495.2,605.7 1495.7,605.5 1495.9,605.8 1496.4,608.9 1496.9,615.7 1497.4,627.5 1498.4,672.2 1500.4,798.1 1501.4,826.4 1501.9,832.5 1502.4,835.1 1502.7,835.2 1502.9,834.5 1503.4,830.2 1503.9,821.0 1504.4,804.7 1506.4,680.1 1506.9,658.7 1507.7,641.7 1507.9,638.8 1508.4,636.2 1508.7,636.3 1508.9,637.4 1509.2,639.7 1509.7,650.7 1510.7,684.3 1510.9,688.1 1511.4,690.9 1511.7,690.9 1511.9,690.3 1512.2,689.3 1512.7,684.9 1514.4,651.6 1514.7,649.5 1515.2,647.3 1515.4,647.0 1515.7,647.6 1515.9,649.9 1516.7,670.0 1517.2,700.3 1518.9,868.9 1519.7,898.9 1519.9,903.3 1520.2,905.8 1520.4,906.5 1520.7,905.3 1520.9,901.8 1521.2,895.5 1521.7,870.3 1522.9,742.1 1523.4,709.5 1523.9,695.0 1524.2,692.2 1524.4,691.6 1524.9,693.6 1525.4,699.3 1525.9,710.4 1526.7,741.3 1528.4,842.9 1528.9,858.6 1529.4,867.6 1529.9,871.9 1530.2,872.7 1530.4,872.8 1530.9,870.2 1531.4,863.5 1532.2,841.8 1533.9,734.9 1534.7,702.0 1535.4,686.4 1535.7,683.9 1536.2,681.7 1536.4,681.9 1536.7,683.1 1537.2,688.9 1537.9,709.6 1538.7,751.4 1539.9,846.6 1540.7,883.0 1541.2,895.9 1541.9,904.0 1542.2,904.5 1542.7,903.7 1543.4,899.5 1544.2,890.7 1544.7,881.6 1545.9,843.3 1548.7,693.6 1549.9,642.2 1551.2,614.8 1551.9,606.7 1552.4,603.8 1552.9,602.6 1553.2,602.5 1553.4,602.9 1553.9,604.7 1554.7,611.4 1555.4,625.3 1556.9,664.4 1557.4,672.6 1558.2,679.1 1558.7,680.8 1558.9,681.1 1559.2,681.0 1559.7,679.9 1559.9,678.7 1560.4,674.3 1561.7,656.3 1562.2,652.6 1562.4,651.7 1562.9,651.0 1563.2,651.2 1563.4,651.9 1563.9,655.9 1564.9,673.6 1565.4,678.0 1565.9,679.1 1566.2,678.9 1566.4,678.0 1567.4,667.9 1567.7,667.0 1567.9,666.8 1568.4,667.7 1568.9,670.2 1569.7,677.7 1570.7,697.4 1571.4,722.1 1573.9,847.7 1574.9,884.7 1575.4,897.0 1576.2,909.3 1576.9,915.9 1577.2,917.1 1577.7,918.3 1577.9,918.3 1578.2,917.9 1578.7,915.8 1579.4,909.2 1580.2,897.0 1580.7,885.0 1581.9,837.0 1584.2,704.5 1585.2,657.1 1585.9,633.0 1586.7,617.3 1587.4,607.9 1587.9,604.4 1588.4,602.7 1588.7,602.5 1588.9,602.9 1589.2,604.0 1589.9,612.8 1590.9,642.4 1591.7,684.2 1593.4,826.8 1594.2,873.5 1595.2,908.1 1595.7,916.7 1596.4,922.1 1596.7,922.3 1596.9,921.2 1597.4,914.3 1598.2,887.9 1598.9,832.0 1600.7,651.0 1601.4,614.3 1601.9,603.0 1602.4,598.7 1602.7,598.6 1602.9,599.0 1603.4,601.8 1604.4,616.2 1604.7,618.8 1605.2,621.3 1605.4,621.7 1606.2,621.5 1607.7,619.6 1608.4,619.3 1608.7,619.5 1608.9,620.0 1609.2,621.0 1609.9,628.8 1611.2,652.6 1611.7,657.3 1611.9,658.4 1612.4,659.3 1613.2,658.8 1613.7,657.8 1614.4,655.1 1614.9,652.2 1615.9,642.8 1618.4,611.1 1619.2,605.7 1620.2,601.8 1620.7,600.9 1621.2,600.6 1621.4,600.6 1621.9,602.4 1622.2,604.7 1622.7,613.3 1624.2,658.8 1624.7,665.0 1625.2,667.1 1625.4,667.2 1625.7,666.7 1625.9,665.5 1626.4,660.8 1627.9,626.2 1628.4,619.5 1628.7,617.8 1629.2,616.4 1629.4,616.4 1629.9,617.0 1630.4,618.4 1631.2,622.3 1631.7,626.4 1632.7,639.7 1635.2,696.4 1636.2,713.9 1637.2,724.2 1637.7,727.2 1638.4,729.8 1638.7,730.2 1639.2,730.6 1639.7,730.1 1640.4,727.7 1640.9,724.5 1641.7,716.1 1643.9,678.6 1644.7,672.4 1645.2,670.2 1645.7,669.1 1646.2,668.8 1646.4,669.3 1646.9,671.9 1647.2,674.5 1648.7,706.9 1649.2,713.4 1649.7,716.2 1649.9,716.7 1650.4,716.6 1650.9,716.2 1651.4,715.2 1653.2,707.3 1653.9,705.2 1654.4,704.6 1654.9,704.4 1655.2,704.6 1655.4,705.5 1655.9,709.4 1656.4,717.0 1657.2,738.5 1659.2,852.7 1659.9,885.5 1660.4,898.8 1660.9,906.9 1661.4,911.1 1661.7,912.1 1661.9,912.4 1662.4,911.5 1662.7,910.3 1663.2,906.5 1663.9,895.7 1664.4,884.1 1665.4,847.5 1667.9,724.7 1668.9,699.2 1669.9,687.5 1670.2,686.1 1670.7,684.7 1670.9,684.7 1671.2,685.6 1671.7,690.6 1672.2,701.1 1672.9,732.3 1674.9,868.9 1675.7,892.7 1676.2,899.9 1676.7,902.5 1676.9,902.4 1677.2,901.5 1677.7,897.4 1678.4,882.8 1679.2,852.9 1680.7,773.6 1681.2,757.8 1681.9,745.5 1682.2,743.6 1682.7,742.0 1682.9,742.5 1683.2,744.4 1683.4,748.1 1684.7,797.0 1685.2,807.1 1685.4,809.0 1685.7,809.5 1686.2,808.6 1686.4,807.5 1687.2,799.6 1688.7,762.3 1689.4,749.5 1689.9,745.6 1690.4,744.1 1690.7,744.0 1690.9,744.7 1691.2,746.5 1691.9,761.4 1693.4,825.0 1693.9,834.0 1694.4,837.1 1694.7,837.0 1695.2,827.8 1695.4,816.1 1696.4,716.9 1696.9,686.3 1697.2,679.8 1697.4,677.0 1697.7,676.7 1698.2,677.0 1698.7,677.9 1699.9,683.2" stroke="#e377c2"/>
</g>
<rect x="1372.9" y="580.8" width="327.1" height="361.6" fill="none" stroke="#000" stroke-width="3"/>
<line x1="1372.9" y1="943.5" x2="1372.9" y2="954.2" stroke="#000" stroke-width="3" />
<text x="1372.9" y="989.3" font-family='"Liberation Serif", "DejaVu Serif", serif' font-size="33.3" text-anchor="middle" font-weight="normal" font-style="normal" fill="#000"  stroke="#000" stroke-width="0.45">1000</text>
<line x1="1536.45" y1="943.5" x2="1536.45" y2="954.2" stroke="#000" stroke-width="3" />
<text x="1536.45" y="989.3" font-family='"Liberation Serif", "DejaVu Serif", serif' font-size="33.3" text-anchor="middle" font-weight="normal" font-style="normal" fill="#000"  stroke="#000" stroke-width="0.45">1500</text>
<line x1="1700.0" y1="943.5" x2="1700.0" y2="954.2" stroke="#000" stroke-width="3" />
<text x="1652.0" y="989.3" font-family='"Liberation Serif", "DejaVu Serif", serif' font-size="33.3" text-anchor="start" font-weight="normal" font-style="normal" fill="#000"  stroke="#000" stroke-width="0.45">2000</text>
<line x1="1361.3000000000002" y1="597.4" x2="1371.9" y2="597.4" stroke="#000" stroke-width="3" />
<text font-family='"Liberation Serif", "DejaVu Serif", serif' font-size="33.3" stroke="#000" stroke-width="0.45" x="1334.72" y="609.30" textLength="15.77" lengthAdjust="spacingAndGlyphs">1</text>
<line x1="1361.3000000000002" y1="679.525" x2="1371.9" y2="679.525" stroke="#000" stroke-width="3" />
<text font-family='"Liberation Serif", "DejaVu Serif", serif' font-size="33.3" stroke="#000" stroke-width="0.45" x="1307.28" y="691.42">0.5</text>
<line x1="1361.3000000000002" y1="761.65" x2="1371.9" y2="761.65" stroke="#000" stroke-width="3" />
<text font-family='"Liberation Serif", "DejaVu Serif", serif' font-size="33.3" stroke="#000" stroke-width="0.45" x="1332.25" y="773.55">0</text>
<line x1="1361.3000000000002" y1="843.775" x2="1371.9" y2="843.775" stroke="#000" stroke-width="3" />
<text font-family='"Liberation Serif", "DejaVu Serif", serif' font-size="33.3" stroke="#000" stroke-width="0.45"><tspan x="1281.88" y="859.27" textLength="24.5" lengthAdjust="spacingAndGlyphs">−</tspan><tspan x="1307.28" y="855.67">0.5</tspan></text>
<line x1="1361.3000000000002" y1="925.9" x2="1371.9" y2="925.9" stroke="#000" stroke-width="3" />
<text font-family='"Liberation Serif", "DejaVu Serif", serif' font-size="33.3" stroke="#000" stroke-width="0.45"><tspan x="1309.85" y="941.40" textLength="24.5" lengthAdjust="spacingAndGlyphs">−</tspan><tspan x="1334.72" y="937.80" textLength="15.77" lengthAdjust="spacingAndGlyphs">1</tspan></text>
<text fill="#000"><tspan x="1488.20" y="1024.00" font-family='"Liberation Serif", "DejaVu Serif", serif' font-size="37.88" font-style="italic" font-weight="normal" textLength="11.11" lengthAdjust="spacingAndGlyphs">t</tspan><tspan x="1502.57" y="1024.00" font-family='"Liberation Serif", "DejaVu Serif", serif' font-size="34.66" font-style="italic" font-weight="normal" textLength="26.01" lengthAdjust="spacingAndGlyphs">B</tspan><tspan x="1526.59" y="1028.70" font-family='"Liberation Serif", "DejaVu Serif", serif' font-size="21.82" font-style="normal" font-weight="normal" textLength="11.83" lengthAdjust="spacingAndGlyphs" stroke="#000" stroke-width="0.3">1</tspan><tspan x="1541.44" y="1028.66" font-family='"DejaVu Sans Light", "DejaVu Sans", "Liberation Sans", sans-serif' font-size="41.45" font-style="normal" font-weight="normal" textLength="14.91" lengthAdjust="spacingAndGlyphs" stroke="#000" stroke-width="0.3">/</tspan><tspan x="1558.60" y="1024.00" font-family='"Liberation Serif", "DejaVu Serif", serif' font-size="34.66" font-style="italic" font-weight="normal" textLength="24.64" lengthAdjust="spacingAndGlyphs">R</tspan></text>
<text x="1281.4" y="604.4" font-family='"DejaVu Sans", "Liberation Sans", sans-serif' font-size="30.3" text-anchor="start" font-weight="bold" font-style="normal" fill="#000" >e</text>
<text transform="translate(25.1,804.7) rotate(-90)" fill="#000"><tspan x="-1.13" y="0.00" font-family='"Liberation Serif", "DejaVu Serif", serif' font-size="32.91" font-style="italic" font-weight="bold" textLength="17.93" lengthAdjust="spacingAndGlyphs">û</tspan><tspan x="17.12" y="4.70" font-family='"Liberation Serif", "DejaVu Serif", serif' font-size="21.21" font-style="italic" font-weight="normal" textLength="12.54" lengthAdjust="spacingAndGlyphs" stroke="#000" stroke-width="0.3">i</tspan><tspan x="39.85" y="-1.10" font-family='"Liberation Serif", "DejaVu Serif", serif' font-size="23.33" font-style="normal" font-weight="normal" textLength="7.77" lengthAdjust="spacingAndGlyphs">·</tspan><tspan x="56.71" y="0.00" font-family='"Liberation Serif", "DejaVu Serif", serif' font-size="32.91" font-style="italic" font-weight="bold" textLength="15.75" lengthAdjust="spacingAndGlyphs">ê</tspan><tspan x="75.70" y="5.20" font-family='"Liberation Serif", "DejaVu Serif", serif' font-size="23.48" font-style="italic" font-weight="normal" textLength="11.93" lengthAdjust="spacingAndGlyphs" stroke="#000" stroke-width="0.3">x</tspan></text>
</svg>
</body></html>
